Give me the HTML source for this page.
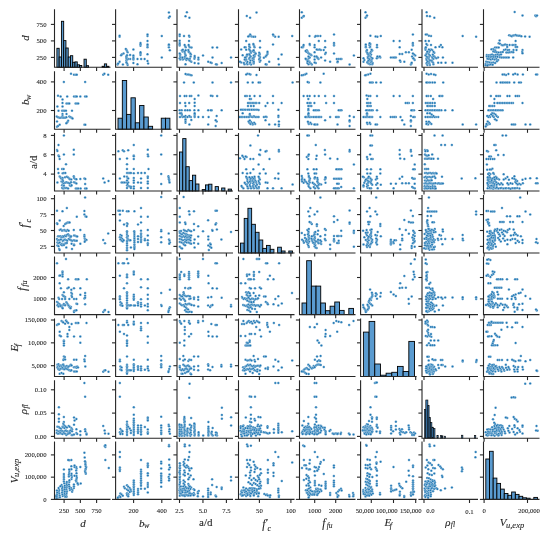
<!DOCTYPE html>
<html><head><meta charset="utf-8"><style>
html,body{margin:0;padding:0;background:#fff;}
body{width:550px;height:538px;overflow:hidden;}
svg{display:block;}
.sc circle{r:1.25px;}
</style></head><body>
<svg width="550" height="538" viewBox="0 0 550 538">
<rect width="550" height="538" fill="#ffffff"/>
<rect x="56.90" y="48.30" width="2.26" height="19.00" fill="#5a9bd0" stroke="#000" stroke-width="0.9"/>
<rect x="59.16" y="57.00" width="2.26" height="10.30" fill="#5a9bd0" stroke="#000" stroke-width="0.9"/>
<rect x="61.42" y="21.30" width="2.26" height="46.00" fill="#5a9bd0" stroke="#000" stroke-width="0.9"/>
<rect x="63.68" y="40.60" width="2.26" height="26.70" fill="#5a9bd0" stroke="#000" stroke-width="0.9"/>
<rect x="65.94" y="48.00" width="2.26" height="19.30" fill="#5a9bd0" stroke="#000" stroke-width="0.9"/>
<rect x="68.20" y="57.00" width="2.26" height="10.30" fill="#5a9bd0" stroke="#000" stroke-width="0.9"/>
<rect x="70.47" y="55.70" width="2.26" height="11.60" fill="#5a9bd0" stroke="#000" stroke-width="0.9"/>
<rect x="72.73" y="62.30" width="2.26" height="5.00" fill="#5a9bd0" stroke="#000" stroke-width="0.9"/>
<rect x="74.99" y="61.90" width="2.26" height="5.40" fill="#5a9bd0" stroke="#000" stroke-width="0.9"/>
<rect x="77.25" y="64.80" width="2.26" height="2.50" fill="#5a9bd0" stroke="#000" stroke-width="0.9"/>
<rect x="79.51" y="65.50" width="2.26" height="1.80" fill="#5a9bd0" stroke="#000" stroke-width="0.9"/>
<rect x="84.03" y="59.20" width="2.26" height="8.10" fill="#5a9bd0" stroke="#000" stroke-width="0.9"/>
<rect x="86.29" y="65.70" width="2.26" height="1.60" fill="#5a9bd0" stroke="#000" stroke-width="0.9"/>
<rect x="102.12" y="66.30" width="2.26" height="1.00" fill="#5a9bd0" stroke="#000" stroke-width="0.9"/>
<rect x="104.38" y="63.90" width="2.26" height="3.40" fill="#5a9bd0" stroke="#000" stroke-width="0.9"/>
<rect x="106.64" y="66.30" width="2.26" height="1.00" fill="#5a9bd0" stroke="#000" stroke-width="0.9"/>
<rect x="118.00" y="118.20" width="4.33" height="11.00" fill="#5a9bd0" stroke="#000" stroke-width="0.9"/>
<rect x="122.33" y="80.50" width="4.33" height="48.70" fill="#5a9bd0" stroke="#000" stroke-width="0.9"/>
<rect x="126.65" y="114.40" width="4.33" height="14.80" fill="#5a9bd0" stroke="#000" stroke-width="0.9"/>
<rect x="130.97" y="97.80" width="4.33" height="31.40" fill="#5a9bd0" stroke="#000" stroke-width="0.9"/>
<rect x="135.30" y="122.80" width="4.33" height="6.40" fill="#5a9bd0" stroke="#000" stroke-width="0.9"/>
<rect x="139.62" y="105.50" width="4.33" height="23.70" fill="#5a9bd0" stroke="#000" stroke-width="0.9"/>
<rect x="143.95" y="117.00" width="4.33" height="12.20" fill="#5a9bd0" stroke="#000" stroke-width="0.9"/>
<rect x="148.28" y="126.30" width="4.33" height="2.90" fill="#5a9bd0" stroke="#000" stroke-width="0.9"/>
<rect x="161.25" y="118.20" width="4.33" height="11.00" fill="#5a9bd0" stroke="#000" stroke-width="0.9"/>
<rect x="165.57" y="118.20" width="4.33" height="11.00" fill="#5a9bd0" stroke="#000" stroke-width="0.9"/>
<rect x="179.50" y="152.00" width="3.24" height="39.00" fill="#5a9bd0" stroke="#000" stroke-width="0.9"/>
<rect x="182.74" y="138.60" width="3.24" height="52.40" fill="#5a9bd0" stroke="#000" stroke-width="0.9"/>
<rect x="185.99" y="166.70" width="3.24" height="24.30" fill="#5a9bd0" stroke="#000" stroke-width="0.9"/>
<rect x="189.23" y="180.60" width="3.24" height="10.40" fill="#5a9bd0" stroke="#000" stroke-width="0.9"/>
<rect x="192.47" y="175.20" width="3.24" height="15.80" fill="#5a9bd0" stroke="#000" stroke-width="0.9"/>
<rect x="195.72" y="184.00" width="3.24" height="7.00" fill="#5a9bd0" stroke="#000" stroke-width="0.9"/>
<rect x="202.21" y="189.60" width="3.24" height="1.40" fill="#5a9bd0" stroke="#000" stroke-width="0.9"/>
<rect x="205.45" y="184.90" width="3.24" height="6.10" fill="#5a9bd0" stroke="#000" stroke-width="0.9"/>
<rect x="208.69" y="184.20" width="3.24" height="6.80" fill="#5a9bd0" stroke="#000" stroke-width="0.9"/>
<rect x="215.18" y="186.60" width="3.24" height="4.40" fill="#5a9bd0" stroke="#000" stroke-width="0.9"/>
<rect x="221.67" y="188.00" width="3.24" height="3.00" fill="#5a9bd0" stroke="#000" stroke-width="0.9"/>
<rect x="228.16" y="189.10" width="3.24" height="1.90" fill="#5a9bd0" stroke="#000" stroke-width="0.9"/>
<rect x="240.50" y="243.10" width="3.71" height="9.90" fill="#5a9bd0" stroke="#000" stroke-width="0.9"/>
<rect x="244.21" y="218.40" width="3.71" height="34.60" fill="#5a9bd0" stroke="#000" stroke-width="0.9"/>
<rect x="247.93" y="208.30" width="3.71" height="44.70" fill="#5a9bd0" stroke="#000" stroke-width="0.9"/>
<rect x="251.64" y="224.30" width="3.71" height="28.70" fill="#5a9bd0" stroke="#000" stroke-width="0.9"/>
<rect x="255.36" y="232.30" width="3.71" height="20.70" fill="#5a9bd0" stroke="#000" stroke-width="0.9"/>
<rect x="259.07" y="240.00" width="3.71" height="13.00" fill="#5a9bd0" stroke="#000" stroke-width="0.9"/>
<rect x="262.79" y="248.40" width="3.71" height="4.60" fill="#5a9bd0" stroke="#000" stroke-width="0.9"/>
<rect x="266.50" y="245.40" width="3.71" height="7.60" fill="#5a9bd0" stroke="#000" stroke-width="0.9"/>
<rect x="270.21" y="249.30" width="3.71" height="3.70" fill="#5a9bd0" stroke="#000" stroke-width="0.9"/>
<rect x="277.64" y="247.20" width="3.71" height="5.80" fill="#5a9bd0" stroke="#000" stroke-width="0.9"/>
<rect x="281.36" y="251.00" width="3.71" height="2.00" fill="#5a9bd0" stroke="#000" stroke-width="0.9"/>
<rect x="288.79" y="251.00" width="3.71" height="2.00" fill="#5a9bd0" stroke="#000" stroke-width="0.9"/>
<rect x="302.00" y="303.00" width="4.68" height="11.60" fill="#5a9bd0" stroke="#000" stroke-width="0.9"/>
<rect x="306.68" y="260.70" width="4.68" height="53.90" fill="#5a9bd0" stroke="#000" stroke-width="0.9"/>
<rect x="311.36" y="286.10" width="4.68" height="28.50" fill="#5a9bd0" stroke="#000" stroke-width="0.9"/>
<rect x="316.05" y="286.10" width="4.68" height="28.50" fill="#5a9bd0" stroke="#000" stroke-width="0.9"/>
<rect x="320.73" y="303.00" width="4.68" height="11.60" fill="#5a9bd0" stroke="#000" stroke-width="0.9"/>
<rect x="325.41" y="310.70" width="4.68" height="3.90" fill="#5a9bd0" stroke="#000" stroke-width="0.9"/>
<rect x="330.09" y="306.20" width="4.68" height="8.40" fill="#5a9bd0" stroke="#000" stroke-width="0.9"/>
<rect x="334.77" y="302.00" width="4.68" height="12.60" fill="#5a9bd0" stroke="#000" stroke-width="0.9"/>
<rect x="339.45" y="310.40" width="4.68" height="4.20" fill="#5a9bd0" stroke="#000" stroke-width="0.9"/>
<rect x="348.82" y="308.40" width="4.68" height="6.20" fill="#5a9bd0" stroke="#000" stroke-width="0.9"/>
<rect x="363.40" y="332.10" width="5.68" height="44.40" fill="#5a9bd0" stroke="#000" stroke-width="0.9"/>
<rect x="369.08" y="321.40" width="5.68" height="55.10" fill="#5a9bd0" stroke="#000" stroke-width="0.9"/>
<rect x="374.76" y="364.00" width="5.68" height="12.50" fill="#5a9bd0" stroke="#000" stroke-width="0.9"/>
<rect x="380.43" y="375.20" width="5.68" height="1.30" fill="#5a9bd0" stroke="#000" stroke-width="0.9"/>
<rect x="386.11" y="373.20" width="5.68" height="3.30" fill="#5a9bd0" stroke="#000" stroke-width="0.9"/>
<rect x="391.79" y="372.30" width="5.68" height="4.20" fill="#5a9bd0" stroke="#000" stroke-width="0.9"/>
<rect x="397.47" y="366.40" width="5.68" height="10.10" fill="#5a9bd0" stroke="#000" stroke-width="0.9"/>
<rect x="403.14" y="371.50" width="5.68" height="5.00" fill="#5a9bd0" stroke="#000" stroke-width="0.9"/>
<rect x="408.82" y="341.40" width="5.68" height="35.10" fill="#5a9bd0" stroke="#000" stroke-width="0.9"/>
<rect x="485.80" y="459.00" width="3.69" height="40.40" fill="#5a9bd0" stroke="#000" stroke-width="0.9"/>
<rect x="489.49" y="451.30" width="3.69" height="48.10" fill="#5a9bd0" stroke="#000" stroke-width="0.9"/>
<rect x="493.19" y="478.10" width="3.69" height="21.30" fill="#5a9bd0" stroke="#000" stroke-width="0.9"/>
<rect x="496.88" y="483.40" width="3.69" height="16.00" fill="#5a9bd0" stroke="#000" stroke-width="0.9"/>
<rect x="500.57" y="489.10" width="3.69" height="10.30" fill="#5a9bd0" stroke="#000" stroke-width="0.9"/>
<rect x="504.26" y="493.50" width="3.69" height="5.90" fill="#5a9bd0" stroke="#000" stroke-width="0.9"/>
<rect x="507.96" y="495.30" width="3.69" height="4.10" fill="#5a9bd0" stroke="#000" stroke-width="0.9"/>
<rect x="511.65" y="492.00" width="3.69" height="7.40" fill="#5a9bd0" stroke="#000" stroke-width="0.9"/>
<rect x="515.34" y="494.40" width="3.69" height="5.00" fill="#5a9bd0" stroke="#000" stroke-width="0.9"/>
<rect x="519.04" y="496.30" width="3.69" height="3.10" fill="#5a9bd0" stroke="#000" stroke-width="0.9"/>
<rect x="522.73" y="497.80" width="3.69" height="1.60" fill="#5a9bd0" stroke="#000" stroke-width="0.9"/>
<rect x="526.42" y="498.20" width="3.69" height="1.20" fill="#5a9bd0" stroke="#000" stroke-width="0.9"/>
<rect x="533.81" y="497.40" width="3.69" height="2.00" fill="#5a9bd0" stroke="#000" stroke-width="0.9"/>
<rect x="424.50" y="409.60" width="1.30" height="28.60" fill="#3b78ad" stroke="#000" stroke-width="0.6"/>
<rect x="425.80" y="400.00" width="2.10" height="38.20" fill="#3b78ad" stroke="#000" stroke-width="0.6"/>
<rect x="427.90" y="405.50" width="1.20" height="32.70" fill="#3b78ad" stroke="#000" stroke-width="0.6"/>
<rect x="429.10" y="417.60" width="1.30" height="20.60" fill="#3b78ad" stroke="#000" stroke-width="0.6"/>
<rect x="430.40" y="422.60" width="1.50" height="15.60" fill="#3b78ad" stroke="#000" stroke-width="0.6"/>
<rect x="431.90" y="427.20" width="1.40" height="11.00" fill="#3b78ad" stroke="#000" stroke-width="0.6"/>
<rect x="433.30" y="428.50" width="1.70" height="9.70" fill="#3b78ad" stroke="#000" stroke-width="0.6"/>
<rect x="436.90" y="435.30" width="1.30" height="2.90" fill="#3b78ad" stroke="#000" stroke-width="0.6"/>
<rect x="440.40" y="435.50" width="1.30" height="2.70" fill="#3b78ad" stroke="#000" stroke-width="0.6"/>
<rect x="441.70" y="435.80" width="1.30" height="2.40" fill="#3b78ad" stroke="#000" stroke-width="0.6"/>
<rect x="444.30" y="436.20" width="1.30" height="2.00" fill="#3b78ad" stroke="#000" stroke-width="0.6"/>
<rect x="461.60" y="435.20" width="1.30" height="3.00" fill="#3b78ad" stroke="#000" stroke-width="0.6"/>
<rect x="474.50" y="435.50" width="1.30" height="2.70" fill="#3b78ad" stroke="#000" stroke-width="0.6"/>
<g class="sc" fill="#1f77b4" stroke="#ffffff" stroke-width="0.3">
<circle cx="169.8" cy="50.3"/>
<circle cx="168.9" cy="47.3"/>
<circle cx="168.9" cy="45.5"/>
<circle cx="168.9" cy="44.5"/>
<circle cx="168.9" cy="17.7"/>
<circle cx="169.8" cy="16.5"/>
<circle cx="168.9" cy="12.6"/>
<circle cx="161.8" cy="57.6"/>
<circle cx="161.8" cy="36.1"/>
<circle cx="148.1" cy="63.6"/>
<circle cx="147.5" cy="61.0"/>
<circle cx="147.5" cy="54.2"/>
<circle cx="147.5" cy="47.3"/>
<circle cx="147.5" cy="45.8"/>
<circle cx="147.5" cy="44.5"/>
<circle cx="147.5" cy="40.9"/>
<circle cx="147.5" cy="36.1"/>
<circle cx="147.5" cy="34.6"/>
<circle cx="144.6" cy="59.0"/>
<circle cx="141.1" cy="59.0"/>
<circle cx="140.5" cy="54.9"/>
<circle cx="140.5" cy="53.4"/>
<circle cx="140.5" cy="52.2"/>
<circle cx="140.5" cy="45.8"/>
<circle cx="140.5" cy="44.3"/>
<circle cx="140.5" cy="43.1"/>
<circle cx="137.5" cy="64.2"/>
<circle cx="137.5" cy="59.0"/>
<circle cx="133.4" cy="63.0"/>
<circle cx="133.4" cy="59.4"/>
<circle cx="133.4" cy="58.2"/>
<circle cx="133.4" cy="57.0"/>
<circle cx="133.4" cy="55.4"/>
<circle cx="133.4" cy="49.4"/>
<circle cx="130.1" cy="59.0"/>
<circle cx="130.1" cy="54.9"/>
<circle cx="128.2" cy="59.0"/>
<circle cx="127.6" cy="64.9"/>
<circle cx="127.0" cy="63.6"/>
<circle cx="126.4" cy="62.2"/>
<circle cx="126.4" cy="60.6"/>
<circle cx="127.0" cy="59.4"/>
<circle cx="126.4" cy="58.6"/>
<circle cx="126.4" cy="57.6"/>
<circle cx="126.4" cy="56.4"/>
<circle cx="127.0" cy="55.2"/>
<circle cx="127.6" cy="52.2"/>
<circle cx="127.0" cy="50.9"/>
<circle cx="126.4" cy="49.7"/>
<circle cx="125.8" cy="48.9"/>
<circle cx="122.9" cy="64.6"/>
<circle cx="123.5" cy="53.4"/>
<circle cx="121.9" cy="54.2"/>
<circle cx="121.1" cy="55.2"/>
<circle cx="119.6" cy="61.8"/>
<circle cx="119.6" cy="36.8"/>
<circle cx="119.6" cy="35.8"/>
<circle cx="117.6" cy="64.6"/>
<circle cx="118.2" cy="63.6"/>
<circle cx="231.0" cy="57.6"/>
<circle cx="221.7" cy="63.0"/>
<circle cx="216.9" cy="64.6"/>
<circle cx="216.0" cy="64.2"/>
<circle cx="217.1" cy="47.6"/>
<circle cx="211.7" cy="63.0"/>
<circle cx="210.5" cy="62.4"/>
<circle cx="208.2" cy="61.8"/>
<circle cx="212.5" cy="57.6"/>
<circle cx="212.5" cy="47.6"/>
<circle cx="203.0" cy="55.4"/>
<circle cx="198.4" cy="63.6"/>
<circle cx="198.4" cy="59.4"/>
<circle cx="198.4" cy="57.8"/>
<circle cx="194.7" cy="63.0"/>
<circle cx="194.4" cy="58.8"/>
<circle cx="194.7" cy="57.6"/>
<circle cx="194.7" cy="56.1"/>
<circle cx="191.3" cy="61.8"/>
<circle cx="190.3" cy="61.0"/>
<circle cx="189.4" cy="60.3"/>
<circle cx="189.8" cy="58.8"/>
<circle cx="190.6" cy="56.4"/>
<circle cx="190.9" cy="54.6"/>
<circle cx="190.3" cy="53.4"/>
<circle cx="189.2" cy="52.2"/>
<circle cx="188.6" cy="51.6"/>
<circle cx="188.3" cy="50.1"/>
<circle cx="191.5" cy="47.6"/>
<circle cx="189.8" cy="47.3"/>
<circle cx="189.0" cy="46.1"/>
<circle cx="188.6" cy="44.9"/>
<circle cx="189.0" cy="40.9"/>
<circle cx="189.4" cy="36.8"/>
<circle cx="189.0" cy="35.8"/>
<circle cx="185.5" cy="64.2"/>
<circle cx="186.3" cy="60.0"/>
<circle cx="185.1" cy="58.8"/>
<circle cx="184.6" cy="57.6"/>
<circle cx="185.1" cy="56.4"/>
<circle cx="185.7" cy="55.2"/>
<circle cx="185.1" cy="54.0"/>
<circle cx="184.8" cy="52.8"/>
<circle cx="184.6" cy="51.6"/>
<circle cx="185.7" cy="50.3"/>
<circle cx="185.7" cy="47.3"/>
<circle cx="185.1" cy="46.1"/>
<circle cx="184.6" cy="44.9"/>
<circle cx="184.0" cy="36.1"/>
<circle cx="182.8" cy="59.4"/>
<circle cx="182.0" cy="58.2"/>
<circle cx="182.3" cy="57.6"/>
<circle cx="182.5" cy="51.6"/>
<circle cx="182.0" cy="50.3"/>
<circle cx="182.8" cy="49.7"/>
<circle cx="180.2" cy="59.4"/>
<circle cx="179.7" cy="58.2"/>
<circle cx="180.2" cy="57.0"/>
<circle cx="180.0" cy="55.8"/>
<circle cx="180.2" cy="54.6"/>
<circle cx="179.7" cy="53.4"/>
<circle cx="179.7" cy="45.5"/>
<circle cx="179.7" cy="44.3"/>
<circle cx="179.7" cy="43.1"/>
<circle cx="179.7" cy="40.7"/>
<circle cx="179.7" cy="36.1"/>
<circle cx="179.7" cy="34.6"/>
<circle cx="189.4" cy="17.7"/>
<circle cx="185.5" cy="16.3"/>
<circle cx="186.9" cy="12.3"/>
<circle cx="188.0" cy="59.0"/>
<circle cx="186.9" cy="58.6"/>
<circle cx="292.2" cy="36.1"/>
<circle cx="281.6" cy="54.6"/>
<circle cx="278.9" cy="64.6"/>
<circle cx="278.4" cy="59.0"/>
<circle cx="278.7" cy="36.8"/>
<circle cx="275.1" cy="36.8"/>
<circle cx="273.4" cy="35.6"/>
<circle cx="273.0" cy="34.6"/>
<circle cx="273.0" cy="44.5"/>
<circle cx="269.2" cy="61.8"/>
<circle cx="266.6" cy="64.6"/>
<circle cx="265.7" cy="64.2"/>
<circle cx="263.9" cy="57.8"/>
<circle cx="265.7" cy="56.4"/>
<circle cx="266.6" cy="55.2"/>
<circle cx="267.5" cy="54.0"/>
<circle cx="267.5" cy="52.8"/>
<circle cx="267.5" cy="51.8"/>
<circle cx="259.8" cy="61.8"/>
<circle cx="260.4" cy="60.6"/>
<circle cx="259.2" cy="59.4"/>
<circle cx="259.6" cy="58.2"/>
<circle cx="260.0" cy="57.0"/>
<circle cx="259.2" cy="56.1"/>
<circle cx="258.9" cy="55.2"/>
<circle cx="259.8" cy="54.0"/>
<circle cx="259.2" cy="52.8"/>
<circle cx="260.0" cy="47.6"/>
<circle cx="260.0" cy="40.9"/>
<circle cx="253.7" cy="63.6"/>
<circle cx="253.7" cy="62.4"/>
<circle cx="253.7" cy="61.2"/>
<circle cx="252.7" cy="60.0"/>
<circle cx="253.7" cy="59.0"/>
<circle cx="252.7" cy="58.2"/>
<circle cx="253.7" cy="57.6"/>
<circle cx="254.5" cy="56.4"/>
<circle cx="253.7" cy="55.4"/>
<circle cx="255.1" cy="54.6"/>
<circle cx="255.7" cy="53.4"/>
<circle cx="254.5" cy="52.2"/>
<circle cx="253.7" cy="51.6"/>
<circle cx="252.7" cy="50.9"/>
<circle cx="253.7" cy="50.3"/>
<circle cx="254.5" cy="47.3"/>
<circle cx="254.1" cy="46.1"/>
<circle cx="253.7" cy="44.9"/>
<circle cx="253.3" cy="44.1"/>
<circle cx="255.1" cy="36.8"/>
<circle cx="253.3" cy="36.8"/>
<circle cx="251.5" cy="36.4"/>
<circle cx="250.6" cy="35.8"/>
<circle cx="250.1" cy="34.6"/>
<circle cx="249.2" cy="36.1"/>
<circle cx="248.2" cy="36.4"/>
<circle cx="256.5" cy="12.6"/>
<circle cx="251.0" cy="64.6"/>
<circle cx="249.8" cy="63.6"/>
<circle cx="250.1" cy="62.4"/>
<circle cx="250.4" cy="60.6"/>
<circle cx="249.2" cy="58.8"/>
<circle cx="249.8" cy="57.6"/>
<circle cx="250.6" cy="56.4"/>
<circle cx="249.8" cy="55.2"/>
<circle cx="249.2" cy="54.2"/>
<circle cx="251.0" cy="52.8"/>
<circle cx="250.4" cy="51.6"/>
<circle cx="249.8" cy="50.3"/>
<circle cx="249.2" cy="49.1"/>
<circle cx="249.8" cy="47.3"/>
<circle cx="249.2" cy="46.1"/>
<circle cx="249.2" cy="44.5"/>
<circle cx="247.4" cy="64.2"/>
<circle cx="246.8" cy="63.0"/>
<circle cx="247.4" cy="61.8"/>
<circle cx="245.6" cy="60.6"/>
<circle cx="246.2" cy="59.4"/>
<circle cx="245.6" cy="58.2"/>
<circle cx="246.2" cy="57.0"/>
<circle cx="246.8" cy="55.8"/>
<circle cx="247.1" cy="54.6"/>
<circle cx="246.2" cy="49.7"/>
<circle cx="245.6" cy="47.3"/>
<circle cx="250.1" cy="17.7"/>
<circle cx="246.8" cy="15.9"/>
<circle cx="244.5" cy="64.2"/>
<circle cx="243.9" cy="63.0"/>
<circle cx="244.7" cy="59.4"/>
<circle cx="245.1" cy="57.6"/>
<circle cx="242.7" cy="55.2"/>
<circle cx="244.7" cy="47.3"/>
<circle cx="246.2" cy="40.9"/>
<circle cx="241.2" cy="62.4"/>
<circle cx="240.0" cy="61.8"/>
<circle cx="241.2" cy="49.4"/>
<circle cx="353.9" cy="55.4"/>
<circle cx="349.6" cy="64.6"/>
<circle cx="341.5" cy="59.0"/>
<circle cx="340.3" cy="59.0"/>
<circle cx="338.7" cy="59.0"/>
<circle cx="336.8" cy="59.0"/>
<circle cx="337.5" cy="62.2"/>
<circle cx="337.7" cy="61.5"/>
<circle cx="334.0" cy="53.4"/>
<circle cx="334.0" cy="45.5"/>
<circle cx="334.0" cy="44.1"/>
<circle cx="334.0" cy="42.9"/>
<circle cx="334.0" cy="34.4"/>
<circle cx="330.1" cy="61.8"/>
<circle cx="325.1" cy="60.6"/>
<circle cx="325.1" cy="54.0"/>
<circle cx="325.8" cy="52.8"/>
<circle cx="323.7" cy="50.1"/>
<circle cx="325.1" cy="47.3"/>
<circle cx="325.1" cy="40.9"/>
<circle cx="321.1" cy="57.6"/>
<circle cx="320.8" cy="50.1"/>
<circle cx="319.6" cy="49.4"/>
<circle cx="318.5" cy="59.0"/>
<circle cx="317.9" cy="58.2"/>
<circle cx="317.3" cy="57.6"/>
<circle cx="316.5" cy="56.4"/>
<circle cx="317.9" cy="49.7"/>
<circle cx="316.7" cy="49.4"/>
<circle cx="318.8" cy="40.9"/>
<circle cx="320.4" cy="36.1"/>
<circle cx="317.9" cy="36.1"/>
<circle cx="315.8" cy="63.0"/>
<circle cx="314.6" cy="62.4"/>
<circle cx="314.6" cy="59.4"/>
<circle cx="314.6" cy="56.4"/>
<circle cx="314.6" cy="52.2"/>
<circle cx="314.6" cy="47.3"/>
<circle cx="314.6" cy="44.9"/>
<circle cx="315.0" cy="36.8"/>
<circle cx="315.8" cy="36.1"/>
<circle cx="311.8" cy="64.6"/>
<circle cx="310.9" cy="63.6"/>
<circle cx="309.9" cy="63.0"/>
<circle cx="309.5" cy="61.8"/>
<circle cx="308.5" cy="61.0"/>
<circle cx="307.9" cy="60.0"/>
<circle cx="308.8" cy="58.2"/>
<circle cx="309.7" cy="57.6"/>
<circle cx="308.5" cy="56.4"/>
<circle cx="311.4" cy="55.2"/>
<circle cx="310.6" cy="54.6"/>
<circle cx="309.7" cy="54.0"/>
<circle cx="308.8" cy="53.4"/>
<circle cx="307.9" cy="52.8"/>
<circle cx="307.4" cy="51.6"/>
<circle cx="306.8" cy="50.3"/>
<circle cx="309.9" cy="44.9"/>
<circle cx="309.7" cy="44.1"/>
<circle cx="309.5" cy="36.1"/>
<circle cx="308.5" cy="64.2"/>
<circle cx="307.4" cy="63.0"/>
<circle cx="307.6" cy="61.2"/>
<circle cx="306.4" cy="59.4"/>
<circle cx="305.6" cy="58.8"/>
<circle cx="306.4" cy="51.8"/>
<circle cx="305.6" cy="50.9"/>
<circle cx="302.9" cy="47.3"/>
<circle cx="301.8" cy="47.3"/>
<circle cx="303.3" cy="46.1"/>
<circle cx="303.6" cy="44.9"/>
<circle cx="301.8" cy="17.7"/>
<circle cx="303.3" cy="16.5"/>
<circle cx="303.9" cy="15.9"/>
<circle cx="301.8" cy="12.3"/>
<circle cx="410.9" cy="64.6"/>
<circle cx="411.5" cy="63.6"/>
<circle cx="411.7" cy="62.7"/>
<circle cx="414.7" cy="60.0"/>
<circle cx="414.0" cy="59.0"/>
<circle cx="413.2" cy="58.2"/>
<circle cx="412.1" cy="56.4"/>
<circle cx="415.2" cy="55.4"/>
<circle cx="414.0" cy="54.6"/>
<circle cx="412.9" cy="53.4"/>
<circle cx="411.7" cy="49.7"/>
<circle cx="412.9" cy="45.5"/>
<circle cx="412.9" cy="44.1"/>
<circle cx="412.9" cy="42.9"/>
<circle cx="412.9" cy="34.6"/>
<circle cx="408.9" cy="52.2"/>
<circle cx="405.9" cy="52.2"/>
<circle cx="404.3" cy="61.8"/>
<circle cx="400.5" cy="61.8"/>
<circle cx="399.9" cy="60.6"/>
<circle cx="402.2" cy="54.0"/>
<circle cx="399.7" cy="54.0"/>
<circle cx="399.7" cy="47.3"/>
<circle cx="399.7" cy="40.9"/>
<circle cx="395.9" cy="57.6"/>
<circle cx="394.7" cy="57.6"/>
<circle cx="393.0" cy="57.6"/>
<circle cx="390.9" cy="57.6"/>
<circle cx="393.6" cy="40.9"/>
<circle cx="380.3" cy="57.6"/>
<circle cx="379.7" cy="56.6"/>
<circle cx="377.7" cy="57.6"/>
<circle cx="376.8" cy="58.2"/>
<circle cx="377.4" cy="56.4"/>
<circle cx="377.0" cy="47.3"/>
<circle cx="377.0" cy="44.9"/>
<circle cx="380.8" cy="36.1"/>
<circle cx="377.4" cy="36.8"/>
<circle cx="375.6" cy="36.4"/>
<circle cx="370.4" cy="35.8"/>
<circle cx="372.2" cy="64.2"/>
<circle cx="372.7" cy="63.0"/>
<circle cx="371.2" cy="62.4"/>
<circle cx="370.4" cy="61.8"/>
<circle cx="371.6" cy="61.0"/>
<circle cx="371.0" cy="60.0"/>
<circle cx="371.9" cy="59.0"/>
<circle cx="372.4" cy="58.2"/>
<circle cx="371.0" cy="57.6"/>
<circle cx="369.9" cy="56.6"/>
<circle cx="370.4" cy="55.8"/>
<circle cx="371.0" cy="54.6"/>
<circle cx="369.9" cy="53.7"/>
<circle cx="370.4" cy="52.8"/>
<circle cx="371.2" cy="51.6"/>
<circle cx="372.2" cy="50.6"/>
<circle cx="371.6" cy="49.7"/>
<circle cx="369.9" cy="64.2"/>
<circle cx="368.7" cy="63.6"/>
<circle cx="367.8" cy="63.0"/>
<circle cx="367.3" cy="62.2"/>
<circle cx="368.1" cy="61.2"/>
<circle cx="368.7" cy="60.3"/>
<circle cx="369.3" cy="59.0"/>
<circle cx="368.1" cy="58.2"/>
<circle cx="367.8" cy="57.0"/>
<circle cx="368.7" cy="55.8"/>
<circle cx="368.1" cy="54.6"/>
<circle cx="367.5" cy="53.4"/>
<circle cx="367.0" cy="52.2"/>
<circle cx="366.4" cy="50.9"/>
<circle cx="367.0" cy="50.1"/>
<circle cx="369.9" cy="47.3"/>
<circle cx="370.1" cy="46.1"/>
<circle cx="369.3" cy="44.9"/>
<circle cx="370.4" cy="44.1"/>
<circle cx="369.6" cy="43.3"/>
<circle cx="365.8" cy="47.3"/>
<circle cx="365.8" cy="46.1"/>
<circle cx="365.8" cy="44.5"/>
<circle cx="363.5" cy="61.8"/>
<circle cx="364.3" cy="60.0"/>
<circle cx="363.5" cy="58.2"/>
<circle cx="365.5" cy="17.7"/>
<circle cx="366.6" cy="16.5"/>
<circle cx="367.0" cy="15.5"/>
<circle cx="365.5" cy="12.3"/>
<circle cx="476.1" cy="36.8"/>
<circle cx="462.7" cy="36.1"/>
<circle cx="452.5" cy="62.7"/>
<circle cx="445.6" cy="62.7"/>
<circle cx="441.3" cy="62.7"/>
<circle cx="438.2" cy="62.7"/>
<circle cx="442.9" cy="57.6"/>
<circle cx="442.4" cy="47.3"/>
<circle cx="439.4" cy="46.7"/>
<circle cx="440.9" cy="44.9"/>
<circle cx="438.0" cy="57.6"/>
<circle cx="436.3" cy="58.2"/>
<circle cx="435.1" cy="57.6"/>
<circle cx="434.3" cy="56.6"/>
<circle cx="435.5" cy="47.3"/>
<circle cx="433.4" cy="64.2"/>
<circle cx="433.1" cy="62.7"/>
<circle cx="432.2" cy="61.8"/>
<circle cx="431.6" cy="60.6"/>
<circle cx="433.4" cy="59.0"/>
<circle cx="432.8" cy="58.2"/>
<circle cx="432.2" cy="57.0"/>
<circle cx="433.4" cy="55.8"/>
<circle cx="432.8" cy="54.6"/>
<circle cx="434.3" cy="52.8"/>
<circle cx="433.4" cy="51.8"/>
<circle cx="432.2" cy="50.1"/>
<circle cx="431.0" cy="49.4"/>
<circle cx="431.0" cy="44.9"/>
<circle cx="431.0" cy="36.1"/>
<circle cx="429.9" cy="64.9"/>
<circle cx="429.3" cy="63.6"/>
<circle cx="428.7" cy="62.7"/>
<circle cx="429.3" cy="61.5"/>
<circle cx="429.9" cy="60.3"/>
<circle cx="428.9" cy="59.0"/>
<circle cx="428.5" cy="57.8"/>
<circle cx="429.3" cy="56.6"/>
<circle cx="429.9" cy="55.4"/>
<circle cx="428.9" cy="54.2"/>
<circle cx="428.1" cy="53.0"/>
<circle cx="429.3" cy="51.8"/>
<circle cx="429.9" cy="50.6"/>
<circle cx="428.9" cy="49.4"/>
<circle cx="428.9" cy="40.9"/>
<circle cx="428.9" cy="35.8"/>
<circle cx="427.3" cy="64.9"/>
<circle cx="426.6" cy="63.6"/>
<circle cx="427.0" cy="62.4"/>
<circle cx="427.6" cy="61.2"/>
<circle cx="426.6" cy="60.0"/>
<circle cx="426.4" cy="58.8"/>
<circle cx="427.3" cy="57.6"/>
<circle cx="426.6" cy="56.4"/>
<circle cx="425.5" cy="55.2"/>
<circle cx="426.4" cy="54.0"/>
<circle cx="427.0" cy="52.8"/>
<circle cx="427.3" cy="51.6"/>
<circle cx="425.5" cy="49.7"/>
<circle cx="425.5" cy="48.5"/>
<circle cx="425.8" cy="47.3"/>
<circle cx="427.3" cy="44.9"/>
<circle cx="426.4" cy="44.1"/>
<circle cx="425.5" cy="40.9"/>
<circle cx="427.0" cy="34.6"/>
<circle cx="425.8" cy="34.6"/>
<circle cx="434.3" cy="17.7"/>
<circle cx="429.9" cy="16.3"/>
<circle cx="427.0" cy="15.9"/>
<circle cx="426.6" cy="12.3"/>
<circle cx="514.7" cy="12.0"/>
<circle cx="522.5" cy="15.6"/>
<circle cx="535.3" cy="15.6"/>
<circle cx="536.2" cy="16.3"/>
<circle cx="537.0" cy="15.6"/>
<circle cx="509.1" cy="35.3"/>
<circle cx="510.6" cy="35.8"/>
<circle cx="511.8" cy="36.2"/>
<circle cx="513.2" cy="35.6"/>
<circle cx="514.4" cy="35.3"/>
<circle cx="515.6" cy="35.0"/>
<circle cx="516.8" cy="35.6"/>
<circle cx="518.3" cy="35.8"/>
<circle cx="519.9" cy="35.8"/>
<circle cx="521.3" cy="36.2"/>
<circle cx="525.1" cy="36.5"/>
<circle cx="529.6" cy="36.8"/>
<circle cx="499.6" cy="40.6"/>
<circle cx="515.6" cy="40.9"/>
<circle cx="498.7" cy="43.3"/>
<circle cx="499.9" cy="43.7"/>
<circle cx="501.6" cy="45.1"/>
<circle cx="502.8" cy="45.3"/>
<circle cx="504.0" cy="44.9"/>
<circle cx="505.2" cy="44.5"/>
<circle cx="507.0" cy="44.9"/>
<circle cx="509.6" cy="44.9"/>
<circle cx="512.4" cy="45.1"/>
<circle cx="514.1" cy="44.9"/>
<circle cx="515.6" cy="45.1"/>
<circle cx="495.1" cy="47.5"/>
<circle cx="496.9" cy="47.5"/>
<circle cx="498.7" cy="47.5"/>
<circle cx="507.2" cy="46.9"/>
<circle cx="515.6" cy="46.9"/>
<circle cx="517.1" cy="46.9"/>
<circle cx="491.5" cy="49.3"/>
<circle cx="493.3" cy="48.9"/>
<circle cx="493.9" cy="49.9"/>
<circle cx="495.3" cy="50.5"/>
<circle cx="504.0" cy="49.9"/>
<circle cx="505.8" cy="49.6"/>
<circle cx="507.6" cy="50.1"/>
<circle cx="509.1" cy="49.9"/>
<circle cx="513.5" cy="50.1"/>
<circle cx="516.5" cy="50.1"/>
<circle cx="522.5" cy="50.1"/>
<circle cx="493.3" cy="51.6"/>
<circle cx="495.1" cy="52.0"/>
<circle cx="496.9" cy="52.2"/>
<circle cx="498.7" cy="52.5"/>
<circle cx="501.0" cy="52.2"/>
<circle cx="502.8" cy="52.0"/>
<circle cx="506.4" cy="52.5"/>
<circle cx="508.2" cy="52.5"/>
<circle cx="510.0" cy="52.2"/>
<circle cx="511.8" cy="52.0"/>
<circle cx="513.2" cy="52.2"/>
<circle cx="522.2" cy="52.0"/>
<circle cx="522.5" cy="53.2"/>
<circle cx="486.8" cy="54.9"/>
<circle cx="488.5" cy="55.2"/>
<circle cx="490.3" cy="54.9"/>
<circle cx="492.1" cy="54.6"/>
<circle cx="493.9" cy="55.2"/>
<circle cx="495.7" cy="54.9"/>
<circle cx="497.5" cy="54.6"/>
<circle cx="499.3" cy="54.9"/>
<circle cx="501.0" cy="54.6"/>
<circle cx="486.8" cy="56.4"/>
<circle cx="488.5" cy="56.8"/>
<circle cx="490.3" cy="57.0"/>
<circle cx="492.1" cy="56.8"/>
<circle cx="493.9" cy="57.0"/>
<circle cx="495.7" cy="56.8"/>
<circle cx="497.5" cy="56.8"/>
<circle cx="499.9" cy="57.2"/>
<circle cx="501.6" cy="57.6"/>
<circle cx="503.4" cy="57.6"/>
<circle cx="505.2" cy="57.6"/>
<circle cx="507.0" cy="57.6"/>
<circle cx="508.8" cy="57.6"/>
<circle cx="513.2" cy="57.6"/>
<circle cx="487.4" cy="58.8"/>
<circle cx="489.1" cy="59.1"/>
<circle cx="490.9" cy="59.4"/>
<circle cx="492.7" cy="59.1"/>
<circle cx="494.5" cy="59.4"/>
<circle cx="496.3" cy="59.1"/>
<circle cx="498.1" cy="60.0"/>
<circle cx="486.2" cy="61.8"/>
<circle cx="488.0" cy="62.0"/>
<circle cx="489.7" cy="62.4"/>
<circle cx="491.5" cy="62.7"/>
<circle cx="493.3" cy="62.4"/>
<circle cx="495.1" cy="63.0"/>
<circle cx="496.9" cy="61.2"/>
<circle cx="485.6" cy="64.1"/>
<circle cx="487.4" cy="64.4"/>
<circle cx="489.1" cy="64.7"/>
<circle cx="490.9" cy="64.4"/>
<circle cx="492.7" cy="64.7"/>
<circle cx="485.6" cy="65.3"/>
<circle cx="487.4" cy="65.6"/>
<circle cx="71.0" cy="73.8"/>
<circle cx="74.0" cy="74.7"/>
<circle cx="75.8" cy="74.7"/>
<circle cx="76.8" cy="74.7"/>
<circle cx="103.2" cy="74.7"/>
<circle cx="104.4" cy="73.8"/>
<circle cx="108.2" cy="74.7"/>
<circle cx="63.9" cy="81.9"/>
<circle cx="85.1" cy="81.9"/>
<circle cx="58.0" cy="95.8"/>
<circle cx="60.6" cy="96.4"/>
<circle cx="67.2" cy="96.4"/>
<circle cx="74.0" cy="96.4"/>
<circle cx="75.6" cy="96.4"/>
<circle cx="76.8" cy="96.4"/>
<circle cx="80.3" cy="96.4"/>
<circle cx="85.1" cy="96.4"/>
<circle cx="86.5" cy="96.4"/>
<circle cx="62.5" cy="99.4"/>
<circle cx="62.5" cy="102.9"/>
<circle cx="66.5" cy="103.5"/>
<circle cx="68.1" cy="103.5"/>
<circle cx="69.3" cy="103.5"/>
<circle cx="75.6" cy="103.5"/>
<circle cx="77.0" cy="103.5"/>
<circle cx="78.2" cy="103.5"/>
<circle cx="57.4" cy="106.5"/>
<circle cx="62.5" cy="106.5"/>
<circle cx="58.5" cy="110.7"/>
<circle cx="62.1" cy="110.7"/>
<circle cx="63.3" cy="110.7"/>
<circle cx="64.5" cy="110.7"/>
<circle cx="66.0" cy="110.7"/>
<circle cx="72.0" cy="110.7"/>
<circle cx="62.5" cy="114.0"/>
<circle cx="66.5" cy="114.0"/>
<circle cx="62.5" cy="116.0"/>
<circle cx="56.8" cy="116.6"/>
<circle cx="58.0" cy="117.2"/>
<circle cx="59.4" cy="117.8"/>
<circle cx="60.9" cy="117.8"/>
<circle cx="62.1" cy="117.2"/>
<circle cx="63.0" cy="117.8"/>
<circle cx="63.9" cy="117.8"/>
<circle cx="65.1" cy="117.8"/>
<circle cx="66.3" cy="117.2"/>
<circle cx="69.3" cy="116.6"/>
<circle cx="70.5" cy="117.2"/>
<circle cx="71.6" cy="117.8"/>
<circle cx="72.5" cy="118.4"/>
<circle cx="57.0" cy="121.4"/>
<circle cx="68.1" cy="120.8"/>
<circle cx="67.2" cy="122.3"/>
<circle cx="66.3" cy="123.2"/>
<circle cx="59.7" cy="124.7"/>
<circle cx="84.4" cy="124.7"/>
<circle cx="85.3" cy="124.7"/>
<circle cx="57.0" cy="126.7"/>
<circle cx="58.0" cy="126.1"/>
<circle cx="231.0" cy="82.5"/>
<circle cx="221.7" cy="110.3"/>
<circle cx="215.7" cy="126.0"/>
<circle cx="216.7" cy="121.5"/>
<circle cx="215.7" cy="120.3"/>
<circle cx="216.7" cy="115.9"/>
<circle cx="217.1" cy="96.1"/>
<circle cx="211.7" cy="110.3"/>
<circle cx="210.9" cy="110.3"/>
<circle cx="212.5" cy="96.1"/>
<circle cx="210.9" cy="95.8"/>
<circle cx="212.5" cy="82.5"/>
<circle cx="208.2" cy="124.4"/>
<circle cx="208.6" cy="117.1"/>
<circle cx="208.2" cy="110.3"/>
<circle cx="203.0" cy="117.1"/>
<circle cx="198.4" cy="117.1"/>
<circle cx="198.4" cy="110.3"/>
<circle cx="198.4" cy="95.4"/>
<circle cx="194.7" cy="117.1"/>
<circle cx="194.7" cy="115.9"/>
<circle cx="194.7" cy="114.5"/>
<circle cx="194.7" cy="113.3"/>
<circle cx="194.4" cy="110.3"/>
<circle cx="194.7" cy="106.0"/>
<circle cx="194.7" cy="102.7"/>
<circle cx="194.7" cy="99.0"/>
<circle cx="193.8" cy="82.5"/>
<circle cx="189.4" cy="124.4"/>
<circle cx="191.3" cy="119.9"/>
<circle cx="190.9" cy="117.1"/>
<circle cx="189.8" cy="116.7"/>
<circle cx="189.2" cy="115.9"/>
<circle cx="189.8" cy="110.3"/>
<circle cx="189.2" cy="103.0"/>
<circle cx="191.3" cy="96.1"/>
<circle cx="189.8" cy="96.1"/>
<circle cx="191.5" cy="75.2"/>
<circle cx="190.1" cy="74.9"/>
<circle cx="188.6" cy="74.6"/>
<circle cx="186.9" cy="74.4"/>
<circle cx="185.5" cy="74.0"/>
<circle cx="185.5" cy="122.7"/>
<circle cx="185.5" cy="121.1"/>
<circle cx="185.5" cy="119.3"/>
<circle cx="185.5" cy="117.1"/>
<circle cx="185.5" cy="115.9"/>
<circle cx="185.1" cy="110.3"/>
<circle cx="185.5" cy="106.0"/>
<circle cx="185.1" cy="103.0"/>
<circle cx="186.3" cy="96.1"/>
<circle cx="184.6" cy="96.1"/>
<circle cx="184.0" cy="82.5"/>
<circle cx="182.5" cy="117.1"/>
<circle cx="182.0" cy="115.9"/>
<circle cx="181.7" cy="114.5"/>
<circle cx="181.3" cy="113.3"/>
<circle cx="181.7" cy="110.3"/>
<circle cx="180.0" cy="117.1"/>
<circle cx="180.0" cy="113.3"/>
<circle cx="179.7" cy="110.3"/>
<circle cx="180.0" cy="103.0"/>
<circle cx="180.0" cy="96.1"/>
<circle cx="187.5" cy="117.1"/>
<circle cx="187.5" cy="110.3"/>
<circle cx="184.0" cy="116.7"/>
<circle cx="292.6" cy="82.5"/>
<circle cx="281.6" cy="103.0"/>
<circle cx="278.9" cy="126.0"/>
<circle cx="278.9" cy="124.4"/>
<circle cx="278.9" cy="121.5"/>
<circle cx="278.4" cy="117.1"/>
<circle cx="278.4" cy="115.7"/>
<circle cx="278.4" cy="109.7"/>
<circle cx="275.1" cy="124.4"/>
<circle cx="273.0" cy="103.0"/>
<circle cx="273.0" cy="96.1"/>
<circle cx="269.2" cy="124.4"/>
<circle cx="265.5" cy="120.3"/>
<circle cx="266.6" cy="117.1"/>
<circle cx="265.7" cy="116.7"/>
<circle cx="263.9" cy="117.1"/>
<circle cx="265.5" cy="106.0"/>
<circle cx="267.5" cy="103.0"/>
<circle cx="258.6" cy="117.1"/>
<circle cx="256.9" cy="117.1"/>
<circle cx="258.6" cy="109.9"/>
<circle cx="259.2" cy="103.0"/>
<circle cx="260.0" cy="96.1"/>
<circle cx="260.0" cy="82.5"/>
<circle cx="258.6" cy="82.5"/>
<circle cx="255.1" cy="123.9"/>
<circle cx="254.1" cy="122.7"/>
<circle cx="252.7" cy="124.4"/>
<circle cx="252.1" cy="123.2"/>
<circle cx="251.0" cy="122.0"/>
<circle cx="250.4" cy="123.9"/>
<circle cx="249.2" cy="122.7"/>
<circle cx="248.6" cy="121.5"/>
<circle cx="249.8" cy="120.5"/>
<circle cx="255.1" cy="117.1"/>
<circle cx="253.9" cy="116.3"/>
<circle cx="252.7" cy="117.1"/>
<circle cx="251.3" cy="116.7"/>
<circle cx="250.4" cy="115.9"/>
<circle cx="249.8" cy="115.1"/>
<circle cx="249.8" cy="113.9"/>
<circle cx="249.2" cy="117.1"/>
<circle cx="248.0" cy="117.1"/>
<circle cx="246.2" cy="117.1"/>
<circle cx="244.5" cy="117.1"/>
<circle cx="242.7" cy="117.1"/>
<circle cx="241.2" cy="117.1"/>
<circle cx="239.8" cy="117.1"/>
<circle cx="256.9" cy="109.7"/>
<circle cx="254.8" cy="109.7"/>
<circle cx="253.0" cy="109.7"/>
<circle cx="251.3" cy="109.7"/>
<circle cx="249.4" cy="109.7"/>
<circle cx="247.8" cy="109.7"/>
<circle cx="245.6" cy="109.7"/>
<circle cx="243.9" cy="109.7"/>
<circle cx="242.3" cy="109.7"/>
<circle cx="240.9" cy="109.7"/>
<circle cx="242.7" cy="113.3"/>
<circle cx="253.7" cy="106.0"/>
<circle cx="251.0" cy="106.0"/>
<circle cx="248.0" cy="106.0"/>
<circle cx="256.5" cy="103.0"/>
<circle cx="255.1" cy="103.0"/>
<circle cx="253.7" cy="103.0"/>
<circle cx="252.1" cy="103.0"/>
<circle cx="250.6" cy="103.0"/>
<circle cx="249.2" cy="103.0"/>
<circle cx="248.0" cy="103.0"/>
<circle cx="251.0" cy="99.0"/>
<circle cx="249.8" cy="99.0"/>
<circle cx="254.5" cy="96.1"/>
<circle cx="249.8" cy="96.1"/>
<circle cx="246.8" cy="96.1"/>
<circle cx="245.1" cy="96.1"/>
<circle cx="252.7" cy="82.5"/>
<circle cx="247.8" cy="82.5"/>
<circle cx="256.5" cy="74.9"/>
<circle cx="250.4" cy="74.6"/>
<circle cx="249.2" cy="74.0"/>
<circle cx="247.4" cy="73.7"/>
<circle cx="246.2" cy="74.4"/>
<circle cx="353.9" cy="117.1"/>
<circle cx="349.6" cy="126.0"/>
<circle cx="349.6" cy="121.5"/>
<circle cx="349.6" cy="120.3"/>
<circle cx="349.6" cy="115.9"/>
<circle cx="341.5" cy="110.3"/>
<circle cx="340.1" cy="110.3"/>
<circle cx="338.7" cy="110.3"/>
<circle cx="337.5" cy="124.4"/>
<circle cx="338.7" cy="117.1"/>
<circle cx="337.1" cy="117.1"/>
<circle cx="336.0" cy="117.1"/>
<circle cx="334.0" cy="103.0"/>
<circle cx="334.0" cy="96.1"/>
<circle cx="330.1" cy="117.1"/>
<circle cx="325.1" cy="120.3"/>
<circle cx="326.1" cy="103.0"/>
<circle cx="325.1" cy="96.1"/>
<circle cx="320.4" cy="82.5"/>
<circle cx="323.7" cy="73.7"/>
<circle cx="321.1" cy="117.1"/>
<circle cx="319.6" cy="117.1"/>
<circle cx="318.1" cy="117.1"/>
<circle cx="316.5" cy="117.1"/>
<circle cx="315.0" cy="117.1"/>
<circle cx="313.2" cy="117.1"/>
<circle cx="317.3" cy="124.4"/>
<circle cx="315.5" cy="124.4"/>
<circle cx="314.4" cy="124.4"/>
<circle cx="318.8" cy="110.3"/>
<circle cx="316.9" cy="110.3"/>
<circle cx="315.3" cy="110.3"/>
<circle cx="313.8" cy="110.3"/>
<circle cx="314.4" cy="103.0"/>
<circle cx="318.8" cy="96.1"/>
<circle cx="314.6" cy="96.1"/>
<circle cx="311.4" cy="123.9"/>
<circle cx="310.3" cy="122.7"/>
<circle cx="308.8" cy="123.9"/>
<circle cx="308.3" cy="122.7"/>
<circle cx="307.9" cy="121.7"/>
<circle cx="310.9" cy="117.1"/>
<circle cx="309.5" cy="117.1"/>
<circle cx="307.9" cy="117.1"/>
<circle cx="306.4" cy="117.1"/>
<circle cx="305.3" cy="117.1"/>
<circle cx="308.5" cy="115.9"/>
<circle cx="308.3" cy="114.5"/>
<circle cx="308.5" cy="113.3"/>
<circle cx="308.3" cy="110.3"/>
<circle cx="308.3" cy="109.1"/>
<circle cx="311.4" cy="106.0"/>
<circle cx="309.9" cy="106.0"/>
<circle cx="308.3" cy="106.0"/>
<circle cx="310.6" cy="103.0"/>
<circle cx="309.1" cy="103.0"/>
<circle cx="307.4" cy="103.0"/>
<circle cx="308.3" cy="99.0"/>
<circle cx="309.7" cy="96.1"/>
<circle cx="307.4" cy="96.1"/>
<circle cx="303.6" cy="96.1"/>
<circle cx="308.8" cy="82.5"/>
<circle cx="307.6" cy="82.1"/>
<circle cx="306.4" cy="73.7"/>
<circle cx="305.0" cy="74.4"/>
<circle cx="303.3" cy="74.9"/>
<circle cx="301.8" cy="75.2"/>
<circle cx="410.9" cy="126.0"/>
<circle cx="410.9" cy="121.5"/>
<circle cx="410.9" cy="120.3"/>
<circle cx="414.7" cy="117.1"/>
<circle cx="413.2" cy="117.1"/>
<circle cx="410.9" cy="115.9"/>
<circle cx="414.0" cy="110.3"/>
<circle cx="412.4" cy="110.3"/>
<circle cx="411.3" cy="110.3"/>
<circle cx="412.9" cy="103.0"/>
<circle cx="408.9" cy="103.0"/>
<circle cx="407.4" cy="103.0"/>
<circle cx="405.7" cy="103.0"/>
<circle cx="412.9" cy="96.1"/>
<circle cx="404.3" cy="124.4"/>
<circle cx="402.2" cy="120.3"/>
<circle cx="400.5" cy="117.1"/>
<circle cx="395.9" cy="117.1"/>
<circle cx="394.4" cy="117.1"/>
<circle cx="392.8" cy="117.1"/>
<circle cx="390.7" cy="117.1"/>
<circle cx="399.7" cy="96.1"/>
<circle cx="393.6" cy="96.1"/>
<circle cx="380.3" cy="117.1"/>
<circle cx="377.0" cy="124.4"/>
<circle cx="375.6" cy="124.4"/>
<circle cx="377.0" cy="110.3"/>
<circle cx="377.0" cy="96.1"/>
<circle cx="380.8" cy="82.5"/>
<circle cx="376.2" cy="82.5"/>
<circle cx="370.4" cy="123.9"/>
<circle cx="369.6" cy="122.7"/>
<circle cx="367.5" cy="123.9"/>
<circle cx="367.0" cy="122.7"/>
<circle cx="372.2" cy="117.1"/>
<circle cx="370.8" cy="117.1"/>
<circle cx="369.3" cy="117.1"/>
<circle cx="367.8" cy="117.1"/>
<circle cx="366.4" cy="117.1"/>
<circle cx="365.0" cy="117.1"/>
<circle cx="363.5" cy="117.1"/>
<circle cx="367.0" cy="115.9"/>
<circle cx="367.0" cy="114.5"/>
<circle cx="367.0" cy="113.3"/>
<circle cx="372.7" cy="110.3"/>
<circle cx="371.2" cy="110.3"/>
<circle cx="369.6" cy="110.3"/>
<circle cx="367.8" cy="110.3"/>
<circle cx="366.2" cy="110.3"/>
<circle cx="370.8" cy="106.0"/>
<circle cx="368.9" cy="106.0"/>
<circle cx="367.3" cy="106.0"/>
<circle cx="370.4" cy="103.0"/>
<circle cx="368.7" cy="103.0"/>
<circle cx="367.0" cy="103.0"/>
<circle cx="367.3" cy="99.0"/>
<circle cx="370.4" cy="96.1"/>
<circle cx="368.7" cy="96.1"/>
<circle cx="366.6" cy="95.4"/>
<circle cx="372.7" cy="82.5"/>
<circle cx="371.2" cy="82.5"/>
<circle cx="369.9" cy="82.5"/>
<circle cx="370.4" cy="73.7"/>
<circle cx="368.1" cy="74.4"/>
<circle cx="366.2" cy="74.9"/>
<circle cx="365.2" cy="75.2"/>
<circle cx="476.1" cy="124.4"/>
<circle cx="462.7" cy="124.4"/>
<circle cx="452.5" cy="110.3"/>
<circle cx="445.2" cy="110.3"/>
<circle cx="441.3" cy="110.3"/>
<circle cx="439.4" cy="110.3"/>
<circle cx="437.8" cy="110.3"/>
<circle cx="435.9" cy="110.3"/>
<circle cx="434.3" cy="110.3"/>
<circle cx="432.4" cy="110.3"/>
<circle cx="430.8" cy="110.3"/>
<circle cx="428.9" cy="110.3"/>
<circle cx="427.3" cy="110.3"/>
<circle cx="425.5" cy="110.3"/>
<circle cx="438.2" cy="117.1"/>
<circle cx="435.9" cy="117.1"/>
<circle cx="434.3" cy="117.1"/>
<circle cx="432.4" cy="117.1"/>
<circle cx="430.8" cy="117.1"/>
<circle cx="428.9" cy="117.1"/>
<circle cx="427.3" cy="117.1"/>
<circle cx="425.5" cy="117.1"/>
<circle cx="433.4" cy="115.9"/>
<circle cx="431.6" cy="114.5"/>
<circle cx="429.9" cy="113.3"/>
<circle cx="427.3" cy="113.3"/>
<circle cx="431.3" cy="123.9"/>
<circle cx="429.9" cy="122.7"/>
<circle cx="428.1" cy="124.4"/>
<circle cx="427.3" cy="123.2"/>
<circle cx="426.4" cy="121.7"/>
<circle cx="426.4" cy="123.9"/>
<circle cx="428.9" cy="121.7"/>
<circle cx="434.8" cy="106.0"/>
<circle cx="432.4" cy="106.0"/>
<circle cx="430.8" cy="106.0"/>
<circle cx="428.9" cy="106.0"/>
<circle cx="427.3" cy="106.0"/>
<circle cx="434.8" cy="103.0"/>
<circle cx="432.4" cy="103.0"/>
<circle cx="430.5" cy="103.0"/>
<circle cx="428.9" cy="103.0"/>
<circle cx="427.3" cy="103.0"/>
<circle cx="425.8" cy="103.0"/>
<circle cx="433.1" cy="99.0"/>
<circle cx="442.4" cy="96.1"/>
<circle cx="440.9" cy="96.1"/>
<circle cx="439.4" cy="96.1"/>
<circle cx="430.8" cy="96.1"/>
<circle cx="428.1" cy="96.1"/>
<circle cx="426.6" cy="96.1"/>
<circle cx="443.2" cy="82.5"/>
<circle cx="434.8" cy="82.5"/>
<circle cx="432.4" cy="82.5"/>
<circle cx="429.9" cy="82.5"/>
<circle cx="427.8" cy="82.5"/>
<circle cx="426.4" cy="82.5"/>
<circle cx="435.5" cy="74.9"/>
<circle cx="433.9" cy="74.6"/>
<circle cx="431.0" cy="74.0"/>
<circle cx="428.7" cy="74.4"/>
<circle cx="426.6" cy="73.7"/>
<circle cx="537.2" cy="74.6"/>
<circle cx="536.0" cy="74.6"/>
<circle cx="530.2" cy="124.4"/>
<circle cx="525.5" cy="124.4"/>
<circle cx="515.1" cy="124.4"/>
<circle cx="513.6" cy="124.4"/>
<circle cx="511.8" cy="124.4"/>
<circle cx="522.5" cy="103.0"/>
<circle cx="519.0" cy="96.1"/>
<circle cx="517.4" cy="96.1"/>
<circle cx="515.6" cy="96.1"/>
<circle cx="509.5" cy="96.1"/>
<circle cx="507.4" cy="96.1"/>
<circle cx="500.0" cy="96.1"/>
<circle cx="498.1" cy="96.1"/>
<circle cx="496.2" cy="96.1"/>
<circle cx="490.9" cy="96.1"/>
<circle cx="513.0" cy="103.0"/>
<circle cx="511.3" cy="103.0"/>
<circle cx="509.5" cy="103.0"/>
<circle cx="507.8" cy="103.0"/>
<circle cx="506.0" cy="103.0"/>
<circle cx="504.3" cy="103.0"/>
<circle cx="502.6" cy="103.0"/>
<circle cx="500.8" cy="103.0"/>
<circle cx="499.1" cy="103.0"/>
<circle cx="497.3" cy="103.0"/>
<circle cx="494.4" cy="103.0"/>
<circle cx="494.4" cy="99.0"/>
<circle cx="520.9" cy="82.5"/>
<circle cx="519.0" cy="82.5"/>
<circle cx="514.2" cy="82.5"/>
<circle cx="509.3" cy="82.5"/>
<circle cx="507.4" cy="82.5"/>
<circle cx="505.8" cy="82.5"/>
<circle cx="503.9" cy="82.5"/>
<circle cx="502.3" cy="82.5"/>
<circle cx="500.5" cy="82.5"/>
<circle cx="496.5" cy="82.5"/>
<circle cx="522.9" cy="74.4"/>
<circle cx="517.6" cy="74.4"/>
<circle cx="515.1" cy="73.7"/>
<circle cx="513.2" cy="74.6"/>
<circle cx="508.4" cy="74.0"/>
<circle cx="506.0" cy="74.9"/>
<circle cx="504.3" cy="74.4"/>
<circle cx="502.6" cy="74.6"/>
<circle cx="502.6" cy="110.3"/>
<circle cx="500.8" cy="110.3"/>
<circle cx="498.8" cy="110.3"/>
<circle cx="497.0" cy="110.3"/>
<circle cx="495.4" cy="110.3"/>
<circle cx="493.5" cy="110.3"/>
<circle cx="491.9" cy="110.3"/>
<circle cx="490.0" cy="110.3"/>
<circle cx="488.4" cy="110.3"/>
<circle cx="494.2" cy="106.0"/>
<circle cx="492.3" cy="106.0"/>
<circle cx="490.7" cy="106.0"/>
<circle cx="489.2" cy="106.0"/>
<circle cx="496.5" cy="120.3"/>
<circle cx="495.0" cy="119.3"/>
<circle cx="497.9" cy="117.1"/>
<circle cx="496.5" cy="115.9"/>
<circle cx="495.4" cy="114.5"/>
<circle cx="493.8" cy="113.5"/>
<circle cx="492.1" cy="113.3"/>
<circle cx="493.8" cy="117.1"/>
<circle cx="492.7" cy="115.9"/>
<circle cx="491.2" cy="114.5"/>
<circle cx="490.0" cy="117.1"/>
<circle cx="489.2" cy="115.9"/>
<circle cx="488.4" cy="117.1"/>
<circle cx="487.2" cy="115.9"/>
<circle cx="489.8" cy="123.9"/>
<circle cx="488.9" cy="122.7"/>
<circle cx="487.7" cy="121.5"/>
<circle cx="487.5" cy="124.8"/>
<circle cx="486.3" cy="125.6"/>
<circle cx="485.7" cy="126.6"/>
<circle cx="486.5" cy="123.9"/>
<circle cx="63.9" cy="135.5"/>
<circle cx="58.5" cy="145.0"/>
<circle cx="57.0" cy="150.0"/>
<circle cx="57.4" cy="151.0"/>
<circle cx="73.8" cy="149.8"/>
<circle cx="58.5" cy="155.4"/>
<circle cx="59.1" cy="156.6"/>
<circle cx="59.7" cy="159.0"/>
<circle cx="63.9" cy="154.6"/>
<circle cx="73.8" cy="154.6"/>
<circle cx="66.0" cy="164.3"/>
<circle cx="58.0" cy="169.1"/>
<circle cx="62.1" cy="169.1"/>
<circle cx="63.7" cy="169.1"/>
<circle cx="58.5" cy="172.9"/>
<circle cx="62.7" cy="173.3"/>
<circle cx="63.9" cy="172.9"/>
<circle cx="65.3" cy="172.9"/>
<circle cx="59.7" cy="176.5"/>
<circle cx="60.6" cy="177.4"/>
<circle cx="61.3" cy="178.4"/>
<circle cx="62.7" cy="178.0"/>
<circle cx="65.1" cy="177.2"/>
<circle cx="66.9" cy="176.8"/>
<circle cx="68.1" cy="177.4"/>
<circle cx="69.3" cy="178.6"/>
<circle cx="69.9" cy="179.2"/>
<circle cx="71.3" cy="179.6"/>
<circle cx="73.8" cy="176.2"/>
<circle cx="74.0" cy="178.0"/>
<circle cx="75.2" cy="178.9"/>
<circle cx="76.4" cy="179.2"/>
<circle cx="80.3" cy="178.9"/>
<circle cx="84.4" cy="178.4"/>
<circle cx="85.3" cy="178.9"/>
<circle cx="57.4" cy="182.4"/>
<circle cx="61.5" cy="181.6"/>
<circle cx="62.7" cy="182.8"/>
<circle cx="63.9" cy="183.4"/>
<circle cx="65.1" cy="182.8"/>
<circle cx="66.3" cy="182.2"/>
<circle cx="67.5" cy="182.8"/>
<circle cx="68.7" cy="183.1"/>
<circle cx="69.9" cy="183.4"/>
<circle cx="71.0" cy="182.2"/>
<circle cx="74.0" cy="182.2"/>
<circle cx="75.2" cy="182.8"/>
<circle cx="76.4" cy="183.4"/>
<circle cx="85.1" cy="184.0"/>
<circle cx="62.1" cy="185.2"/>
<circle cx="63.3" cy="186.0"/>
<circle cx="63.9" cy="185.8"/>
<circle cx="69.9" cy="185.5"/>
<circle cx="71.0" cy="186.0"/>
<circle cx="71.6" cy="185.2"/>
<circle cx="62.1" cy="187.9"/>
<circle cx="63.3" cy="188.4"/>
<circle cx="64.5" cy="187.9"/>
<circle cx="65.7" cy="188.1"/>
<circle cx="66.9" cy="187.9"/>
<circle cx="68.1" cy="188.4"/>
<circle cx="75.8" cy="188.4"/>
<circle cx="77.0" cy="188.4"/>
<circle cx="78.2" cy="188.4"/>
<circle cx="80.6" cy="188.4"/>
<circle cx="85.1" cy="188.4"/>
<circle cx="86.5" cy="188.4"/>
<circle cx="103.2" cy="178.4"/>
<circle cx="104.6" cy="182.4"/>
<circle cx="108.5" cy="181.0"/>
<circle cx="62.5" cy="179.8"/>
<circle cx="63.0" cy="181.0"/>
<circle cx="161.2" cy="135.5"/>
<circle cx="133.8" cy="145.0"/>
<circle cx="118.4" cy="151.2"/>
<circle cx="122.8" cy="150.3"/>
<circle cx="124.0" cy="151.2"/>
<circle cx="128.2" cy="150.3"/>
<circle cx="147.8" cy="149.8"/>
<circle cx="133.8" cy="155.4"/>
<circle cx="133.8" cy="156.2"/>
<circle cx="147.8" cy="154.6"/>
<circle cx="148.1" cy="156.2"/>
<circle cx="161.2" cy="154.6"/>
<circle cx="119.9" cy="159.0"/>
<circle cx="127.0" cy="158.6"/>
<circle cx="133.8" cy="159.0"/>
<circle cx="127.0" cy="164.3"/>
<circle cx="127.0" cy="169.1"/>
<circle cx="133.8" cy="169.1"/>
<circle cx="148.5" cy="169.1"/>
<circle cx="127.0" cy="172.9"/>
<circle cx="128.2" cy="172.9"/>
<circle cx="129.7" cy="172.9"/>
<circle cx="130.9" cy="172.9"/>
<circle cx="133.8" cy="173.3"/>
<circle cx="138.0" cy="172.9"/>
<circle cx="141.3" cy="172.9"/>
<circle cx="144.9" cy="172.9"/>
<circle cx="161.2" cy="173.9"/>
<circle cx="119.9" cy="178.4"/>
<circle cx="124.3" cy="176.5"/>
<circle cx="127.0" cy="176.8"/>
<circle cx="127.5" cy="178.0"/>
<circle cx="128.2" cy="178.6"/>
<circle cx="133.8" cy="178.0"/>
<circle cx="141.0" cy="178.6"/>
<circle cx="147.8" cy="176.5"/>
<circle cx="147.8" cy="178.0"/>
<circle cx="168.4" cy="176.2"/>
<circle cx="168.7" cy="177.7"/>
<circle cx="169.0" cy="179.2"/>
<circle cx="169.2" cy="181.0"/>
<circle cx="169.5" cy="182.4"/>
<circle cx="121.6" cy="182.4"/>
<circle cx="123.1" cy="182.4"/>
<circle cx="124.9" cy="182.4"/>
<circle cx="127.0" cy="182.4"/>
<circle cx="128.2" cy="182.4"/>
<circle cx="133.8" cy="182.8"/>
<circle cx="138.0" cy="182.4"/>
<circle cx="141.0" cy="182.8"/>
<circle cx="147.8" cy="181.6"/>
<circle cx="147.8" cy="183.4"/>
<circle cx="161.2" cy="184.0"/>
<circle cx="127.0" cy="185.5"/>
<circle cx="128.2" cy="186.0"/>
<circle cx="129.7" cy="186.4"/>
<circle cx="130.9" cy="186.7"/>
<circle cx="133.8" cy="186.4"/>
<circle cx="127.0" cy="188.1"/>
<circle cx="130.9" cy="188.1"/>
<circle cx="133.8" cy="188.4"/>
<circle cx="141.0" cy="188.1"/>
<circle cx="147.8" cy="188.1"/>
<circle cx="127.0" cy="180.4"/>
<circle cx="133.8" cy="180.4"/>
<circle cx="127.5" cy="184.0"/>
<circle cx="292.6" cy="184.4"/>
<circle cx="281.6" cy="188.3"/>
<circle cx="278.4" cy="178.8"/>
<circle cx="278.4" cy="173.6"/>
<circle cx="278.9" cy="151.5"/>
<circle cx="278.9" cy="150.0"/>
<circle cx="275.1" cy="178.3"/>
<circle cx="273.0" cy="188.3"/>
<circle cx="269.5" cy="159.1"/>
<circle cx="267.5" cy="188.3"/>
<circle cx="267.5" cy="182.8"/>
<circle cx="265.7" cy="182.4"/>
<circle cx="265.7" cy="173.6"/>
<circle cx="266.6" cy="150.9"/>
<circle cx="265.5" cy="151.5"/>
<circle cx="263.6" cy="169.3"/>
<circle cx="258.6" cy="188.3"/>
<circle cx="258.9" cy="187.1"/>
<circle cx="259.8" cy="184.0"/>
<circle cx="259.2" cy="182.8"/>
<circle cx="258.6" cy="181.0"/>
<circle cx="259.8" cy="179.5"/>
<circle cx="259.2" cy="177.9"/>
<circle cx="258.6" cy="176.7"/>
<circle cx="259.8" cy="173.6"/>
<circle cx="258.6" cy="164.4"/>
<circle cx="260.0" cy="154.9"/>
<circle cx="259.2" cy="154.6"/>
<circle cx="260.4" cy="150.0"/>
<circle cx="258.0" cy="135.5"/>
<circle cx="256.9" cy="188.3"/>
<circle cx="256.3" cy="187.1"/>
<circle cx="255.7" cy="185.9"/>
<circle cx="256.9" cy="184.7"/>
<circle cx="256.3" cy="182.8"/>
<circle cx="255.7" cy="181.6"/>
<circle cx="255.1" cy="180.4"/>
<circle cx="254.5" cy="179.1"/>
<circle cx="254.5" cy="177.9"/>
<circle cx="254.5" cy="176.7"/>
<circle cx="253.9" cy="188.3"/>
<circle cx="253.3" cy="187.1"/>
<circle cx="253.0" cy="185.9"/>
<circle cx="253.7" cy="184.4"/>
<circle cx="253.0" cy="183.2"/>
<circle cx="253.7" cy="182.0"/>
<circle cx="252.1" cy="181.0"/>
<circle cx="252.7" cy="179.7"/>
<circle cx="253.0" cy="178.5"/>
<circle cx="252.1" cy="177.3"/>
<circle cx="253.3" cy="169.3"/>
<circle cx="253.3" cy="158.9"/>
<circle cx="251.0" cy="188.3"/>
<circle cx="250.4" cy="186.5"/>
<circle cx="249.8" cy="184.9"/>
<circle cx="250.4" cy="182.8"/>
<circle cx="249.8" cy="181.6"/>
<circle cx="250.4" cy="179.7"/>
<circle cx="250.6" cy="178.5"/>
<circle cx="249.4" cy="177.3"/>
<circle cx="250.4" cy="173.0"/>
<circle cx="250.4" cy="158.9"/>
<circle cx="250.4" cy="145.4"/>
<circle cx="248.0" cy="188.3"/>
<circle cx="247.4" cy="186.5"/>
<circle cx="246.8" cy="184.7"/>
<circle cx="248.0" cy="182.8"/>
<circle cx="247.4" cy="181.0"/>
<circle cx="247.4" cy="179.1"/>
<circle cx="246.8" cy="177.9"/>
<circle cx="246.2" cy="176.7"/>
<circle cx="247.1" cy="173.6"/>
<circle cx="246.2" cy="169.3"/>
<circle cx="246.6" cy="157.0"/>
<circle cx="245.6" cy="156.4"/>
<circle cx="243.3" cy="188.3"/>
<circle cx="242.1" cy="187.1"/>
<circle cx="241.5" cy="185.9"/>
<circle cx="245.6" cy="184.0"/>
<circle cx="244.7" cy="182.8"/>
<circle cx="242.7" cy="173.0"/>
<circle cx="244.5" cy="158.9"/>
<circle cx="243.3" cy="157.0"/>
<circle cx="242.3" cy="155.8"/>
<circle cx="240.0" cy="158.3"/>
<circle cx="353.9" cy="188.3"/>
<circle cx="353.9" cy="164.4"/>
<circle cx="349.6" cy="151.5"/>
<circle cx="349.6" cy="150.0"/>
<circle cx="338.7" cy="188.3"/>
<circle cx="337.1" cy="188.3"/>
<circle cx="335.6" cy="188.3"/>
<circle cx="334.0" cy="188.3"/>
<circle cx="341.2" cy="186.9"/>
<circle cx="338.7" cy="183.7"/>
<circle cx="337.1" cy="183.7"/>
<circle cx="341.2" cy="178.8"/>
<circle cx="339.5" cy="178.8"/>
<circle cx="338.0" cy="178.8"/>
<circle cx="336.0" cy="178.8"/>
<circle cx="334.0" cy="178.8"/>
<circle cx="341.5" cy="169.3"/>
<circle cx="339.8" cy="169.3"/>
<circle cx="338.0" cy="169.3"/>
<circle cx="336.3" cy="169.3"/>
<circle cx="337.5" cy="158.9"/>
<circle cx="330.1" cy="158.6"/>
<circle cx="325.5" cy="182.8"/>
<circle cx="324.9" cy="179.5"/>
<circle cx="325.5" cy="178.5"/>
<circle cx="325.5" cy="177.3"/>
<circle cx="325.1" cy="154.6"/>
<circle cx="324.9" cy="150.0"/>
<circle cx="321.1" cy="184.4"/>
<circle cx="319.6" cy="184.0"/>
<circle cx="318.5" cy="184.9"/>
<circle cx="318.5" cy="188.3"/>
<circle cx="317.6" cy="187.1"/>
<circle cx="316.9" cy="185.9"/>
<circle cx="317.9" cy="182.8"/>
<circle cx="317.3" cy="181.6"/>
<circle cx="317.6" cy="179.7"/>
<circle cx="317.3" cy="177.9"/>
<circle cx="315.0" cy="188.3"/>
<circle cx="313.8" cy="187.1"/>
<circle cx="315.0" cy="184.7"/>
<circle cx="313.8" cy="183.7"/>
<circle cx="312.6" cy="182.8"/>
<circle cx="314.6" cy="178.5"/>
<circle cx="315.0" cy="177.3"/>
<circle cx="316.1" cy="173.6"/>
<circle cx="314.6" cy="173.6"/>
<circle cx="316.5" cy="169.3"/>
<circle cx="313.8" cy="169.3"/>
<circle cx="316.1" cy="159.1"/>
<circle cx="316.7" cy="155.8"/>
<circle cx="315.8" cy="145.1"/>
<circle cx="310.3" cy="188.3"/>
<circle cx="309.1" cy="187.1"/>
<circle cx="308.5" cy="185.9"/>
<circle cx="308.8" cy="184.0"/>
<circle cx="309.7" cy="182.4"/>
<circle cx="309.1" cy="181.0"/>
<circle cx="309.7" cy="179.7"/>
<circle cx="309.9" cy="178.5"/>
<circle cx="309.1" cy="177.3"/>
<circle cx="308.8" cy="176.1"/>
<circle cx="308.3" cy="173.6"/>
<circle cx="307.4" cy="169.3"/>
<circle cx="308.3" cy="159.1"/>
<circle cx="306.8" cy="157.0"/>
<circle cx="308.3" cy="155.8"/>
<circle cx="308.8" cy="154.6"/>
<circle cx="307.4" cy="183.4"/>
<circle cx="306.2" cy="182.0"/>
<circle cx="305.0" cy="181.0"/>
<circle cx="304.4" cy="179.7"/>
<circle cx="303.6" cy="182.8"/>
<circle cx="302.1" cy="181.6"/>
<circle cx="301.8" cy="179.7"/>
<circle cx="302.1" cy="177.9"/>
<circle cx="301.8" cy="176.1"/>
<circle cx="308.8" cy="135.5"/>
<circle cx="307.4" cy="135.5"/>
<circle cx="414.7" cy="188.3"/>
<circle cx="413.2" cy="187.7"/>
<circle cx="412.1" cy="186.9"/>
<circle cx="414.7" cy="183.7"/>
<circle cx="414.7" cy="178.8"/>
<circle cx="413.2" cy="178.8"/>
<circle cx="412.1" cy="177.9"/>
<circle cx="414.7" cy="169.3"/>
<circle cx="413.2" cy="169.3"/>
<circle cx="414.7" cy="164.4"/>
<circle cx="411.7" cy="155.8"/>
<circle cx="410.9" cy="151.5"/>
<circle cx="410.9" cy="150.0"/>
<circle cx="408.9" cy="183.2"/>
<circle cx="405.9" cy="183.2"/>
<circle cx="402.2" cy="183.2"/>
<circle cx="402.2" cy="176.7"/>
<circle cx="399.7" cy="178.8"/>
<circle cx="404.3" cy="158.9"/>
<circle cx="400.2" cy="158.6"/>
<circle cx="399.7" cy="154.6"/>
<circle cx="399.7" cy="150.0"/>
<circle cx="395.9" cy="183.7"/>
<circle cx="393.6" cy="188.3"/>
<circle cx="390.9" cy="183.7"/>
<circle cx="380.8" cy="184.7"/>
<circle cx="380.3" cy="173.6"/>
<circle cx="380.3" cy="169.3"/>
<circle cx="377.7" cy="188.3"/>
<circle cx="376.2" cy="184.7"/>
<circle cx="377.4" cy="183.2"/>
<circle cx="375.9" cy="179.5"/>
<circle cx="377.0" cy="178.5"/>
<circle cx="376.8" cy="176.7"/>
<circle cx="371.0" cy="188.3"/>
<circle cx="369.6" cy="188.3"/>
<circle cx="372.2" cy="184.7"/>
<circle cx="371.2" cy="183.4"/>
<circle cx="370.4" cy="182.2"/>
<circle cx="371.0" cy="181.0"/>
<circle cx="371.6" cy="179.7"/>
<circle cx="370.4" cy="178.5"/>
<circle cx="369.3" cy="177.3"/>
<circle cx="370.4" cy="173.6"/>
<circle cx="371.0" cy="169.3"/>
<circle cx="367.5" cy="187.7"/>
<circle cx="367.0" cy="186.5"/>
<circle cx="367.8" cy="185.3"/>
<circle cx="367.0" cy="184.0"/>
<circle cx="368.1" cy="182.8"/>
<circle cx="368.7" cy="181.6"/>
<circle cx="367.5" cy="180.4"/>
<circle cx="366.6" cy="179.1"/>
<circle cx="368.1" cy="177.9"/>
<circle cx="368.7" cy="176.7"/>
<circle cx="367.3" cy="173.6"/>
<circle cx="367.0" cy="169.3"/>
<circle cx="363.5" cy="186.5"/>
<circle cx="363.5" cy="185.3"/>
<circle cx="364.3" cy="182.8"/>
<circle cx="363.8" cy="177.3"/>
<circle cx="362.9" cy="176.7"/>
<circle cx="365.2" cy="181.0"/>
<circle cx="365.8" cy="179.7"/>
<circle cx="372.7" cy="159.1"/>
<circle cx="371.2" cy="158.9"/>
<circle cx="367.5" cy="159.1"/>
<circle cx="367.0" cy="157.0"/>
<circle cx="370.1" cy="154.6"/>
<circle cx="371.9" cy="145.4"/>
<circle cx="370.4" cy="145.4"/>
<circle cx="372.2" cy="135.5"/>
<circle cx="370.4" cy="135.5"/>
<circle cx="434.5" cy="135.4"/>
<circle cx="442.6" cy="135.4"/>
<circle cx="441.2" cy="144.9"/>
<circle cx="445.0" cy="144.9"/>
<circle cx="451.9" cy="144.9"/>
<circle cx="461.7" cy="178.6"/>
<circle cx="475.4" cy="178.2"/>
<circle cx="425.0" cy="149.9"/>
<circle cx="425.9" cy="150.4"/>
<circle cx="427.2" cy="150.2"/>
<circle cx="425.5" cy="151.2"/>
<circle cx="427.7" cy="151.1"/>
<circle cx="425.0" cy="154.4"/>
<circle cx="425.9" cy="155.3"/>
<circle cx="427.2" cy="155.7"/>
<circle cx="428.6" cy="155.3"/>
<circle cx="432.2" cy="154.4"/>
<circle cx="425.0" cy="158.8"/>
<circle cx="426.4" cy="158.8"/>
<circle cx="427.7" cy="158.8"/>
<circle cx="429.0" cy="158.6"/>
<circle cx="430.4" cy="158.8"/>
<circle cx="431.7" cy="158.8"/>
<circle cx="433.5" cy="158.8"/>
<circle cx="438.0" cy="158.8"/>
<circle cx="424.8" cy="164.2"/>
<circle cx="425.0" cy="168.9"/>
<circle cx="426.4" cy="168.9"/>
<circle cx="428.1" cy="168.9"/>
<circle cx="425.0" cy="173.1"/>
<circle cx="426.4" cy="172.9"/>
<circle cx="427.7" cy="173.4"/>
<circle cx="429.0" cy="173.1"/>
<circle cx="430.4" cy="172.9"/>
<circle cx="431.7" cy="173.4"/>
<circle cx="433.1" cy="173.1"/>
<circle cx="434.4" cy="173.4"/>
<circle cx="435.7" cy="173.1"/>
<circle cx="436.6" cy="173.4"/>
<circle cx="424.6" cy="177.3"/>
<circle cx="425.9" cy="176.7"/>
<circle cx="426.8" cy="177.9"/>
<circle cx="428.1" cy="177.1"/>
<circle cx="429.9" cy="177.0"/>
<circle cx="431.3" cy="177.6"/>
<circle cx="432.6" cy="176.7"/>
<circle cx="434.4" cy="176.4"/>
<circle cx="435.3" cy="178.0"/>
<circle cx="442.0" cy="176.7"/>
<circle cx="425.0" cy="180.5"/>
<circle cx="426.4" cy="180.9"/>
<circle cx="427.7" cy="180.3"/>
<circle cx="429.0" cy="180.7"/>
<circle cx="430.4" cy="180.5"/>
<circle cx="431.7" cy="180.3"/>
<circle cx="424.6" cy="183.6"/>
<circle cx="425.9" cy="183.2"/>
<circle cx="427.2" cy="183.8"/>
<circle cx="428.6" cy="183.4"/>
<circle cx="429.9" cy="183.2"/>
<circle cx="431.3" cy="183.6"/>
<circle cx="432.6" cy="183.8"/>
<circle cx="433.9" cy="183.4"/>
<circle cx="435.3" cy="183.2"/>
<circle cx="437.5" cy="183.6"/>
<circle cx="438.9" cy="183.2"/>
<circle cx="440.2" cy="183.8"/>
<circle cx="441.5" cy="183.6"/>
<circle cx="442.9" cy="183.6"/>
<circle cx="424.6" cy="186.2"/>
<circle cx="425.9" cy="186.8"/>
<circle cx="427.2" cy="186.2"/>
<circle cx="429.0" cy="186.5"/>
<circle cx="430.8" cy="186.8"/>
<circle cx="432.6" cy="186.2"/>
<circle cx="434.4" cy="186.5"/>
<circle cx="435.1" cy="186.8"/>
<circle cx="424.6" cy="188.6"/>
<circle cx="425.9" cy="188.3"/>
<circle cx="427.2" cy="188.6"/>
<circle cx="429.0" cy="188.3"/>
<circle cx="430.8" cy="188.6"/>
<circle cx="432.6" cy="188.3"/>
<circle cx="434.4" cy="188.6"/>
<circle cx="435.7" cy="188.6"/>
<circle cx="537.6" cy="183.2"/>
<circle cx="536.0" cy="183.2"/>
<circle cx="536.8" cy="178.3"/>
<circle cx="530.2" cy="178.3"/>
<circle cx="525.5" cy="178.8"/>
<circle cx="522.9" cy="183.2"/>
<circle cx="520.6" cy="184.4"/>
<circle cx="519.0" cy="183.7"/>
<circle cx="522.5" cy="179.7"/>
<circle cx="517.6" cy="184.4"/>
<circle cx="516.3" cy="183.2"/>
<circle cx="515.3" cy="182.0"/>
<circle cx="517.1" cy="181.0"/>
<circle cx="515.6" cy="179.7"/>
<circle cx="514.2" cy="178.8"/>
<circle cx="512.4" cy="178.3"/>
<circle cx="514.4" cy="176.3"/>
<circle cx="512.4" cy="183.7"/>
<circle cx="510.5" cy="183.2"/>
<circle cx="508.4" cy="184.4"/>
<circle cx="507.4" cy="183.2"/>
<circle cx="508.9" cy="179.7"/>
<circle cx="507.4" cy="177.0"/>
<circle cx="505.5" cy="178.5"/>
<circle cx="503.7" cy="179.5"/>
<circle cx="503.7" cy="174.2"/>
<circle cx="502.6" cy="184.4"/>
<circle cx="501.2" cy="183.2"/>
<circle cx="499.7" cy="184.4"/>
<circle cx="498.1" cy="183.4"/>
<circle cx="499.1" cy="179.5"/>
<circle cx="497.7" cy="178.8"/>
<circle cx="496.5" cy="177.5"/>
<circle cx="495.6" cy="176.7"/>
<circle cx="486.9" cy="164.4"/>
<circle cx="494.4" cy="159.1"/>
<circle cx="492.7" cy="159.1"/>
<circle cx="490.4" cy="159.1"/>
<circle cx="488.4" cy="159.1"/>
<circle cx="486.5" cy="159.1"/>
<circle cx="490.9" cy="156.4"/>
<circle cx="489.2" cy="156.4"/>
<circle cx="503.7" cy="154.9"/>
<circle cx="498.1" cy="154.9"/>
<circle cx="488.0" cy="151.5"/>
<circle cx="486.9" cy="150.9"/>
<circle cx="496.2" cy="150.3"/>
<circle cx="495.6" cy="145.1"/>
<circle cx="494.2" cy="145.1"/>
<circle cx="506.0" cy="135.5"/>
<circle cx="502.6" cy="135.5"/>
<circle cx="519.4" cy="188.4"/>
<circle cx="517.1" cy="188.1"/>
<circle cx="515.5" cy="188.3"/>
<circle cx="514.1" cy="188.2"/>
<circle cx="512.2" cy="188.2"/>
<circle cx="510.5" cy="188.7"/>
<circle cx="508.8" cy="188.2"/>
<circle cx="506.5" cy="188.2"/>
<circle cx="505.2" cy="188.3"/>
<circle cx="503.2" cy="188.4"/>
<circle cx="501.5" cy="188.1"/>
<circle cx="500.2" cy="188.2"/>
<circle cx="498.3" cy="188.6"/>
<circle cx="496.5" cy="188.2"/>
<circle cx="495.0" cy="188.3"/>
<circle cx="493.1" cy="188.7"/>
<circle cx="491.0" cy="188.2"/>
<circle cx="489.6" cy="188.2"/>
<circle cx="487.7" cy="188.3"/>
<circle cx="496.7" cy="187.2"/>
<circle cx="496.6" cy="184.7"/>
<circle cx="495.6" cy="182.8"/>
<circle cx="496.2" cy="182.2"/>
<circle cx="495.6" cy="179.3"/>
<circle cx="496.5" cy="178.0"/>
<circle cx="493.9" cy="187.5"/>
<circle cx="494.3" cy="185.7"/>
<circle cx="494.4" cy="183.9"/>
<circle cx="494.9" cy="181.0"/>
<circle cx="494.4" cy="179.3"/>
<circle cx="494.2" cy="177.4"/>
<circle cx="493.9" cy="174.0"/>
<circle cx="493.3" cy="187.1"/>
<circle cx="492.7" cy="185.9"/>
<circle cx="492.9" cy="183.5"/>
<circle cx="492.9" cy="182.1"/>
<circle cx="492.3" cy="180.0"/>
<circle cx="492.4" cy="178.6"/>
<circle cx="493.2" cy="173.1"/>
<circle cx="492.4" cy="168.7"/>
<circle cx="491.2" cy="186.6"/>
<circle cx="491.1" cy="185.4"/>
<circle cx="490.8" cy="182.8"/>
<circle cx="491.0" cy="181.8"/>
<circle cx="491.5" cy="180.1"/>
<circle cx="490.5" cy="178.4"/>
<circle cx="490.4" cy="173.9"/>
<circle cx="491.2" cy="169.6"/>
<circle cx="489.6" cy="187.1"/>
<circle cx="488.6" cy="185.4"/>
<circle cx="488.8" cy="182.9"/>
<circle cx="488.7" cy="181.4"/>
<circle cx="489.1" cy="179.2"/>
<circle cx="489.8" cy="177.6"/>
<circle cx="489.3" cy="175.7"/>
<circle cx="489.0" cy="173.3"/>
<circle cx="489.8" cy="169.6"/>
<circle cx="488.2" cy="185.9"/>
<circle cx="487.9" cy="184.7"/>
<circle cx="487.4" cy="183.1"/>
<circle cx="488.0" cy="180.3"/>
<circle cx="487.9" cy="178.9"/>
<circle cx="487.8" cy="177.2"/>
<circle cx="488.1" cy="174.1"/>
<circle cx="487.2" cy="169.7"/>
<circle cx="85.1" cy="197.4"/>
<circle cx="66.9" cy="208.1"/>
<circle cx="57.0" cy="210.8"/>
<circle cx="62.5" cy="211.3"/>
<circle cx="84.4" cy="211.0"/>
<circle cx="84.4" cy="214.6"/>
<circle cx="85.6" cy="216.4"/>
<circle cx="86.5" cy="216.8"/>
<circle cx="76.8" cy="216.8"/>
<circle cx="59.7" cy="220.6"/>
<circle cx="57.0" cy="223.2"/>
<circle cx="57.4" cy="224.1"/>
<circle cx="63.7" cy="225.9"/>
<circle cx="65.1" cy="224.1"/>
<circle cx="66.3" cy="223.2"/>
<circle cx="67.5" cy="222.4"/>
<circle cx="68.7" cy="222.4"/>
<circle cx="69.6" cy="222.4"/>
<circle cx="59.7" cy="230.1"/>
<circle cx="60.9" cy="229.5"/>
<circle cx="62.1" cy="230.7"/>
<circle cx="63.3" cy="230.3"/>
<circle cx="64.5" cy="229.9"/>
<circle cx="65.3" cy="230.7"/>
<circle cx="66.3" cy="231.0"/>
<circle cx="67.5" cy="230.1"/>
<circle cx="68.7" cy="230.7"/>
<circle cx="73.8" cy="229.9"/>
<circle cx="80.3" cy="229.9"/>
<circle cx="58.0" cy="236.3"/>
<circle cx="59.1" cy="236.3"/>
<circle cx="60.3" cy="236.3"/>
<circle cx="61.5" cy="237.2"/>
<circle cx="62.5" cy="236.3"/>
<circle cx="63.3" cy="237.2"/>
<circle cx="63.9" cy="236.3"/>
<circle cx="65.1" cy="235.5"/>
<circle cx="66.0" cy="236.3"/>
<circle cx="66.9" cy="234.9"/>
<circle cx="68.1" cy="234.3"/>
<circle cx="69.3" cy="235.5"/>
<circle cx="69.9" cy="236.3"/>
<circle cx="70.5" cy="237.2"/>
<circle cx="71.0" cy="236.3"/>
<circle cx="74.0" cy="235.5"/>
<circle cx="75.2" cy="235.8"/>
<circle cx="76.4" cy="236.3"/>
<circle cx="77.2" cy="236.6"/>
<circle cx="84.4" cy="234.9"/>
<circle cx="84.4" cy="236.6"/>
<circle cx="84.7" cy="238.4"/>
<circle cx="85.3" cy="239.4"/>
<circle cx="86.5" cy="239.9"/>
<circle cx="85.1" cy="240.8"/>
<circle cx="84.7" cy="241.8"/>
<circle cx="108.2" cy="233.4"/>
<circle cx="57.0" cy="239.0"/>
<circle cx="58.0" cy="240.2"/>
<circle cx="59.1" cy="239.9"/>
<circle cx="60.9" cy="239.6"/>
<circle cx="62.7" cy="240.8"/>
<circle cx="63.9" cy="240.2"/>
<circle cx="65.1" cy="239.4"/>
<circle cx="66.3" cy="240.2"/>
<circle cx="67.2" cy="240.8"/>
<circle cx="68.7" cy="239.0"/>
<circle cx="69.9" cy="239.6"/>
<circle cx="71.0" cy="240.2"/>
<circle cx="72.2" cy="240.8"/>
<circle cx="74.0" cy="240.2"/>
<circle cx="75.2" cy="240.8"/>
<circle cx="76.8" cy="240.8"/>
<circle cx="57.4" cy="242.6"/>
<circle cx="58.5" cy="243.2"/>
<circle cx="59.7" cy="242.6"/>
<circle cx="60.9" cy="244.4"/>
<circle cx="62.1" cy="243.8"/>
<circle cx="63.3" cy="244.4"/>
<circle cx="64.5" cy="243.8"/>
<circle cx="65.7" cy="243.2"/>
<circle cx="66.9" cy="243.0"/>
<circle cx="71.6" cy="243.8"/>
<circle cx="74.0" cy="244.4"/>
<circle cx="103.2" cy="239.9"/>
<circle cx="105.0" cy="243.2"/>
<circle cx="57.4" cy="245.6"/>
<circle cx="58.5" cy="246.2"/>
<circle cx="62.1" cy="245.3"/>
<circle cx="63.9" cy="245.0"/>
<circle cx="66.3" cy="247.4"/>
<circle cx="74.0" cy="245.3"/>
<circle cx="80.3" cy="243.8"/>
<circle cx="59.1" cy="248.9"/>
<circle cx="59.7" cy="250.1"/>
<circle cx="72.0" cy="248.9"/>
<circle cx="161.2" cy="197.0"/>
<circle cx="141.0" cy="208.1"/>
<circle cx="118.4" cy="210.8"/>
<circle cx="119.9" cy="210.8"/>
<circle cx="122.8" cy="210.8"/>
<circle cx="127.0" cy="211.3"/>
<circle cx="128.5" cy="211.3"/>
<circle cx="134.4" cy="211.3"/>
<circle cx="119.9" cy="214.6"/>
<circle cx="141.0" cy="216.8"/>
<circle cx="147.8" cy="216.8"/>
<circle cx="119.9" cy="220.6"/>
<circle cx="124.0" cy="224.4"/>
<circle cx="127.0" cy="223.2"/>
<circle cx="127.5" cy="224.1"/>
<circle cx="127.0" cy="225.9"/>
<circle cx="138.0" cy="224.4"/>
<circle cx="141.0" cy="222.4"/>
<circle cx="127.0" cy="231.3"/>
<circle cx="127.0" cy="233.1"/>
<circle cx="134.2" cy="231.3"/>
<circle cx="141.0" cy="230.7"/>
<circle cx="147.8" cy="229.9"/>
<circle cx="161.2" cy="229.9"/>
<circle cx="161.2" cy="231.3"/>
<circle cx="120.4" cy="234.9"/>
<circle cx="121.6" cy="235.8"/>
<circle cx="119.9" cy="237.2"/>
<circle cx="121.1" cy="237.8"/>
<circle cx="122.3" cy="239.0"/>
<circle cx="120.4" cy="239.6"/>
<circle cx="121.6" cy="240.8"/>
<circle cx="122.8" cy="241.4"/>
<circle cx="123.7" cy="240.2"/>
<circle cx="127.0" cy="234.9"/>
<circle cx="127.9" cy="236.0"/>
<circle cx="127.0" cy="237.2"/>
<circle cx="127.5" cy="238.7"/>
<circle cx="128.2" cy="239.6"/>
<circle cx="129.1" cy="240.2"/>
<circle cx="130.3" cy="240.2"/>
<circle cx="127.0" cy="240.8"/>
<circle cx="127.0" cy="242.0"/>
<circle cx="127.0" cy="243.8"/>
<circle cx="127.0" cy="245.6"/>
<circle cx="127.0" cy="247.4"/>
<circle cx="127.0" cy="248.9"/>
<circle cx="127.0" cy="250.3"/>
<circle cx="134.4" cy="233.1"/>
<circle cx="134.4" cy="235.1"/>
<circle cx="134.4" cy="237.0"/>
<circle cx="134.4" cy="238.7"/>
<circle cx="134.4" cy="240.6"/>
<circle cx="134.4" cy="242.2"/>
<circle cx="134.4" cy="244.4"/>
<circle cx="134.4" cy="246.2"/>
<circle cx="134.4" cy="247.7"/>
<circle cx="134.4" cy="249.1"/>
<circle cx="130.9" cy="247.4"/>
<circle cx="138.0" cy="236.3"/>
<circle cx="138.0" cy="239.0"/>
<circle cx="138.0" cy="242.0"/>
<circle cx="141.0" cy="233.4"/>
<circle cx="141.0" cy="234.9"/>
<circle cx="141.0" cy="236.3"/>
<circle cx="141.0" cy="237.8"/>
<circle cx="141.0" cy="239.4"/>
<circle cx="141.0" cy="240.8"/>
<circle cx="141.0" cy="242.0"/>
<circle cx="144.9" cy="239.0"/>
<circle cx="144.9" cy="240.2"/>
<circle cx="147.8" cy="235.5"/>
<circle cx="147.8" cy="240.2"/>
<circle cx="147.8" cy="243.2"/>
<circle cx="147.8" cy="245.0"/>
<circle cx="161.2" cy="237.2"/>
<circle cx="161.2" cy="242.2"/>
<circle cx="168.7" cy="233.4"/>
<circle cx="169.0" cy="239.6"/>
<circle cx="169.5" cy="240.8"/>
<circle cx="169.9" cy="242.6"/>
<circle cx="169.2" cy="243.8"/>
<circle cx="183.6" cy="197.0"/>
<circle cx="179.8" cy="208.1"/>
<circle cx="189.0" cy="211.3"/>
<circle cx="194.0" cy="211.3"/>
<circle cx="215.5" cy="210.8"/>
<circle cx="216.9" cy="210.8"/>
<circle cx="189.5" cy="214.6"/>
<circle cx="179.8" cy="216.8"/>
<circle cx="208.1" cy="220.3"/>
<circle cx="179.8" cy="222.4"/>
<circle cx="185.1" cy="222.4"/>
<circle cx="185.5" cy="224.1"/>
<circle cx="194.0" cy="224.1"/>
<circle cx="216.1" cy="223.2"/>
<circle cx="215.5" cy="224.4"/>
<circle cx="198.2" cy="226.3"/>
<circle cx="179.8" cy="231.3"/>
<circle cx="181.0" cy="231.0"/>
<circle cx="183.9" cy="230.1"/>
<circle cx="185.1" cy="230.7"/>
<circle cx="186.9" cy="231.3"/>
<circle cx="188.3" cy="230.1"/>
<circle cx="189.9" cy="230.7"/>
<circle cx="191.1" cy="231.3"/>
<circle cx="194.0" cy="230.1"/>
<circle cx="203.0" cy="231.3"/>
<circle cx="212.1" cy="229.9"/>
<circle cx="212.5" cy="230.7"/>
<circle cx="216.9" cy="229.5"/>
<circle cx="231.0" cy="231.9"/>
<circle cx="179.8" cy="233.1"/>
<circle cx="181.0" cy="233.7"/>
<circle cx="182.1" cy="234.3"/>
<circle cx="183.3" cy="233.1"/>
<circle cx="185.1" cy="233.7"/>
<circle cx="186.3" cy="234.3"/>
<circle cx="187.5" cy="234.9"/>
<circle cx="188.7" cy="235.5"/>
<circle cx="189.9" cy="235.5"/>
<circle cx="191.1" cy="235.5"/>
<circle cx="179.8" cy="236.0"/>
<circle cx="181.0" cy="236.6"/>
<circle cx="182.1" cy="237.0"/>
<circle cx="183.6" cy="236.3"/>
<circle cx="184.8" cy="237.0"/>
<circle cx="186.0" cy="236.3"/>
<circle cx="186.9" cy="237.8"/>
<circle cx="188.1" cy="237.2"/>
<circle cx="189.3" cy="237.0"/>
<circle cx="190.5" cy="237.8"/>
<circle cx="198.2" cy="236.6"/>
<circle cx="208.3" cy="236.6"/>
<circle cx="179.8" cy="239.0"/>
<circle cx="181.5" cy="239.6"/>
<circle cx="183.1" cy="240.2"/>
<circle cx="185.1" cy="239.6"/>
<circle cx="186.3" cy="240.2"/>
<circle cx="188.1" cy="239.6"/>
<circle cx="189.3" cy="239.4"/>
<circle cx="190.5" cy="240.6"/>
<circle cx="194.6" cy="239.6"/>
<circle cx="208.3" cy="239.6"/>
<circle cx="221.4" cy="239.6"/>
<circle cx="179.8" cy="242.0"/>
<circle cx="181.5" cy="242.6"/>
<circle cx="183.3" cy="243.2"/>
<circle cx="185.1" cy="242.0"/>
<circle cx="186.9" cy="242.6"/>
<circle cx="188.7" cy="242.6"/>
<circle cx="189.9" cy="243.2"/>
<circle cx="191.1" cy="243.8"/>
<circle cx="194.0" cy="243.0"/>
<circle cx="198.2" cy="243.8"/>
<circle cx="210.1" cy="243.4"/>
<circle cx="210.7" cy="244.4"/>
<circle cx="179.8" cy="246.8"/>
<circle cx="181.0" cy="248.0"/>
<circle cx="182.1" cy="248.5"/>
<circle cx="183.9" cy="244.4"/>
<circle cx="185.1" cy="245.3"/>
<circle cx="194.6" cy="247.4"/>
<circle cx="208.3" cy="245.6"/>
<circle cx="210.1" cy="246.8"/>
<circle cx="211.3" cy="247.7"/>
<circle cx="208.9" cy="250.1"/>
<circle cx="353.9" cy="246.7"/>
<circle cx="353.9" cy="233.1"/>
<circle cx="353.9" cy="231.9"/>
<circle cx="353.9" cy="230.7"/>
<circle cx="349.6" cy="223.8"/>
<circle cx="349.6" cy="222.6"/>
<circle cx="349.6" cy="210.6"/>
<circle cx="341.2" cy="236.1"/>
<circle cx="341.2" cy="230.7"/>
<circle cx="338.7" cy="243.1"/>
<circle cx="337.1" cy="243.1"/>
<circle cx="338.7" cy="240.7"/>
<circle cx="338.7" cy="236.1"/>
<circle cx="337.1" cy="236.1"/>
<circle cx="337.5" cy="219.9"/>
<circle cx="334.0" cy="241.5"/>
<circle cx="334.0" cy="240.3"/>
<circle cx="334.0" cy="239.1"/>
<circle cx="334.0" cy="236.1"/>
<circle cx="334.0" cy="221.9"/>
<circle cx="334.0" cy="216.3"/>
<circle cx="330.1" cy="249.1"/>
<circle cx="330.1" cy="244.7"/>
<circle cx="325.5" cy="240.3"/>
<circle cx="324.9" cy="239.1"/>
<circle cx="325.1" cy="234.9"/>
<circle cx="325.8" cy="230.1"/>
<circle cx="324.9" cy="228.9"/>
<circle cx="321.1" cy="243.9"/>
<circle cx="320.4" cy="242.7"/>
<circle cx="321.1" cy="241.5"/>
<circle cx="320.2" cy="240.3"/>
<circle cx="320.4" cy="236.3"/>
<circle cx="320.4" cy="197.6"/>
<circle cx="318.5" cy="243.3"/>
<circle cx="317.9" cy="242.1"/>
<circle cx="317.3" cy="240.9"/>
<circle cx="318.1" cy="239.7"/>
<circle cx="317.6" cy="234.3"/>
<circle cx="318.1" cy="230.7"/>
<circle cx="316.9" cy="225.9"/>
<circle cx="316.9" cy="224.3"/>
<circle cx="317.3" cy="211.5"/>
<circle cx="316.7" cy="248.1"/>
<circle cx="315.5" cy="247.5"/>
<circle cx="314.6" cy="246.3"/>
<circle cx="315.3" cy="245.1"/>
<circle cx="314.4" cy="243.9"/>
<circle cx="315.0" cy="242.7"/>
<circle cx="315.8" cy="241.5"/>
<circle cx="314.6" cy="240.3"/>
<circle cx="314.1" cy="239.1"/>
<circle cx="315.0" cy="237.9"/>
<circle cx="314.6" cy="236.7"/>
<circle cx="313.8" cy="235.5"/>
<circle cx="314.6" cy="234.3"/>
<circle cx="314.6" cy="232.7"/>
<circle cx="315.3" cy="231.9"/>
<circle cx="314.6" cy="214.5"/>
<circle cx="313.0" cy="242.7"/>
<circle cx="312.3" cy="240.9"/>
<circle cx="311.8" cy="239.7"/>
<circle cx="311.4" cy="238.5"/>
<circle cx="311.8" cy="236.3"/>
<circle cx="311.8" cy="224.1"/>
<circle cx="310.6" cy="222.6"/>
<circle cx="309.5" cy="221.9"/>
<circle cx="309.5" cy="216.3"/>
<circle cx="308.3" cy="211.5"/>
<circle cx="310.3" cy="207.9"/>
<circle cx="308.8" cy="246.9"/>
<circle cx="308.3" cy="245.5"/>
<circle cx="307.6" cy="243.9"/>
<circle cx="308.5" cy="242.7"/>
<circle cx="309.1" cy="241.5"/>
<circle cx="307.9" cy="240.3"/>
<circle cx="308.8" cy="239.1"/>
<circle cx="309.1" cy="237.9"/>
<circle cx="308.5" cy="236.7"/>
<circle cx="308.8" cy="235.5"/>
<circle cx="307.9" cy="234.3"/>
<circle cx="308.5" cy="232.7"/>
<circle cx="308.3" cy="231.3"/>
<circle cx="307.4" cy="230.1"/>
<circle cx="308.8" cy="228.9"/>
<circle cx="306.8" cy="242.1"/>
<circle cx="306.0" cy="240.9"/>
<circle cx="306.4" cy="239.1"/>
<circle cx="305.0" cy="237.9"/>
<circle cx="304.8" cy="234.9"/>
<circle cx="303.9" cy="242.7"/>
<circle cx="303.3" cy="240.9"/>
<circle cx="302.1" cy="239.7"/>
<circle cx="301.8" cy="233.1"/>
<circle cx="411.7" cy="248.1"/>
<circle cx="414.7" cy="246.7"/>
<circle cx="411.7" cy="246.0"/>
<circle cx="412.9" cy="243.3"/>
<circle cx="414.0" cy="242.3"/>
<circle cx="414.7" cy="241.1"/>
<circle cx="413.2" cy="239.9"/>
<circle cx="414.0" cy="238.7"/>
<circle cx="412.4" cy="237.5"/>
<circle cx="414.7" cy="236.1"/>
<circle cx="413.2" cy="234.9"/>
<circle cx="414.7" cy="233.1"/>
<circle cx="414.0" cy="231.9"/>
<circle cx="413.2" cy="230.7"/>
<circle cx="412.9" cy="222.6"/>
<circle cx="410.9" cy="222.6"/>
<circle cx="408.9" cy="221.9"/>
<circle cx="412.9" cy="215.9"/>
<circle cx="410.9" cy="210.6"/>
<circle cx="408.9" cy="233.7"/>
<circle cx="405.9" cy="230.1"/>
<circle cx="404.3" cy="219.9"/>
<circle cx="400.2" cy="249.3"/>
<circle cx="400.2" cy="244.7"/>
<circle cx="402.2" cy="240.3"/>
<circle cx="402.2" cy="238.7"/>
<circle cx="402.2" cy="234.9"/>
<circle cx="399.7" cy="228.9"/>
<circle cx="395.9" cy="240.3"/>
<circle cx="394.4" cy="240.3"/>
<circle cx="393.6" cy="243.3"/>
<circle cx="393.2" cy="242.1"/>
<circle cx="390.9" cy="244.5"/>
<circle cx="390.9" cy="243.3"/>
<circle cx="390.9" cy="242.1"/>
<circle cx="390.9" cy="240.9"/>
<circle cx="390.9" cy="239.7"/>
<circle cx="380.8" cy="236.3"/>
<circle cx="380.3" cy="225.9"/>
<circle cx="380.3" cy="224.1"/>
<circle cx="377.0" cy="244.5"/>
<circle cx="376.2" cy="242.7"/>
<circle cx="376.6" cy="240.9"/>
<circle cx="377.0" cy="239.7"/>
<circle cx="376.2" cy="238.5"/>
<circle cx="376.8" cy="235.5"/>
<circle cx="375.4" cy="234.9"/>
<circle cx="377.7" cy="231.9"/>
<circle cx="377.0" cy="214.5"/>
<circle cx="375.4" cy="211.5"/>
<circle cx="376.2" cy="197.4"/>
<circle cx="369.9" cy="246.9"/>
<circle cx="368.7" cy="245.7"/>
<circle cx="370.4" cy="244.5"/>
<circle cx="371.2" cy="243.3"/>
<circle cx="372.2" cy="242.1"/>
<circle cx="371.6" cy="240.9"/>
<circle cx="372.2" cy="239.7"/>
<circle cx="371.0" cy="238.5"/>
<circle cx="370.4" cy="237.3"/>
<circle cx="371.2" cy="236.1"/>
<circle cx="370.1" cy="234.9"/>
<circle cx="371.0" cy="233.7"/>
<circle cx="371.2" cy="231.9"/>
<circle cx="370.4" cy="230.1"/>
<circle cx="371.6" cy="229.5"/>
<circle cx="367.0" cy="246.9"/>
<circle cx="366.6" cy="245.5"/>
<circle cx="367.3" cy="243.9"/>
<circle cx="368.1" cy="242.7"/>
<circle cx="367.5" cy="241.5"/>
<circle cx="368.7" cy="240.3"/>
<circle cx="367.8" cy="239.1"/>
<circle cx="368.1" cy="237.9"/>
<circle cx="368.7" cy="236.7"/>
<circle cx="367.0" cy="235.5"/>
<circle cx="366.4" cy="233.9"/>
<circle cx="367.5" cy="232.5"/>
<circle cx="366.6" cy="230.1"/>
<circle cx="363.5" cy="244.5"/>
<circle cx="365.8" cy="239.9"/>
<circle cx="364.3" cy="237.3"/>
<circle cx="365.8" cy="232.7"/>
<circle cx="363.1" cy="230.7"/>
<circle cx="368.7" cy="224.3"/>
<circle cx="369.6" cy="221.9"/>
<circle cx="368.1" cy="221.9"/>
<circle cx="370.4" cy="216.3"/>
<circle cx="367.0" cy="211.5"/>
<circle cx="369.6" cy="207.9"/>
<circle cx="476.1" cy="214.5"/>
<circle cx="476.1" cy="211.5"/>
<circle cx="463.0" cy="240.3"/>
<circle cx="462.7" cy="238.7"/>
<circle cx="462.7" cy="234.9"/>
<circle cx="452.5" cy="239.1"/>
<circle cx="445.2" cy="239.1"/>
<circle cx="442.4" cy="244.3"/>
<circle cx="441.3" cy="239.1"/>
<circle cx="442.9" cy="231.5"/>
<circle cx="442.7" cy="229.5"/>
<circle cx="440.9" cy="235.5"/>
<circle cx="439.4" cy="234.9"/>
<circle cx="438.2" cy="239.9"/>
<circle cx="437.8" cy="238.7"/>
<circle cx="434.8" cy="246.7"/>
<circle cx="434.8" cy="239.9"/>
<circle cx="435.5" cy="231.9"/>
<circle cx="434.8" cy="228.9"/>
<circle cx="433.9" cy="222.3"/>
<circle cx="432.4" cy="222.3"/>
<circle cx="436.3" cy="211.5"/>
<circle cx="434.5" cy="211.5"/>
<circle cx="432.8" cy="211.5"/>
<circle cx="431.0" cy="211.5"/>
<circle cx="429.3" cy="211.5"/>
<circle cx="427.6" cy="211.5"/>
<circle cx="431.0" cy="215.9"/>
<circle cx="427.6" cy="215.9"/>
<circle cx="428.1" cy="207.9"/>
<circle cx="428.9" cy="197.4"/>
<circle cx="428.1" cy="226.2"/>
<circle cx="427.8" cy="224.7"/>
<circle cx="427.3" cy="223.1"/>
<circle cx="427.0" cy="221.7"/>
<circle cx="427.3" cy="220.2"/>
<circle cx="433.9" cy="249.3"/>
<circle cx="433.8" cy="247.3"/>
<circle cx="433.9" cy="242.3"/>
<circle cx="433.8" cy="241.0"/>
<circle cx="433.5" cy="239.0"/>
<circle cx="432.9" cy="236.7"/>
<circle cx="433.8" cy="232.3"/>
<circle cx="433.6" cy="230.4"/>
<circle cx="432.1" cy="249.5"/>
<circle cx="431.0" cy="247.1"/>
<circle cx="431.6" cy="245.8"/>
<circle cx="432.1" cy="244.5"/>
<circle cx="431.9" cy="242.3"/>
<circle cx="432.1" cy="239.9"/>
<circle cx="431.0" cy="239.1"/>
<circle cx="432.1" cy="236.7"/>
<circle cx="432.2" cy="234.8"/>
<circle cx="431.0" cy="233.1"/>
<circle cx="431.4" cy="230.8"/>
<circle cx="431.8" cy="229.8"/>
<circle cx="429.5" cy="249.8"/>
<circle cx="429.5" cy="247.5"/>
<circle cx="430.2" cy="245.9"/>
<circle cx="429.3" cy="243.5"/>
<circle cx="429.5" cy="241.6"/>
<circle cx="429.6" cy="239.9"/>
<circle cx="429.9" cy="238.9"/>
<circle cx="430.5" cy="236.9"/>
<circle cx="430.2" cy="235.5"/>
<circle cx="429.6" cy="233.4"/>
<circle cx="429.9" cy="230.7"/>
<circle cx="429.3" cy="228.9"/>
<circle cx="428.3" cy="248.7"/>
<circle cx="428.5" cy="247.9"/>
<circle cx="428.5" cy="246.1"/>
<circle cx="427.6" cy="243.7"/>
<circle cx="428.2" cy="241.7"/>
<circle cx="427.8" cy="240.1"/>
<circle cx="427.9" cy="239.0"/>
<circle cx="427.8" cy="236.2"/>
<circle cx="428.2" cy="234.6"/>
<circle cx="427.8" cy="233.5"/>
<circle cx="427.7" cy="231.5"/>
<circle cx="428.3" cy="228.9"/>
<circle cx="425.8" cy="248.8"/>
<circle cx="426.8" cy="246.6"/>
<circle cx="426.8" cy="245.6"/>
<circle cx="426.0" cy="242.8"/>
<circle cx="426.0" cy="242.0"/>
<circle cx="426.2" cy="239.1"/>
<circle cx="426.3" cy="237.5"/>
<circle cx="427.0" cy="235.4"/>
<circle cx="426.2" cy="231.9"/>
<circle cx="425.8" cy="230.1"/>
<circle cx="424.2" cy="248.2"/>
<circle cx="425.0" cy="245.3"/>
<circle cx="424.9" cy="243.0"/>
<circle cx="424.5" cy="238.8"/>
<circle cx="424.7" cy="234.0"/>
<circle cx="537.6" cy="243.1"/>
<circle cx="536.0" cy="242.3"/>
<circle cx="536.5" cy="239.1"/>
<circle cx="530.2" cy="214.5"/>
<circle cx="525.5" cy="211.5"/>
<circle cx="520.2" cy="197.4"/>
<circle cx="522.5" cy="243.1"/>
<circle cx="522.5" cy="239.9"/>
<circle cx="520.9" cy="236.3"/>
<circle cx="522.5" cy="221.9"/>
<circle cx="519.0" cy="242.1"/>
<circle cx="517.6" cy="240.7"/>
<circle cx="515.6" cy="243.1"/>
<circle cx="515.1" cy="239.1"/>
<circle cx="517.6" cy="235.5"/>
<circle cx="515.9" cy="234.3"/>
<circle cx="513.6" cy="234.9"/>
<circle cx="514.7" cy="232.7"/>
<circle cx="513.6" cy="229.5"/>
<circle cx="512.4" cy="239.1"/>
<circle cx="510.5" cy="239.9"/>
<circle cx="510.9" cy="235.5"/>
<circle cx="509.5" cy="228.9"/>
<circle cx="507.8" cy="230.1"/>
<circle cx="507.4" cy="244.3"/>
<circle cx="507.4" cy="239.7"/>
<circle cx="507.0" cy="232.2"/>
<circle cx="505.5" cy="231.3"/>
<circle cx="513.0" cy="221.9"/>
<circle cx="510.1" cy="221.9"/>
<circle cx="519.4" cy="216.3"/>
<circle cx="517.4" cy="216.3"/>
<circle cx="510.1" cy="216.3"/>
<circle cx="507.0" cy="216.3"/>
<circle cx="503.7" cy="221.9"/>
<circle cx="502.0" cy="221.9"/>
<circle cx="500.0" cy="221.9"/>
<circle cx="502.0" cy="207.9"/>
<circle cx="504.9" cy="240.7"/>
<circle cx="503.1" cy="238.5"/>
<circle cx="504.6" cy="236.1"/>
<circle cx="503.1" cy="234.3"/>
<circle cx="502.0" cy="232.5"/>
<circle cx="503.7" cy="230.7"/>
<circle cx="501.4" cy="229.5"/>
<circle cx="499.7" cy="230.1"/>
<circle cx="500.8" cy="241.5"/>
<circle cx="499.3" cy="239.7"/>
<circle cx="498.1" cy="237.9"/>
<circle cx="500.0" cy="236.1"/>
<circle cx="499.1" cy="234.3"/>
<circle cx="497.9" cy="232.5"/>
<circle cx="496.8" cy="230.7"/>
<circle cx="497.3" cy="228.9"/>
<circle cx="495.0" cy="229.5"/>
<circle cx="495.8" cy="246.7"/>
<circle cx="494.4" cy="211.5"/>
<circle cx="492.7" cy="211.5"/>
<circle cx="490.9" cy="211.5"/>
<circle cx="488.0" cy="210.9"/>
<circle cx="486.5" cy="210.9"/>
<circle cx="486.5" cy="219.9"/>
<circle cx="494.8" cy="243.9"/>
<circle cx="493.8" cy="241.6"/>
<circle cx="494.9" cy="240.4"/>
<circle cx="495.0" cy="238.9"/>
<circle cx="495.0" cy="236.9"/>
<circle cx="494.7" cy="235.2"/>
<circle cx="493.9" cy="233.0"/>
<circle cx="494.5" cy="231.0"/>
<circle cx="492.7" cy="248.2"/>
<circle cx="492.9" cy="246.5"/>
<circle cx="493.0" cy="245.1"/>
<circle cx="493.2" cy="242.1"/>
<circle cx="492.5" cy="240.9"/>
<circle cx="493.0" cy="238.6"/>
<circle cx="493.0" cy="237.6"/>
<circle cx="492.8" cy="235.6"/>
<circle cx="492.2" cy="233.1"/>
<circle cx="491.6" cy="248.8"/>
<circle cx="490.7" cy="248.1"/>
<circle cx="491.0" cy="245.2"/>
<circle cx="491.6" cy="243.8"/>
<circle cx="490.4" cy="242.2"/>
<circle cx="490.5" cy="239.9"/>
<circle cx="491.3" cy="237.9"/>
<circle cx="491.4" cy="237.2"/>
<circle cx="490.7" cy="234.9"/>
<circle cx="490.7" cy="232.5"/>
<circle cx="490.6" cy="231.1"/>
<circle cx="489.1" cy="249.4"/>
<circle cx="488.8" cy="248.1"/>
<circle cx="488.7" cy="246.1"/>
<circle cx="489.5" cy="243.7"/>
<circle cx="489.5" cy="242.6"/>
<circle cx="489.0" cy="240.1"/>
<circle cx="489.8" cy="239.0"/>
<circle cx="489.1" cy="236.1"/>
<circle cx="489.6" cy="233.2"/>
<circle cx="489.8" cy="231.2"/>
<circle cx="489.3" cy="225.5"/>
<circle cx="489.0" cy="222.9"/>
<circle cx="487.7" cy="248.2"/>
<circle cx="488.0" cy="247.3"/>
<circle cx="487.4" cy="243.9"/>
<circle cx="488.3" cy="242.4"/>
<circle cx="487.5" cy="239.7"/>
<circle cx="488.0" cy="236.2"/>
<circle cx="487.2" cy="231.7"/>
<circle cx="488.3" cy="223.8"/>
<circle cx="487.8" cy="221.9"/>
<circle cx="488.1" cy="219.6"/>
<circle cx="66.0" cy="259.0"/>
<circle cx="57.0" cy="263.3"/>
<circle cx="62.5" cy="271.6"/>
<circle cx="62.5" cy="272.8"/>
<circle cx="62.5" cy="274.5"/>
<circle cx="62.5" cy="276.4"/>
<circle cx="59.4" cy="275.7"/>
<circle cx="60.1" cy="275.4"/>
<circle cx="68.1" cy="279.2"/>
<circle cx="75.8" cy="279.2"/>
<circle cx="77.2" cy="279.2"/>
<circle cx="78.4" cy="279.2"/>
<circle cx="86.8" cy="279.2"/>
<circle cx="59.7" cy="283.2"/>
<circle cx="60.9" cy="288.3"/>
<circle cx="67.5" cy="288.3"/>
<circle cx="68.7" cy="287.6"/>
<circle cx="71.3" cy="289.7"/>
<circle cx="74.0" cy="288.3"/>
<circle cx="80.3" cy="288.3"/>
<circle cx="63.9" cy="292.3"/>
<circle cx="71.3" cy="292.7"/>
<circle cx="72.0" cy="293.9"/>
<circle cx="62.5" cy="295.1"/>
<circle cx="63.3" cy="295.7"/>
<circle cx="63.9" cy="296.3"/>
<circle cx="65.1" cy="297.1"/>
<circle cx="71.6" cy="295.7"/>
<circle cx="72.0" cy="296.9"/>
<circle cx="80.3" cy="294.7"/>
<circle cx="85.1" cy="293.0"/>
<circle cx="85.1" cy="295.7"/>
<circle cx="58.5" cy="297.8"/>
<circle cx="59.1" cy="299.0"/>
<circle cx="62.1" cy="299.0"/>
<circle cx="65.1" cy="299.0"/>
<circle cx="69.3" cy="299.0"/>
<circle cx="74.0" cy="299.0"/>
<circle cx="76.4" cy="299.0"/>
<circle cx="84.4" cy="298.6"/>
<circle cx="85.1" cy="297.8"/>
<circle cx="57.0" cy="301.9"/>
<circle cx="58.0" cy="302.8"/>
<circle cx="58.5" cy="303.8"/>
<circle cx="59.7" cy="304.2"/>
<circle cx="60.6" cy="305.2"/>
<circle cx="61.5" cy="305.8"/>
<circle cx="63.3" cy="305.0"/>
<circle cx="63.9" cy="304.0"/>
<circle cx="65.1" cy="305.2"/>
<circle cx="66.3" cy="302.2"/>
<circle cx="66.9" cy="303.0"/>
<circle cx="67.5" cy="304.0"/>
<circle cx="68.1" cy="305.0"/>
<circle cx="68.7" cy="305.8"/>
<circle cx="69.9" cy="306.4"/>
<circle cx="71.0" cy="307.0"/>
<circle cx="76.4" cy="303.8"/>
<circle cx="77.2" cy="304.0"/>
<circle cx="85.1" cy="304.2"/>
<circle cx="57.4" cy="305.2"/>
<circle cx="58.5" cy="306.4"/>
<circle cx="60.3" cy="306.1"/>
<circle cx="62.1" cy="307.3"/>
<circle cx="62.7" cy="308.2"/>
<circle cx="69.6" cy="307.3"/>
<circle cx="70.5" cy="308.2"/>
<circle cx="74.0" cy="310.9"/>
<circle cx="74.0" cy="312.1"/>
<circle cx="75.2" cy="310.5"/>
<circle cx="76.4" cy="310.2"/>
<circle cx="103.2" cy="312.1"/>
<circle cx="104.4" cy="310.5"/>
<circle cx="105.0" cy="310.0"/>
<circle cx="108.5" cy="312.1"/>
<circle cx="127.0" cy="259.0"/>
<circle cx="118.4" cy="263.3"/>
<circle cx="122.8" cy="263.3"/>
<circle cx="124.0" cy="263.3"/>
<circle cx="128.2" cy="263.3"/>
<circle cx="133.8" cy="271.6"/>
<circle cx="133.8" cy="273.0"/>
<circle cx="133.8" cy="274.5"/>
<circle cx="119.9" cy="275.7"/>
<circle cx="127.0" cy="274.5"/>
<circle cx="127.0" cy="276.0"/>
<circle cx="127.0" cy="277.2"/>
<circle cx="141.0" cy="279.2"/>
<circle cx="147.8" cy="279.2"/>
<circle cx="127.0" cy="283.2"/>
<circle cx="124.0" cy="288.3"/>
<circle cx="141.0" cy="287.3"/>
<circle cx="147.8" cy="288.3"/>
<circle cx="161.2" cy="293.0"/>
<circle cx="169.9" cy="289.7"/>
<circle cx="127.0" cy="292.3"/>
<circle cx="127.0" cy="293.9"/>
<circle cx="127.0" cy="295.4"/>
<circle cx="127.0" cy="297.1"/>
<circle cx="127.0" cy="298.6"/>
<circle cx="127.0" cy="300.4"/>
<circle cx="119.9" cy="296.3"/>
<circle cx="119.9" cy="298.0"/>
<circle cx="119.9" cy="299.2"/>
<circle cx="133.8" cy="294.7"/>
<circle cx="133.8" cy="296.6"/>
<circle cx="133.8" cy="298.3"/>
<circle cx="133.8" cy="299.8"/>
<circle cx="141.0" cy="299.2"/>
<circle cx="147.8" cy="294.7"/>
<circle cx="147.8" cy="299.0"/>
<circle cx="120.4" cy="302.2"/>
<circle cx="121.6" cy="303.4"/>
<circle cx="120.4" cy="305.0"/>
<circle cx="121.6" cy="305.4"/>
<circle cx="122.5" cy="305.8"/>
<circle cx="127.0" cy="302.8"/>
<circle cx="127.0" cy="304.2"/>
<circle cx="127.0" cy="305.8"/>
<circle cx="127.0" cy="307.3"/>
<circle cx="127.0" cy="308.5"/>
<circle cx="128.2" cy="305.2"/>
<circle cx="129.7" cy="305.4"/>
<circle cx="130.9" cy="305.2"/>
<circle cx="133.8" cy="305.4"/>
<circle cx="135.0" cy="305.4"/>
<circle cx="138.0" cy="302.2"/>
<circle cx="138.0" cy="303.8"/>
<circle cx="138.0" cy="305.4"/>
<circle cx="141.0" cy="303.0"/>
<circle cx="141.0" cy="304.6"/>
<circle cx="141.0" cy="306.4"/>
<circle cx="144.9" cy="305.4"/>
<circle cx="147.8" cy="304.0"/>
<circle cx="147.8" cy="306.4"/>
<circle cx="147.8" cy="310.2"/>
<circle cx="161.2" cy="305.0"/>
<circle cx="161.6" cy="306.1"/>
<circle cx="169.9" cy="307.3"/>
<circle cx="169.2" cy="308.8"/>
<circle cx="168.7" cy="310.5"/>
<circle cx="168.4" cy="312.1"/>
<circle cx="179.8" cy="259.0"/>
<circle cx="203.0" cy="259.0"/>
<circle cx="215.5" cy="263.3"/>
<circle cx="216.9" cy="263.3"/>
<circle cx="179.8" cy="274.5"/>
<circle cx="179.8" cy="276.0"/>
<circle cx="179.8" cy="277.6"/>
<circle cx="179.8" cy="279.2"/>
<circle cx="181.2" cy="271.9"/>
<circle cx="184.3" cy="274.5"/>
<circle cx="184.3" cy="276.0"/>
<circle cx="189.0" cy="271.9"/>
<circle cx="189.0" cy="273.6"/>
<circle cx="189.0" cy="275.2"/>
<circle cx="189.0" cy="277.2"/>
<circle cx="189.0" cy="279.2"/>
<circle cx="198.2" cy="271.6"/>
<circle cx="198.2" cy="273.3"/>
<circle cx="198.2" cy="275.2"/>
<circle cx="198.2" cy="276.9"/>
<circle cx="208.3" cy="275.7"/>
<circle cx="208.6" cy="283.2"/>
<circle cx="185.1" cy="287.9"/>
<circle cx="188.3" cy="288.5"/>
<circle cx="189.3" cy="287.9"/>
<circle cx="190.5" cy="287.9"/>
<circle cx="212.5" cy="288.3"/>
<circle cx="216.9" cy="288.5"/>
<circle cx="183.6" cy="292.3"/>
<circle cx="183.9" cy="293.9"/>
<circle cx="183.1" cy="295.1"/>
<circle cx="179.8" cy="295.1"/>
<circle cx="181.0" cy="295.9"/>
<circle cx="182.1" cy="296.6"/>
<circle cx="185.1" cy="295.7"/>
<circle cx="186.3" cy="296.3"/>
<circle cx="188.1" cy="295.9"/>
<circle cx="189.9" cy="296.3"/>
<circle cx="179.8" cy="298.6"/>
<circle cx="181.0" cy="299.8"/>
<circle cx="183.3" cy="298.6"/>
<circle cx="184.3" cy="299.8"/>
<circle cx="185.1" cy="301.0"/>
<circle cx="189.3" cy="299.0"/>
<circle cx="190.5" cy="298.6"/>
<circle cx="194.0" cy="297.5"/>
<circle cx="194.0" cy="299.0"/>
<circle cx="198.2" cy="297.1"/>
<circle cx="198.2" cy="299.8"/>
<circle cx="208.1" cy="297.5"/>
<circle cx="211.3" cy="296.9"/>
<circle cx="221.7" cy="297.8"/>
<circle cx="179.8" cy="303.4"/>
<circle cx="181.0" cy="304.6"/>
<circle cx="182.1" cy="305.2"/>
<circle cx="183.9" cy="305.0"/>
<circle cx="185.5" cy="304.0"/>
<circle cx="186.9" cy="304.6"/>
<circle cx="188.1" cy="304.0"/>
<circle cx="189.3" cy="303.8"/>
<circle cx="190.5" cy="304.6"/>
<circle cx="191.7" cy="305.0"/>
<circle cx="194.0" cy="305.4"/>
<circle cx="198.2" cy="306.4"/>
<circle cx="208.1" cy="305.4"/>
<circle cx="210.1" cy="307.0"/>
<circle cx="211.3" cy="305.4"/>
<circle cx="212.5" cy="305.0"/>
<circle cx="184.5" cy="306.4"/>
<circle cx="186.0" cy="307.6"/>
<circle cx="186.9" cy="308.8"/>
<circle cx="188.1" cy="309.4"/>
<circle cx="185.1" cy="310.2"/>
<circle cx="186.3" cy="311.7"/>
<circle cx="188.1" cy="312.1"/>
<circle cx="189.9" cy="311.7"/>
<circle cx="191.7" cy="312.1"/>
<circle cx="231.0" cy="305.0"/>
<circle cx="231.0" cy="306.4"/>
<circle cx="243.4" cy="259.0"/>
<circle cx="256.8" cy="259.0"/>
<circle cx="258.0" cy="259.0"/>
<circle cx="259.2" cy="259.0"/>
<circle cx="266.0" cy="263.3"/>
<circle cx="267.2" cy="263.3"/>
<circle cx="279.1" cy="263.3"/>
<circle cx="253.9" cy="271.9"/>
<circle cx="259.2" cy="271.9"/>
<circle cx="247.0" cy="274.5"/>
<circle cx="247.0" cy="276.0"/>
<circle cx="249.3" cy="274.5"/>
<circle cx="253.9" cy="274.5"/>
<circle cx="253.9" cy="276.0"/>
<circle cx="269.9" cy="275.7"/>
<circle cx="248.5" cy="279.2"/>
<circle cx="249.7" cy="279.2"/>
<circle cx="250.9" cy="279.2"/>
<circle cx="253.9" cy="279.2"/>
<circle cx="267.9" cy="279.2"/>
<circle cx="273.5" cy="279.2"/>
<circle cx="241.0" cy="283.2"/>
<circle cx="245.3" cy="283.2"/>
<circle cx="249.7" cy="287.9"/>
<circle cx="250.9" cy="288.5"/>
<circle cx="255.0" cy="288.3"/>
<circle cx="259.8" cy="287.6"/>
<circle cx="261.0" cy="288.5"/>
<circle cx="246.1" cy="292.3"/>
<circle cx="247.3" cy="293.0"/>
<circle cx="248.5" cy="292.3"/>
<circle cx="249.7" cy="293.3"/>
<circle cx="253.6" cy="293.0"/>
<circle cx="292.0" cy="293.0"/>
<circle cx="246.7" cy="295.1"/>
<circle cx="247.9" cy="295.7"/>
<circle cx="249.1" cy="296.3"/>
<circle cx="250.3" cy="295.4"/>
<circle cx="255.6" cy="295.9"/>
<circle cx="259.2" cy="295.4"/>
<circle cx="264.0" cy="296.6"/>
<circle cx="265.5" cy="296.6"/>
<circle cx="278.3" cy="296.3"/>
<circle cx="242.0" cy="296.9"/>
<circle cx="242.5" cy="298.0"/>
<circle cx="243.7" cy="299.0"/>
<circle cx="244.9" cy="298.3"/>
<circle cx="246.1" cy="299.2"/>
<circle cx="247.3" cy="298.6"/>
<circle cx="248.5" cy="297.8"/>
<circle cx="249.7" cy="299.0"/>
<circle cx="250.9" cy="299.5"/>
<circle cx="252.1" cy="298.6"/>
<circle cx="253.3" cy="299.0"/>
<circle cx="254.5" cy="299.8"/>
<circle cx="255.6" cy="299.0"/>
<circle cx="257.2" cy="299.0"/>
<circle cx="258.0" cy="298.3"/>
<circle cx="275.3" cy="299.0"/>
<circle cx="247.3" cy="300.7"/>
<circle cx="249.1" cy="301.4"/>
<circle cx="250.3" cy="301.9"/>
<circle cx="251.5" cy="302.2"/>
<circle cx="253.6" cy="301.9"/>
<circle cx="265.8" cy="301.9"/>
<circle cx="267.2" cy="303.0"/>
<circle cx="267.9" cy="304.2"/>
<circle cx="273.5" cy="304.2"/>
<circle cx="278.3" cy="305.4"/>
<circle cx="281.8" cy="303.4"/>
<circle cx="243.1" cy="305.0"/>
<circle cx="244.6" cy="305.4"/>
<circle cx="246.1" cy="306.1"/>
<circle cx="247.3" cy="305.2"/>
<circle cx="248.5" cy="304.6"/>
<circle cx="249.7" cy="305.8"/>
<circle cx="250.9" cy="305.0"/>
<circle cx="252.1" cy="304.6"/>
<circle cx="253.3" cy="305.2"/>
<circle cx="254.5" cy="305.0"/>
<circle cx="255.6" cy="305.8"/>
<circle cx="257.2" cy="305.2"/>
<circle cx="258.6" cy="305.4"/>
<circle cx="259.8" cy="306.4"/>
<circle cx="261.0" cy="305.0"/>
<circle cx="247.9" cy="307.0"/>
<circle cx="249.1" cy="307.8"/>
<circle cx="250.9" cy="307.3"/>
<circle cx="252.1" cy="308.8"/>
<circle cx="255.0" cy="309.0"/>
<circle cx="247.3" cy="310.0"/>
<circle cx="249.1" cy="310.5"/>
<circle cx="250.3" cy="311.7"/>
<circle cx="256.8" cy="312.1"/>
<circle cx="408.9" cy="303.8"/>
<circle cx="408.6" cy="299.0"/>
<circle cx="411.7" cy="296.6"/>
<circle cx="412.9" cy="279.6"/>
<circle cx="414.7" cy="276.9"/>
<circle cx="414.0" cy="274.5"/>
<circle cx="413.6" cy="271.8"/>
<circle cx="410.9" cy="263.8"/>
<circle cx="414.7" cy="259.3"/>
<circle cx="405.9" cy="287.8"/>
<circle cx="402.2" cy="287.8"/>
<circle cx="399.7" cy="288.1"/>
<circle cx="400.2" cy="283.2"/>
<circle cx="404.3" cy="275.9"/>
<circle cx="395.9" cy="296.1"/>
<circle cx="393.6" cy="294.5"/>
<circle cx="390.9" cy="292.1"/>
<circle cx="380.3" cy="296.6"/>
<circle cx="380.8" cy="292.9"/>
<circle cx="377.0" cy="298.7"/>
<circle cx="375.6" cy="296.1"/>
<circle cx="376.6" cy="294.5"/>
<circle cx="375.9" cy="293.3"/>
<circle cx="371.0" cy="300.0"/>
<circle cx="370.4" cy="298.7"/>
<circle cx="371.6" cy="297.5"/>
<circle cx="372.2" cy="296.3"/>
<circle cx="372.4" cy="295.1"/>
<circle cx="372.2" cy="293.9"/>
<circle cx="371.9" cy="292.7"/>
<circle cx="370.1" cy="289.6"/>
<circle cx="372.2" cy="305.4"/>
<circle cx="371.0" cy="304.2"/>
<circle cx="369.6" cy="303.0"/>
<circle cx="368.7" cy="301.8"/>
<circle cx="369.3" cy="300.6"/>
<circle cx="369.9" cy="299.0"/>
<circle cx="366.2" cy="311.5"/>
<circle cx="367.0" cy="310.3"/>
<circle cx="367.8" cy="309.4"/>
<circle cx="368.7" cy="308.2"/>
<circle cx="368.9" cy="307.0"/>
<circle cx="368.1" cy="306.0"/>
<circle cx="367.5" cy="304.8"/>
<circle cx="365.2" cy="309.7"/>
<circle cx="364.3" cy="308.4"/>
<circle cx="363.5" cy="307.2"/>
<circle cx="363.1" cy="305.0"/>
<circle cx="365.8" cy="310.9"/>
<circle cx="365.8" cy="312.1"/>
<circle cx="476.1" cy="299.0"/>
<circle cx="476.1" cy="297.3"/>
<circle cx="462.7" cy="299.0"/>
<circle cx="462.7" cy="297.3"/>
<circle cx="452.5" cy="297.5"/>
<circle cx="445.2" cy="297.5"/>
<circle cx="442.9" cy="305.4"/>
<circle cx="442.4" cy="298.7"/>
<circle cx="441.3" cy="297.5"/>
<circle cx="438.9" cy="309.9"/>
<circle cx="438.2" cy="297.3"/>
<circle cx="434.8" cy="311.5"/>
<circle cx="436.3" cy="305.4"/>
<circle cx="435.7" cy="298.7"/>
<circle cx="433.4" cy="308.3"/>
<circle cx="434.0" cy="306.2"/>
<circle cx="433.4" cy="304.7"/>
<circle cx="433.4" cy="298.8"/>
<circle cx="433.9" cy="296.9"/>
<circle cx="434.6" cy="295.1"/>
<circle cx="434.4" cy="292.8"/>
<circle cx="433.6" cy="292.1"/>
<circle cx="432.5" cy="309.5"/>
<circle cx="432.4" cy="306.9"/>
<circle cx="432.4" cy="305.6"/>
<circle cx="432.1" cy="303.5"/>
<circle cx="432.4" cy="299.3"/>
<circle cx="432.7" cy="297.3"/>
<circle cx="432.4" cy="294.7"/>
<circle cx="432.1" cy="293.2"/>
<circle cx="432.5" cy="290.3"/>
<circle cx="432.4" cy="288.6"/>
<circle cx="430.6" cy="310.2"/>
<circle cx="430.8" cy="308.5"/>
<circle cx="430.2" cy="306.7"/>
<circle cx="430.3" cy="304.5"/>
<circle cx="431.1" cy="302.4"/>
<circle cx="430.2" cy="298.7"/>
<circle cx="431.3" cy="296.5"/>
<circle cx="430.9" cy="295.6"/>
<circle cx="431.1" cy="293.2"/>
<circle cx="430.6" cy="289.0"/>
<circle cx="430.3" cy="282.8"/>
<circle cx="428.7" cy="311.3"/>
<circle cx="429.4" cy="308.8"/>
<circle cx="428.3" cy="306.7"/>
<circle cx="428.4" cy="305.8"/>
<circle cx="429.0" cy="303.7"/>
<circle cx="428.5" cy="301.1"/>
<circle cx="429.0" cy="299.2"/>
<circle cx="429.2" cy="296.9"/>
<circle cx="429.2" cy="295.5"/>
<circle cx="429.6" cy="292.4"/>
<circle cx="429.0" cy="287.7"/>
<circle cx="429.2" cy="283.9"/>
<circle cx="427.3" cy="311.9"/>
<circle cx="426.7" cy="310.8"/>
<circle cx="426.7" cy="308.1"/>
<circle cx="427.6" cy="307.2"/>
<circle cx="427.0" cy="305.4"/>
<circle cx="427.8" cy="303.3"/>
<circle cx="426.8" cy="301.3"/>
<circle cx="427.6" cy="298.3"/>
<circle cx="426.8" cy="297.4"/>
<circle cx="427.1" cy="295.0"/>
<circle cx="427.9" cy="293.2"/>
<circle cx="427.4" cy="287.8"/>
<circle cx="426.8" cy="280.5"/>
<circle cx="426.9" cy="277.9"/>
<circle cx="426.9" cy="276.9"/>
<circle cx="426.9" cy="275.1"/>
<circle cx="427.5" cy="272.1"/>
<circle cx="426.8" cy="264.1"/>
<circle cx="426.3" cy="311.2"/>
<circle cx="426.1" cy="307.8"/>
<circle cx="426.2" cy="304.1"/>
<circle cx="426.2" cy="299.3"/>
<circle cx="426.1" cy="296.6"/>
<circle cx="426.1" cy="287.7"/>
<circle cx="426.2" cy="279.3"/>
<circle cx="426.4" cy="275.9"/>
<circle cx="426.4" cy="272.4"/>
<circle cx="425.7" cy="263.2"/>
<circle cx="425.8" cy="259.4"/>
<circle cx="536.8" cy="310.6"/>
<circle cx="536.0" cy="309.4"/>
<circle cx="530.2" cy="298.7"/>
<circle cx="525.5" cy="296.1"/>
<circle cx="522.5" cy="289.6"/>
<circle cx="520.6" cy="292.7"/>
<circle cx="518.8" cy="293.3"/>
<circle cx="522.5" cy="309.9"/>
<circle cx="522.5" cy="303.8"/>
<circle cx="517.4" cy="309.4"/>
<circle cx="517.4" cy="307.8"/>
<circle cx="519.0" cy="304.2"/>
<circle cx="514.7" cy="311.8"/>
<circle cx="514.2" cy="307.2"/>
<circle cx="513.2" cy="305.0"/>
<circle cx="513.6" cy="303.8"/>
<circle cx="515.6" cy="299.0"/>
<circle cx="515.1" cy="297.5"/>
<circle cx="515.6" cy="294.5"/>
<circle cx="513.6" cy="295.3"/>
<circle cx="511.6" cy="299.0"/>
<circle cx="512.1" cy="296.3"/>
<circle cx="508.9" cy="289.6"/>
<circle cx="507.4" cy="298.7"/>
<circle cx="517.1" cy="279.3"/>
<circle cx="515.1" cy="279.3"/>
<circle cx="507.0" cy="279.3"/>
<circle cx="502.3" cy="279.3"/>
<circle cx="500.5" cy="279.3"/>
<circle cx="498.5" cy="279.3"/>
<circle cx="497.0" cy="279.3"/>
<circle cx="507.8" cy="307.2"/>
<circle cx="506.6" cy="305.8"/>
<circle cx="505.1" cy="304.8"/>
<circle cx="503.1" cy="309.9"/>
<circle cx="504.3" cy="307.5"/>
<circle cx="502.6" cy="304.8"/>
<circle cx="500.8" cy="303.8"/>
<circle cx="499.3" cy="305.4"/>
<circle cx="497.7" cy="307.2"/>
<circle cx="497.3" cy="304.8"/>
<circle cx="495.8" cy="303.3"/>
<circle cx="502.0" cy="298.7"/>
<circle cx="500.0" cy="298.7"/>
<circle cx="497.9" cy="298.7"/>
<circle cx="498.1" cy="294.5"/>
<circle cx="497.3" cy="292.1"/>
<circle cx="501.4" cy="287.8"/>
<circle cx="499.7" cy="287.8"/>
<circle cx="497.9" cy="287.8"/>
<circle cx="496.2" cy="287.8"/>
<circle cx="494.7" cy="287.8"/>
<circle cx="490.4" cy="283.2"/>
<circle cx="488.4" cy="283.2"/>
<circle cx="490.4" cy="276.9"/>
<circle cx="491.9" cy="275.1"/>
<circle cx="493.3" cy="273.9"/>
<circle cx="494.4" cy="272.1"/>
<circle cx="492.7" cy="271.4"/>
<circle cx="488.4" cy="275.7"/>
<circle cx="487.7" cy="274.7"/>
<circle cx="486.5" cy="275.7"/>
<circle cx="488.4" cy="263.8"/>
<circle cx="486.9" cy="263.6"/>
<circle cx="490.4" cy="259.9"/>
<circle cx="488.6" cy="259.3"/>
<circle cx="487.2" cy="259.7"/>
<circle cx="493.9" cy="306.2"/>
<circle cx="494.6" cy="304.8"/>
<circle cx="494.4" cy="297.5"/>
<circle cx="494.5" cy="295.9"/>
<circle cx="493.9" cy="294.9"/>
<circle cx="493.6" cy="292.9"/>
<circle cx="493.1" cy="307.8"/>
<circle cx="492.8" cy="306.4"/>
<circle cx="492.1" cy="304.0"/>
<circle cx="492.8" cy="302.9"/>
<circle cx="492.1" cy="299.1"/>
<circle cx="493.3" cy="297.4"/>
<circle cx="492.8" cy="295.7"/>
<circle cx="492.2" cy="292.1"/>
<circle cx="490.5" cy="306.9"/>
<circle cx="491.4" cy="304.8"/>
<circle cx="490.6" cy="304.0"/>
<circle cx="491.8" cy="301.4"/>
<circle cx="491.3" cy="299.1"/>
<circle cx="491.4" cy="297.7"/>
<circle cx="491.8" cy="296.1"/>
<circle cx="491.4" cy="294.2"/>
<circle cx="490.0" cy="306.0"/>
<circle cx="489.9" cy="304.2"/>
<circle cx="489.1" cy="303.2"/>
<circle cx="489.6" cy="300.7"/>
<circle cx="489.6" cy="299.3"/>
<circle cx="489.0" cy="297.1"/>
<circle cx="489.7" cy="295.5"/>
<circle cx="488.6" cy="305.5"/>
<circle cx="487.6" cy="304.3"/>
<circle cx="488.6" cy="301.4"/>
<circle cx="488.6" cy="299.4"/>
<circle cx="488.4" cy="296.4"/>
<circle cx="486.0" cy="305.1"/>
<circle cx="57.0" cy="324.9"/>
<circle cx="58.0" cy="324.3"/>
<circle cx="58.9" cy="324.1"/>
<circle cx="61.5" cy="321.0"/>
<circle cx="62.5" cy="321.7"/>
<circle cx="63.3" cy="322.5"/>
<circle cx="65.1" cy="323.7"/>
<circle cx="66.0" cy="320.5"/>
<circle cx="66.9" cy="321.7"/>
<circle cx="68.1" cy="322.9"/>
<circle cx="71.6" cy="324.1"/>
<circle cx="75.8" cy="322.9"/>
<circle cx="77.2" cy="322.9"/>
<circle cx="78.4" cy="322.9"/>
<circle cx="86.5" cy="322.9"/>
<circle cx="69.3" cy="327.0"/>
<circle cx="69.3" cy="330.0"/>
<circle cx="59.7" cy="331.7"/>
<circle cx="59.7" cy="335.6"/>
<circle cx="60.9" cy="336.2"/>
<circle cx="67.5" cy="333.9"/>
<circle cx="67.5" cy="336.5"/>
<circle cx="74.0" cy="336.5"/>
<circle cx="80.3" cy="336.5"/>
<circle cx="63.9" cy="340.4"/>
<circle cx="63.9" cy="341.6"/>
<circle cx="63.9" cy="343.4"/>
<circle cx="63.9" cy="345.5"/>
<circle cx="80.3" cy="342.8"/>
<circle cx="63.9" cy="356.5"/>
<circle cx="64.9" cy="357.1"/>
<circle cx="63.9" cy="359.1"/>
<circle cx="63.3" cy="360.0"/>
<circle cx="65.1" cy="359.5"/>
<circle cx="74.0" cy="359.8"/>
<circle cx="76.4" cy="359.8"/>
<circle cx="85.1" cy="355.9"/>
<circle cx="84.4" cy="359.5"/>
<circle cx="84.7" cy="361.2"/>
<circle cx="85.3" cy="366.6"/>
<circle cx="57.4" cy="364.8"/>
<circle cx="58.5" cy="364.2"/>
<circle cx="59.1" cy="365.8"/>
<circle cx="59.7" cy="366.6"/>
<circle cx="60.6" cy="365.4"/>
<circle cx="61.5" cy="366.0"/>
<circle cx="62.5" cy="365.0"/>
<circle cx="63.3" cy="364.6"/>
<circle cx="63.9" cy="366.0"/>
<circle cx="64.9" cy="367.2"/>
<circle cx="65.7" cy="366.6"/>
<circle cx="66.9" cy="366.0"/>
<circle cx="67.7" cy="367.2"/>
<circle cx="68.7" cy="366.6"/>
<circle cx="69.9" cy="365.8"/>
<circle cx="70.8" cy="364.8"/>
<circle cx="71.6" cy="365.4"/>
<circle cx="57.4" cy="367.2"/>
<circle cx="58.0" cy="368.4"/>
<circle cx="58.5" cy="369.3"/>
<circle cx="59.4" cy="369.8"/>
<circle cx="60.3" cy="369.0"/>
<circle cx="61.3" cy="368.4"/>
<circle cx="62.5" cy="367.8"/>
<circle cx="63.3" cy="369.0"/>
<circle cx="64.5" cy="369.3"/>
<circle cx="65.7" cy="368.4"/>
<circle cx="66.9" cy="369.0"/>
<circle cx="68.1" cy="369.6"/>
<circle cx="69.3" cy="370.2"/>
<circle cx="70.5" cy="370.8"/>
<circle cx="71.3" cy="370.2"/>
<circle cx="74.0" cy="367.2"/>
<circle cx="75.2" cy="367.0"/>
<circle cx="76.4" cy="367.8"/>
<circle cx="77.2" cy="366.6"/>
<circle cx="78.0" cy="367.4"/>
<circle cx="74.0" cy="371.4"/>
<circle cx="75.2" cy="371.4"/>
<circle cx="76.8" cy="371.4"/>
<circle cx="59.7" cy="373.7"/>
<circle cx="61.5" cy="372.9"/>
<circle cx="63.3" cy="373.7"/>
<circle cx="103.2" cy="371.7"/>
<circle cx="104.4" cy="370.5"/>
<circle cx="105.3" cy="370.2"/>
<circle cx="108.5" cy="371.7"/>
<circle cx="118.4" cy="324.9"/>
<circle cx="122.8" cy="324.9"/>
<circle cx="124.0" cy="324.9"/>
<circle cx="127.0" cy="321.0"/>
<circle cx="127.0" cy="322.5"/>
<circle cx="128.2" cy="324.9"/>
<circle cx="133.8" cy="321.7"/>
<circle cx="133.8" cy="323.4"/>
<circle cx="133.8" cy="324.6"/>
<circle cx="141.0" cy="322.9"/>
<circle cx="141.0" cy="327.0"/>
<circle cx="141.0" cy="328.5"/>
<circle cx="141.0" cy="330.3"/>
<circle cx="147.8" cy="322.9"/>
<circle cx="119.9" cy="331.7"/>
<circle cx="124.0" cy="333.9"/>
<circle cx="127.0" cy="335.6"/>
<circle cx="127.0" cy="340.4"/>
<circle cx="127.0" cy="342.0"/>
<circle cx="127.0" cy="343.6"/>
<circle cx="127.0" cy="345.8"/>
<circle cx="147.8" cy="336.5"/>
<circle cx="147.8" cy="342.8"/>
<circle cx="127.0" cy="356.5"/>
<circle cx="119.9" cy="359.8"/>
<circle cx="119.9" cy="361.2"/>
<circle cx="133.8" cy="359.8"/>
<circle cx="147.8" cy="359.8"/>
<circle cx="161.2" cy="355.9"/>
<circle cx="161.2" cy="360.6"/>
<circle cx="120.4" cy="366.6"/>
<circle cx="121.6" cy="367.4"/>
<circle cx="120.4" cy="369.6"/>
<circle cx="121.6" cy="370.2"/>
<circle cx="127.0" cy="364.8"/>
<circle cx="127.0" cy="366.2"/>
<circle cx="127.0" cy="367.8"/>
<circle cx="127.0" cy="369.3"/>
<circle cx="127.0" cy="370.8"/>
<circle cx="127.0" cy="372.2"/>
<circle cx="127.0" cy="373.7"/>
<circle cx="128.2" cy="370.2"/>
<circle cx="129.7" cy="370.2"/>
<circle cx="130.9" cy="370.2"/>
<circle cx="133.8" cy="364.2"/>
<circle cx="133.8" cy="365.8"/>
<circle cx="133.8" cy="367.4"/>
<circle cx="133.8" cy="369.3"/>
<circle cx="133.8" cy="371.0"/>
<circle cx="138.0" cy="366.2"/>
<circle cx="138.0" cy="368.1"/>
<circle cx="138.0" cy="369.8"/>
<circle cx="141.0" cy="366.6"/>
<circle cx="141.0" cy="368.4"/>
<circle cx="141.0" cy="370.2"/>
<circle cx="144.9" cy="369.8"/>
<circle cx="147.8" cy="366.6"/>
<circle cx="147.8" cy="368.4"/>
<circle cx="148.5" cy="370.5"/>
<circle cx="161.2" cy="364.2"/>
<circle cx="161.2" cy="365.8"/>
<circle cx="161.2" cy="367.2"/>
<circle cx="169.9" cy="366.6"/>
<circle cx="169.2" cy="369.0"/>
<circle cx="168.7" cy="371.0"/>
<circle cx="168.4" cy="372.0"/>
<circle cx="179.8" cy="321.0"/>
<circle cx="180.4" cy="322.5"/>
<circle cx="181.2" cy="323.7"/>
<circle cx="184.3" cy="321.0"/>
<circle cx="189.0" cy="321.0"/>
<circle cx="189.0" cy="322.5"/>
<circle cx="189.9" cy="323.7"/>
<circle cx="198.2" cy="321.0"/>
<circle cx="198.2" cy="322.5"/>
<circle cx="203.0" cy="321.0"/>
<circle cx="211.3" cy="324.1"/>
<circle cx="215.5" cy="324.9"/>
<circle cx="216.9" cy="324.9"/>
<circle cx="184.8" cy="327.0"/>
<circle cx="184.8" cy="330.0"/>
<circle cx="184.8" cy="333.9"/>
<circle cx="191.1" cy="333.9"/>
<circle cx="189.0" cy="336.5"/>
<circle cx="208.3" cy="331.7"/>
<circle cx="208.6" cy="336.0"/>
<circle cx="212.5" cy="336.5"/>
<circle cx="216.9" cy="336.5"/>
<circle cx="184.3" cy="340.4"/>
<circle cx="179.8" cy="342.8"/>
<circle cx="184.3" cy="345.5"/>
<circle cx="183.3" cy="355.9"/>
<circle cx="194.0" cy="356.5"/>
<circle cx="198.2" cy="356.5"/>
<circle cx="179.8" cy="359.1"/>
<circle cx="183.3" cy="360.6"/>
<circle cx="184.8" cy="359.5"/>
<circle cx="188.3" cy="361.0"/>
<circle cx="189.3" cy="359.8"/>
<circle cx="191.1" cy="360.0"/>
<circle cx="179.8" cy="366.0"/>
<circle cx="179.8" cy="367.4"/>
<circle cx="183.3" cy="364.8"/>
<circle cx="184.5" cy="365.8"/>
<circle cx="185.7" cy="366.6"/>
<circle cx="186.9" cy="366.0"/>
<circle cx="188.1" cy="365.4"/>
<circle cx="189.3" cy="366.6"/>
<circle cx="190.5" cy="367.8"/>
<circle cx="194.0" cy="366.6"/>
<circle cx="198.2" cy="366.0"/>
<circle cx="180.4" cy="369.6"/>
<circle cx="181.5" cy="370.2"/>
<circle cx="182.7" cy="369.3"/>
<circle cx="183.9" cy="370.2"/>
<circle cx="185.1" cy="369.0"/>
<circle cx="186.3" cy="368.4"/>
<circle cx="187.5" cy="369.6"/>
<circle cx="188.7" cy="370.5"/>
<circle cx="189.9" cy="369.0"/>
<circle cx="191.1" cy="368.4"/>
<circle cx="194.0" cy="369.8"/>
<circle cx="198.2" cy="370.2"/>
<circle cx="181.5" cy="373.7"/>
<circle cx="182.7" cy="373.7"/>
<circle cx="185.1" cy="372.9"/>
<circle cx="190.5" cy="373.4"/>
<circle cx="191.1" cy="374.3"/>
<circle cx="186.9" cy="372.0"/>
<circle cx="188.1" cy="371.4"/>
<circle cx="208.1" cy="364.2"/>
<circle cx="208.3" cy="365.8"/>
<circle cx="208.1" cy="369.6"/>
<circle cx="210.1" cy="370.2"/>
<circle cx="212.5" cy="367.0"/>
<circle cx="221.4" cy="365.0"/>
<circle cx="221.4" cy="366.6"/>
<circle cx="231.0" cy="364.8"/>
<circle cx="231.0" cy="366.6"/>
<circle cx="242.0" cy="324.1"/>
<circle cx="243.4" cy="321.0"/>
<circle cx="244.1" cy="324.1"/>
<circle cx="246.7" cy="322.9"/>
<circle cx="247.7" cy="321.7"/>
<circle cx="248.9" cy="321.0"/>
<circle cx="250.0" cy="322.5"/>
<circle cx="251.2" cy="321.7"/>
<circle cx="252.4" cy="323.4"/>
<circle cx="253.9" cy="321.0"/>
<circle cx="255.0" cy="322.5"/>
<circle cx="256.8" cy="321.0"/>
<circle cx="258.0" cy="321.7"/>
<circle cx="259.2" cy="322.5"/>
<circle cx="267.2" cy="322.9"/>
<circle cx="267.2" cy="324.9"/>
<circle cx="267.9" cy="327.0"/>
<circle cx="273.9" cy="322.9"/>
<circle cx="279.1" cy="324.9"/>
<circle cx="256.2" cy="327.0"/>
<circle cx="259.8" cy="330.0"/>
<circle cx="269.9" cy="331.7"/>
<circle cx="240.8" cy="336.0"/>
<circle cx="245.3" cy="336.0"/>
<circle cx="249.7" cy="333.9"/>
<circle cx="251.2" cy="333.9"/>
<circle cx="255.0" cy="333.9"/>
<circle cx="261.0" cy="336.5"/>
<circle cx="249.7" cy="340.4"/>
<circle cx="249.7" cy="342.0"/>
<circle cx="246.7" cy="342.8"/>
<circle cx="247.9" cy="343.1"/>
<circle cx="245.5" cy="345.5"/>
<circle cx="246.7" cy="345.5"/>
<circle cx="247.9" cy="345.5"/>
<circle cx="249.1" cy="345.5"/>
<circle cx="250.3" cy="345.5"/>
<circle cx="253.6" cy="355.9"/>
<circle cx="264.0" cy="356.5"/>
<circle cx="265.8" cy="356.5"/>
<circle cx="245.5" cy="359.8"/>
<circle cx="247.3" cy="360.6"/>
<circle cx="249.1" cy="360.3"/>
<circle cx="250.3" cy="359.8"/>
<circle cx="251.5" cy="360.6"/>
<circle cx="254.5" cy="360.0"/>
<circle cx="255.0" cy="361.5"/>
<circle cx="258.0" cy="359.1"/>
<circle cx="275.3" cy="359.8"/>
<circle cx="278.3" cy="361.5"/>
<circle cx="292.2" cy="360.6"/>
<circle cx="243.1" cy="367.2"/>
<circle cx="244.3" cy="368.4"/>
<circle cx="245.5" cy="366.6"/>
<circle cx="246.7" cy="365.8"/>
<circle cx="247.9" cy="364.8"/>
<circle cx="249.1" cy="365.4"/>
<circle cx="250.3" cy="364.8"/>
<circle cx="251.5" cy="366.0"/>
<circle cx="252.7" cy="366.6"/>
<circle cx="253.9" cy="365.8"/>
<circle cx="255.0" cy="367.0"/>
<circle cx="256.2" cy="366.0"/>
<circle cx="258.0" cy="365.8"/>
<circle cx="259.8" cy="366.6"/>
<circle cx="260.4" cy="365.4"/>
<circle cx="243.1" cy="370.2"/>
<circle cx="244.6" cy="370.5"/>
<circle cx="246.1" cy="369.8"/>
<circle cx="247.3" cy="369.0"/>
<circle cx="248.5" cy="369.6"/>
<circle cx="249.7" cy="368.4"/>
<circle cx="250.9" cy="369.3"/>
<circle cx="252.1" cy="369.0"/>
<circle cx="253.3" cy="368.4"/>
<circle cx="254.5" cy="370.2"/>
<circle cx="256.0" cy="370.8"/>
<circle cx="257.4" cy="369.6"/>
<circle cx="259.8" cy="370.5"/>
<circle cx="245.5" cy="373.7"/>
<circle cx="250.0" cy="371.4"/>
<circle cx="252.7" cy="372.9"/>
<circle cx="257.2" cy="371.4"/>
<circle cx="259.2" cy="374.1"/>
<circle cx="265.5" cy="368.4"/>
<circle cx="267.9" cy="367.4"/>
<circle cx="267.9" cy="369.0"/>
<circle cx="273.5" cy="366.6"/>
<circle cx="278.3" cy="370.2"/>
<circle cx="281.8" cy="367.4"/>
<circle cx="309.9" cy="327.0"/>
<circle cx="314.6" cy="327.3"/>
<circle cx="317.0" cy="324.1"/>
<circle cx="333.7" cy="322.9"/>
<circle cx="336.3" cy="321.0"/>
<circle cx="338.7" cy="321.7"/>
<circle cx="341.3" cy="322.2"/>
<circle cx="349.1" cy="324.9"/>
<circle cx="353.5" cy="321.0"/>
<circle cx="325.6" cy="330.0"/>
<circle cx="325.6" cy="333.9"/>
<circle cx="325.3" cy="336.5"/>
<circle cx="330.1" cy="336.0"/>
<circle cx="337.2" cy="331.7"/>
<circle cx="317.5" cy="340.4"/>
<circle cx="319.0" cy="342.8"/>
<circle cx="321.4" cy="345.5"/>
<circle cx="317.0" cy="356.5"/>
<circle cx="320.6" cy="355.9"/>
<circle cx="314.9" cy="359.8"/>
<circle cx="317.5" cy="361.2"/>
<circle cx="319.0" cy="360.3"/>
<circle cx="320.2" cy="361.0"/>
<circle cx="313.7" cy="366.0"/>
<circle cx="314.9" cy="366.6"/>
<circle cx="316.0" cy="365.4"/>
<circle cx="317.2" cy="364.8"/>
<circle cx="318.4" cy="364.6"/>
<circle cx="319.6" cy="364.8"/>
<circle cx="320.8" cy="365.0"/>
<circle cx="323.8" cy="367.0"/>
<circle cx="308.3" cy="364.8"/>
<circle cx="309.5" cy="366.0"/>
<circle cx="310.7" cy="367.4"/>
<circle cx="311.9" cy="368.4"/>
<circle cx="313.1" cy="367.8"/>
<circle cx="314.6" cy="367.2"/>
<circle cx="302.4" cy="371.0"/>
<circle cx="303.5" cy="370.2"/>
<circle cx="304.4" cy="369.3"/>
<circle cx="305.6" cy="368.4"/>
<circle cx="306.8" cy="368.1"/>
<circle cx="307.7" cy="369.0"/>
<circle cx="308.9" cy="369.6"/>
<circle cx="304.1" cy="372.0"/>
<circle cx="305.3" cy="372.9"/>
<circle cx="306.5" cy="373.7"/>
<circle cx="308.7" cy="374.1"/>
<circle cx="303.0" cy="371.4"/>
<circle cx="301.8" cy="371.4"/>
<circle cx="476.1" cy="362.0"/>
<circle cx="476.4" cy="361.0"/>
<circle cx="476.6" cy="360.0"/>
<circle cx="462.7" cy="361.6"/>
<circle cx="462.7" cy="360.4"/>
<circle cx="452.5" cy="366.5"/>
<circle cx="445.2" cy="366.5"/>
<circle cx="442.7" cy="364.9"/>
<circle cx="441.3" cy="364.9"/>
<circle cx="438.9" cy="368.1"/>
<circle cx="438.2" cy="364.9"/>
<circle cx="442.4" cy="360.0"/>
<circle cx="440.9" cy="360.0"/>
<circle cx="435.5" cy="360.0"/>
<circle cx="433.9" cy="360.0"/>
<circle cx="432.4" cy="359.2"/>
<circle cx="428.7" cy="360.4"/>
<circle cx="428.7" cy="356.7"/>
<circle cx="427.3" cy="356.7"/>
<circle cx="434.3" cy="345.3"/>
<circle cx="432.4" cy="345.3"/>
<circle cx="430.5" cy="345.3"/>
<circle cx="427.0" cy="345.3"/>
<circle cx="428.9" cy="343.2"/>
<circle cx="438.2" cy="340.4"/>
<circle cx="434.3" cy="340.4"/>
<circle cx="430.8" cy="340.4"/>
<circle cx="431.3" cy="336.7"/>
<circle cx="429.9" cy="335.9"/>
<circle cx="428.5" cy="335.0"/>
<circle cx="427.3" cy="336.5"/>
<circle cx="425.8" cy="335.9"/>
<circle cx="431.0" cy="334.1"/>
<circle cx="428.1" cy="332.8"/>
<circle cx="427.3" cy="331.0"/>
<circle cx="428.1" cy="329.8"/>
<circle cx="434.5" cy="327.3"/>
<circle cx="432.4" cy="326.9"/>
<circle cx="430.8" cy="326.9"/>
<circle cx="428.1" cy="325.5"/>
<circle cx="427.3" cy="324.2"/>
<circle cx="426.4" cy="323.0"/>
<circle cx="427.8" cy="321.8"/>
<circle cx="427.0" cy="320.6"/>
<circle cx="425.5" cy="323.6"/>
<circle cx="425.5" cy="321.8"/>
<circle cx="436.0" cy="370.2"/>
<circle cx="435.5" cy="369.2"/>
<circle cx="433.5" cy="372.7"/>
<circle cx="433.9" cy="371.6"/>
<circle cx="433.3" cy="369.9"/>
<circle cx="433.5" cy="369.2"/>
<circle cx="433.8" cy="367.5"/>
<circle cx="434.1" cy="366.7"/>
<circle cx="432.9" cy="373.9"/>
<circle cx="432.1" cy="372.6"/>
<circle cx="432.9" cy="371.1"/>
<circle cx="432.0" cy="370.1"/>
<circle cx="432.2" cy="367.9"/>
<circle cx="432.8" cy="367.4"/>
<circle cx="432.5" cy="366.2"/>
<circle cx="432.5" cy="365.1"/>
<circle cx="430.2" cy="374.2"/>
<circle cx="430.7" cy="372.0"/>
<circle cx="430.2" cy="371.8"/>
<circle cx="431.0" cy="370.5"/>
<circle cx="431.0" cy="369.6"/>
<circle cx="430.8" cy="367.8"/>
<circle cx="430.8" cy="366.9"/>
<circle cx="431.1" cy="366.0"/>
<circle cx="430.9" cy="364.6"/>
<circle cx="429.9" cy="374.5"/>
<circle cx="429.6" cy="372.9"/>
<circle cx="429.3" cy="371.3"/>
<circle cx="429.1" cy="369.9"/>
<circle cx="428.8" cy="368.7"/>
<circle cx="429.5" cy="367.9"/>
<circle cx="429.7" cy="365.9"/>
<circle cx="429.1" cy="365.0"/>
<circle cx="428.9" cy="364.7"/>
<circle cx="427.6" cy="372.7"/>
<circle cx="427.4" cy="371.7"/>
<circle cx="427.8" cy="371.3"/>
<circle cx="427.4" cy="369.6"/>
<circle cx="427.4" cy="368.0"/>
<circle cx="427.3" cy="367.0"/>
<circle cx="427.5" cy="365.7"/>
<circle cx="428.4" cy="365.0"/>
<circle cx="426.6" cy="372.5"/>
<circle cx="426.0" cy="370.7"/>
<circle cx="426.2" cy="368.3"/>
<circle cx="426.2" cy="366.4"/>
<circle cx="537.2" cy="371.1"/>
<circle cx="536.5" cy="370.6"/>
<circle cx="530.2" cy="360.0"/>
<circle cx="525.5" cy="361.3"/>
<circle cx="520.9" cy="356.1"/>
<circle cx="520.2" cy="360.4"/>
<circle cx="518.8" cy="360.4"/>
<circle cx="522.9" cy="369.6"/>
<circle cx="522.5" cy="367.1"/>
<circle cx="517.6" cy="371.4"/>
<circle cx="517.4" cy="369.3"/>
<circle cx="518.2" cy="367.1"/>
<circle cx="514.7" cy="371.4"/>
<circle cx="514.2" cy="369.6"/>
<circle cx="515.1" cy="367.1"/>
<circle cx="513.6" cy="365.9"/>
<circle cx="515.3" cy="361.3"/>
<circle cx="513.6" cy="360.4"/>
<circle cx="512.1" cy="359.8"/>
<circle cx="507.4" cy="360.0"/>
<circle cx="509.5" cy="369.6"/>
<circle cx="508.9" cy="368.1"/>
<circle cx="508.4" cy="367.1"/>
<circle cx="507.2" cy="369.8"/>
<circle cx="506.0" cy="367.7"/>
<circle cx="505.8" cy="364.7"/>
<circle cx="504.3" cy="370.8"/>
<circle cx="503.7" cy="369.6"/>
<circle cx="502.8" cy="368.1"/>
<circle cx="502.0" cy="367.1"/>
<circle cx="501.4" cy="371.4"/>
<circle cx="500.8" cy="369.8"/>
<circle cx="500.0" cy="368.4"/>
<circle cx="499.3" cy="367.1"/>
<circle cx="498.5" cy="370.8"/>
<circle cx="497.7" cy="369.3"/>
<circle cx="496.8" cy="367.7"/>
<circle cx="496.2" cy="365.9"/>
<circle cx="502.0" cy="360.0"/>
<circle cx="499.3" cy="360.0"/>
<circle cx="497.7" cy="360.0"/>
<circle cx="490.4" cy="356.7"/>
<circle cx="488.9" cy="356.7"/>
<circle cx="515.6" cy="342.9"/>
<circle cx="497.3" cy="345.3"/>
<circle cx="495.0" cy="345.3"/>
<circle cx="493.3" cy="345.3"/>
<circle cx="491.9" cy="345.3"/>
<circle cx="492.7" cy="343.2"/>
<circle cx="493.3" cy="341.4"/>
<circle cx="493.8" cy="339.9"/>
<circle cx="499.3" cy="337.1"/>
<circle cx="497.3" cy="336.5"/>
<circle cx="496.2" cy="335.3"/>
<circle cx="495.0" cy="333.8"/>
<circle cx="491.5" cy="336.3"/>
<circle cx="489.2" cy="336.3"/>
<circle cx="488.0" cy="336.5"/>
<circle cx="487.5" cy="331.8"/>
<circle cx="486.3" cy="331.8"/>
<circle cx="501.4" cy="329.8"/>
<circle cx="522.5" cy="326.9"/>
<circle cx="517.1" cy="322.8"/>
<circle cx="515.6" cy="322.8"/>
<circle cx="512.1" cy="327.3"/>
<circle cx="507.4" cy="326.9"/>
<circle cx="506.6" cy="322.8"/>
<circle cx="502.6" cy="322.8"/>
<circle cx="500.8" cy="322.8"/>
<circle cx="498.8" cy="322.8"/>
<circle cx="497.0" cy="322.8"/>
<circle cx="495.0" cy="322.8"/>
<circle cx="493.3" cy="322.8"/>
<circle cx="490.9" cy="324.9"/>
<circle cx="489.2" cy="324.9"/>
<circle cx="487.7" cy="324.9"/>
<circle cx="491.9" cy="322.8"/>
<circle cx="490.4" cy="322.8"/>
<circle cx="488.9" cy="322.8"/>
<circle cx="491.5" cy="321.8"/>
<circle cx="495.3" cy="371.6"/>
<circle cx="494.9" cy="369.0"/>
<circle cx="494.7" cy="368.1"/>
<circle cx="495.3" cy="366.2"/>
<circle cx="493.2" cy="373.9"/>
<circle cx="493.3" cy="370.9"/>
<circle cx="494.1" cy="369.0"/>
<circle cx="493.5" cy="368.1"/>
<circle cx="492.9" cy="365.3"/>
<circle cx="493.8" cy="364.8"/>
<circle cx="491.9" cy="374.0"/>
<circle cx="492.3" cy="371.5"/>
<circle cx="491.6" cy="369.8"/>
<circle cx="491.5" cy="367.9"/>
<circle cx="492.1" cy="366.4"/>
<circle cx="492.1" cy="364.9"/>
<circle cx="490.9" cy="373.5"/>
<circle cx="490.0" cy="372.4"/>
<circle cx="490.9" cy="370.5"/>
<circle cx="490.3" cy="369.0"/>
<circle cx="489.8" cy="366.8"/>
<circle cx="489.7" cy="364.2"/>
<circle cx="489.4" cy="373.6"/>
<circle cx="488.9" cy="372.0"/>
<circle cx="488.9" cy="369.3"/>
<circle cx="489.0" cy="368.1"/>
<circle cx="488.6" cy="365.7"/>
<circle cx="487.0" cy="371.7"/>
<circle cx="487.9" cy="370.0"/>
<circle cx="487.7" cy="367.9"/>
<circle cx="84.4" cy="383.0"/>
<circle cx="85.1" cy="396.8"/>
<circle cx="58.9" cy="407.2"/>
<circle cx="58.9" cy="414.3"/>
<circle cx="58.9" cy="418.7"/>
<circle cx="58.9" cy="421.8"/>
<circle cx="63.9" cy="417.0"/>
<circle cx="74.0" cy="417.5"/>
<circle cx="74.6" cy="420.6"/>
<circle cx="76.4" cy="419.1"/>
<circle cx="63.9" cy="422.0"/>
<circle cx="63.3" cy="423.8"/>
<circle cx="63.9" cy="425.0"/>
<circle cx="64.9" cy="425.9"/>
<circle cx="74.0" cy="424.7"/>
<circle cx="57.4" cy="426.8"/>
<circle cx="58.9" cy="427.0"/>
<circle cx="59.7" cy="428.0"/>
<circle cx="60.9" cy="428.6"/>
<circle cx="62.5" cy="426.8"/>
<circle cx="63.3" cy="427.4"/>
<circle cx="64.5" cy="428.0"/>
<circle cx="65.7" cy="426.8"/>
<circle cx="66.9" cy="427.4"/>
<circle cx="68.7" cy="425.9"/>
<circle cx="69.6" cy="426.8"/>
<circle cx="71.3" cy="428.0"/>
<circle cx="72.0" cy="429.2"/>
<circle cx="76.4" cy="429.2"/>
<circle cx="85.1" cy="429.2"/>
<circle cx="56.8" cy="430.4"/>
<circle cx="58.0" cy="431.0"/>
<circle cx="58.9" cy="431.6"/>
<circle cx="60.1" cy="431.0"/>
<circle cx="61.3" cy="430.4"/>
<circle cx="62.5" cy="431.3"/>
<circle cx="63.7" cy="431.8"/>
<circle cx="64.9" cy="431.0"/>
<circle cx="66.0" cy="430.4"/>
<circle cx="67.2" cy="431.3"/>
<circle cx="68.4" cy="432.2"/>
<circle cx="69.6" cy="431.0"/>
<circle cx="70.8" cy="430.4"/>
<circle cx="72.0" cy="431.3"/>
<circle cx="80.3" cy="431.3"/>
<circle cx="85.3" cy="431.3"/>
<circle cx="56.8" cy="433.0"/>
<circle cx="58.0" cy="433.7"/>
<circle cx="59.1" cy="433.4"/>
<circle cx="60.3" cy="432.8"/>
<circle cx="61.5" cy="433.7"/>
<circle cx="62.7" cy="434.0"/>
<circle cx="63.9" cy="433.0"/>
<circle cx="65.1" cy="433.7"/>
<circle cx="66.3" cy="434.9"/>
<circle cx="67.5" cy="434.0"/>
<circle cx="68.7" cy="433.4"/>
<circle cx="69.9" cy="433.0"/>
<circle cx="71.6" cy="434.9"/>
<circle cx="72.8" cy="434.9"/>
<circle cx="74.0" cy="434.5"/>
<circle cx="76.4" cy="433.0"/>
<circle cx="77.2" cy="434.0"/>
<circle cx="80.3" cy="434.9"/>
<circle cx="86.5" cy="433.4"/>
<circle cx="86.5" cy="434.5"/>
<circle cx="103.2" cy="425.9"/>
<circle cx="104.6" cy="430.4"/>
<circle cx="105.0" cy="433.4"/>
<circle cx="108.5" cy="433.7"/>
<circle cx="119.9" cy="383.0"/>
<circle cx="119.9" cy="396.8"/>
<circle cx="133.8" cy="407.2"/>
<circle cx="133.8" cy="414.7"/>
<circle cx="133.8" cy="418.7"/>
<circle cx="133.8" cy="420.6"/>
<circle cx="133.8" cy="422.3"/>
<circle cx="133.8" cy="424.2"/>
<circle cx="133.8" cy="425.9"/>
<circle cx="133.8" cy="427.8"/>
<circle cx="133.8" cy="429.4"/>
<circle cx="133.8" cy="431.3"/>
<circle cx="133.8" cy="433.0"/>
<circle cx="133.8" cy="434.9"/>
<circle cx="127.0" cy="421.8"/>
<circle cx="127.0" cy="424.2"/>
<circle cx="127.0" cy="425.9"/>
<circle cx="127.0" cy="427.8"/>
<circle cx="127.0" cy="429.4"/>
<circle cx="127.0" cy="431.3"/>
<circle cx="127.0" cy="433.0"/>
<circle cx="127.0" cy="434.9"/>
<circle cx="128.2" cy="426.8"/>
<circle cx="129.7" cy="428.6"/>
<circle cx="130.9" cy="430.4"/>
<circle cx="130.9" cy="433.0"/>
<circle cx="120.4" cy="429.0"/>
<circle cx="121.6" cy="430.4"/>
<circle cx="119.9" cy="432.2"/>
<circle cx="121.1" cy="433.0"/>
<circle cx="122.5" cy="434.0"/>
<circle cx="120.4" cy="434.0"/>
<circle cx="122.5" cy="431.3"/>
<circle cx="138.0" cy="425.4"/>
<circle cx="138.0" cy="427.8"/>
<circle cx="138.0" cy="429.4"/>
<circle cx="138.0" cy="431.3"/>
<circle cx="138.0" cy="433.0"/>
<circle cx="141.0" cy="425.4"/>
<circle cx="141.0" cy="427.8"/>
<circle cx="141.0" cy="429.8"/>
<circle cx="141.0" cy="431.3"/>
<circle cx="141.0" cy="433.0"/>
<circle cx="141.0" cy="434.5"/>
<circle cx="144.9" cy="427.0"/>
<circle cx="147.8" cy="417.5"/>
<circle cx="147.8" cy="419.1"/>
<circle cx="147.8" cy="420.6"/>
<circle cx="147.8" cy="429.4"/>
<circle cx="147.8" cy="432.2"/>
<circle cx="147.8" cy="433.7"/>
<circle cx="161.2" cy="416.7"/>
<circle cx="161.2" cy="425.4"/>
<circle cx="161.2" cy="427.8"/>
<circle cx="161.2" cy="430.4"/>
<circle cx="161.2" cy="432.5"/>
<circle cx="161.2" cy="434.0"/>
<circle cx="168.7" cy="424.7"/>
<circle cx="169.0" cy="426.2"/>
<circle cx="169.5" cy="429.2"/>
<circle cx="169.2" cy="431.6"/>
<circle cx="169.9" cy="433.7"/>
<circle cx="231.1" cy="425.6"/>
<circle cx="231.1" cy="417.3"/>
<circle cx="221.9" cy="418.8"/>
<circle cx="221.9" cy="414.9"/>
<circle cx="221.9" cy="407.8"/>
<circle cx="189.2" cy="397.8"/>
<circle cx="189.6" cy="383.8"/>
<circle cx="217.0" cy="435.4"/>
<circle cx="216.6" cy="434.4"/>
<circle cx="216.8" cy="433.1"/>
<circle cx="215.7" cy="434.9"/>
<circle cx="215.9" cy="432.6"/>
<circle cx="212.7" cy="435.4"/>
<circle cx="211.8" cy="434.4"/>
<circle cx="211.4" cy="433.1"/>
<circle cx="211.8" cy="431.7"/>
<circle cx="212.7" cy="428.0"/>
<circle cx="208.4" cy="435.4"/>
<circle cx="208.4" cy="434.0"/>
<circle cx="208.4" cy="432.6"/>
<circle cx="208.6" cy="431.2"/>
<circle cx="208.4" cy="429.9"/>
<circle cx="208.4" cy="428.5"/>
<circle cx="208.4" cy="426.7"/>
<circle cx="208.4" cy="422.1"/>
<circle cx="203.2" cy="435.6"/>
<circle cx="198.6" cy="435.4"/>
<circle cx="198.6" cy="434.0"/>
<circle cx="198.6" cy="432.2"/>
<circle cx="194.5" cy="435.4"/>
<circle cx="194.8" cy="434.0"/>
<circle cx="194.3" cy="432.6"/>
<circle cx="194.5" cy="431.2"/>
<circle cx="194.8" cy="429.9"/>
<circle cx="194.3" cy="428.5"/>
<circle cx="194.5" cy="427.1"/>
<circle cx="194.3" cy="425.8"/>
<circle cx="194.5" cy="424.4"/>
<circle cx="194.3" cy="423.5"/>
<circle cx="190.4" cy="435.8"/>
<circle cx="191.1" cy="434.4"/>
<circle cx="189.9" cy="433.5"/>
<circle cx="190.6" cy="432.2"/>
<circle cx="190.8" cy="430.3"/>
<circle cx="190.2" cy="429.0"/>
<circle cx="191.1" cy="427.6"/>
<circle cx="191.3" cy="425.8"/>
<circle cx="189.8" cy="424.8"/>
<circle cx="191.1" cy="418.0"/>
<circle cx="187.3" cy="435.4"/>
<circle cx="187.0" cy="434.0"/>
<circle cx="187.6" cy="432.6"/>
<circle cx="187.2" cy="431.2"/>
<circle cx="187.3" cy="429.9"/>
<circle cx="187.6" cy="428.5"/>
<circle cx="184.4" cy="435.8"/>
<circle cx="184.7" cy="434.4"/>
<circle cx="184.1" cy="433.1"/>
<circle cx="184.6" cy="431.7"/>
<circle cx="184.7" cy="430.3"/>
<circle cx="184.4" cy="429.0"/>
<circle cx="184.1" cy="427.6"/>
<circle cx="184.6" cy="426.2"/>
<circle cx="184.7" cy="424.8"/>
<circle cx="184.4" cy="422.6"/>
<circle cx="184.7" cy="421.2"/>
<circle cx="184.1" cy="419.8"/>
<circle cx="184.4" cy="418.4"/>
<circle cx="184.4" cy="417.1"/>
<circle cx="181.8" cy="435.8"/>
<circle cx="181.3" cy="434.4"/>
<circle cx="181.8" cy="433.1"/>
<circle cx="181.5" cy="431.2"/>
<circle cx="181.3" cy="429.4"/>
<circle cx="181.8" cy="427.6"/>
<circle cx="181.5" cy="425.8"/>
<circle cx="181.3" cy="425.0"/>
<circle cx="179.5" cy="435.8"/>
<circle cx="179.8" cy="434.4"/>
<circle cx="179.5" cy="433.1"/>
<circle cx="179.8" cy="431.2"/>
<circle cx="179.5" cy="429.4"/>
<circle cx="179.8" cy="427.6"/>
<circle cx="179.5" cy="425.8"/>
<circle cx="179.5" cy="424.4"/>
<circle cx="275.3" cy="383.0"/>
<circle cx="278.3" cy="383.0"/>
<circle cx="249.7" cy="396.5"/>
<circle cx="251.2" cy="396.8"/>
<circle cx="255.0" cy="396.8"/>
<circle cx="250.9" cy="407.2"/>
<circle cx="250.9" cy="414.7"/>
<circle cx="245.8" cy="417.5"/>
<circle cx="250.9" cy="418.7"/>
<circle cx="258.4" cy="417.0"/>
<circle cx="260.4" cy="417.3"/>
<circle cx="254.5" cy="419.1"/>
<circle cx="255.0" cy="420.6"/>
<circle cx="250.0" cy="421.8"/>
<circle cx="251.2" cy="422.3"/>
<circle cx="243.4" cy="425.4"/>
<circle cx="250.0" cy="425.4"/>
<circle cx="258.0" cy="424.7"/>
<circle cx="261.0" cy="425.4"/>
<circle cx="267.5" cy="426.2"/>
<circle cx="267.5" cy="427.8"/>
<circle cx="278.3" cy="423.8"/>
<circle cx="278.3" cy="425.6"/>
<circle cx="278.3" cy="427.4"/>
<circle cx="278.3" cy="429.2"/>
<circle cx="278.3" cy="431.0"/>
<circle cx="278.3" cy="432.8"/>
<circle cx="273.9" cy="429.2"/>
<circle cx="273.9" cy="432.8"/>
<circle cx="281.8" cy="432.2"/>
<circle cx="292.2" cy="431.3"/>
<circle cx="263.6" cy="432.2"/>
<circle cx="265.2" cy="432.5"/>
<circle cx="266.7" cy="433.0"/>
<circle cx="268.1" cy="433.4"/>
<circle cx="269.6" cy="433.0"/>
<circle cx="240.8" cy="426.2"/>
<circle cx="242.8" cy="426.4"/>
<circle cx="247.7" cy="426.2"/>
<circle cx="249.0" cy="426.4"/>
<circle cx="251.0" cy="426.6"/>
<circle cx="253.2" cy="427.3"/>
<circle cx="257.6" cy="426.3"/>
<circle cx="259.5" cy="426.6"/>
<circle cx="240.6" cy="428.1"/>
<circle cx="243.0" cy="429.2"/>
<circle cx="244.3" cy="428.6"/>
<circle cx="245.6" cy="428.1"/>
<circle cx="247.7" cy="428.3"/>
<circle cx="250.1" cy="428.2"/>
<circle cx="250.9" cy="429.2"/>
<circle cx="253.3" cy="428.1"/>
<circle cx="255.1" cy="428.0"/>
<circle cx="256.9" cy="429.2"/>
<circle cx="259.1" cy="428.9"/>
<circle cx="260.1" cy="428.4"/>
<circle cx="240.3" cy="430.7"/>
<circle cx="242.6" cy="430.7"/>
<circle cx="244.1" cy="430.0"/>
<circle cx="246.5" cy="431.0"/>
<circle cx="248.4" cy="430.8"/>
<circle cx="250.1" cy="430.7"/>
<circle cx="251.1" cy="430.4"/>
<circle cx="253.1" cy="429.8"/>
<circle cx="254.4" cy="430.1"/>
<circle cx="256.5" cy="430.6"/>
<circle cx="259.2" cy="430.3"/>
<circle cx="261.0" cy="431.0"/>
<circle cx="241.4" cy="432.0"/>
<circle cx="242.2" cy="431.8"/>
<circle cx="243.9" cy="431.8"/>
<circle cx="246.3" cy="432.7"/>
<circle cx="248.4" cy="432.1"/>
<circle cx="249.9" cy="432.6"/>
<circle cx="250.9" cy="432.4"/>
<circle cx="253.8" cy="432.5"/>
<circle cx="255.4" cy="432.1"/>
<circle cx="256.4" cy="432.5"/>
<circle cx="258.4" cy="432.6"/>
<circle cx="261.0" cy="432.0"/>
<circle cx="241.2" cy="434.5"/>
<circle cx="243.4" cy="433.5"/>
<circle cx="244.4" cy="433.5"/>
<circle cx="247.2" cy="434.4"/>
<circle cx="248.0" cy="434.4"/>
<circle cx="250.9" cy="434.2"/>
<circle cx="252.5" cy="434.0"/>
<circle cx="254.6" cy="433.3"/>
<circle cx="258.0" cy="434.1"/>
<circle cx="259.8" cy="434.5"/>
<circle cx="241.9" cy="436.2"/>
<circle cx="244.8" cy="435.4"/>
<circle cx="247.0" cy="435.5"/>
<circle cx="251.1" cy="435.9"/>
<circle cx="255.9" cy="435.6"/>
<circle cx="314.6" cy="383.0"/>
<circle cx="316.3" cy="383.0"/>
<circle cx="314.6" cy="396.8"/>
<circle cx="316.3" cy="396.8"/>
<circle cx="316.0" cy="407.2"/>
<circle cx="316.0" cy="414.7"/>
<circle cx="308.3" cy="417.0"/>
<circle cx="314.9" cy="417.5"/>
<circle cx="316.0" cy="418.7"/>
<circle cx="303.9" cy="421.1"/>
<circle cx="316.3" cy="421.8"/>
<circle cx="302.4" cy="425.4"/>
<circle cx="308.3" cy="423.8"/>
<circle cx="314.9" cy="424.4"/>
<circle cx="305.4" cy="426.8"/>
<circle cx="307.5" cy="426.2"/>
<circle cx="309.0" cy="426.7"/>
<circle cx="314.8" cy="426.8"/>
<circle cx="316.6" cy="426.3"/>
<circle cx="318.5" cy="425.6"/>
<circle cx="320.7" cy="425.8"/>
<circle cx="321.4" cy="426.6"/>
<circle cx="304.3" cy="427.7"/>
<circle cx="306.8" cy="427.8"/>
<circle cx="308.1" cy="427.8"/>
<circle cx="310.2" cy="428.1"/>
<circle cx="314.3" cy="427.8"/>
<circle cx="316.3" cy="427.5"/>
<circle cx="318.8" cy="427.8"/>
<circle cx="320.3" cy="428.1"/>
<circle cx="323.1" cy="427.7"/>
<circle cx="324.8" cy="427.8"/>
<circle cx="303.6" cy="429.7"/>
<circle cx="305.3" cy="429.5"/>
<circle cx="307.1" cy="430.0"/>
<circle cx="309.2" cy="429.9"/>
<circle cx="311.3" cy="429.1"/>
<circle cx="314.9" cy="430.0"/>
<circle cx="317.1" cy="429.0"/>
<circle cx="317.9" cy="429.4"/>
<circle cx="320.2" cy="429.1"/>
<circle cx="324.4" cy="429.7"/>
<circle cx="330.5" cy="429.9"/>
<circle cx="302.5" cy="431.6"/>
<circle cx="304.9" cy="430.9"/>
<circle cx="307.0" cy="431.9"/>
<circle cx="307.9" cy="431.9"/>
<circle cx="310.0" cy="431.3"/>
<circle cx="312.5" cy="431.8"/>
<circle cx="314.4" cy="431.2"/>
<circle cx="316.7" cy="431.1"/>
<circle cx="318.0" cy="431.1"/>
<circle cx="321.1" cy="430.7"/>
<circle cx="325.6" cy="431.3"/>
<circle cx="329.5" cy="431.1"/>
<circle cx="301.9" cy="433.0"/>
<circle cx="303.0" cy="433.6"/>
<circle cx="305.7" cy="433.6"/>
<circle cx="306.6" cy="432.7"/>
<circle cx="308.3" cy="433.4"/>
<circle cx="310.4" cy="432.5"/>
<circle cx="312.4" cy="433.5"/>
<circle cx="315.3" cy="432.7"/>
<circle cx="316.2" cy="433.5"/>
<circle cx="318.5" cy="433.3"/>
<circle cx="320.3" cy="432.4"/>
<circle cx="325.6" cy="432.9"/>
<circle cx="332.7" cy="433.6"/>
<circle cx="335.3" cy="433.4"/>
<circle cx="336.3" cy="433.5"/>
<circle cx="338.1" cy="433.5"/>
<circle cx="341.0" cy="432.8"/>
<circle cx="348.9" cy="433.6"/>
<circle cx="302.6" cy="434.1"/>
<circle cx="306.0" cy="434.2"/>
<circle cx="309.6" cy="434.1"/>
<circle cx="314.3" cy="434.2"/>
<circle cx="317.0" cy="434.3"/>
<circle cx="325.7" cy="434.3"/>
<circle cx="333.9" cy="434.1"/>
<circle cx="337.3" cy="433.9"/>
<circle cx="340.7" cy="433.9"/>
<circle cx="349.7" cy="434.6"/>
<circle cx="353.5" cy="434.5"/>
<circle cx="374.9" cy="383.0"/>
<circle cx="375.9" cy="382.8"/>
<circle cx="376.8" cy="382.5"/>
<circle cx="375.3" cy="396.8"/>
<circle cx="376.5" cy="396.8"/>
<circle cx="370.5" cy="407.2"/>
<circle cx="370.5" cy="414.7"/>
<circle cx="372.0" cy="417.3"/>
<circle cx="372.0" cy="418.7"/>
<circle cx="369.0" cy="421.1"/>
<circle cx="372.0" cy="421.8"/>
<circle cx="376.8" cy="417.5"/>
<circle cx="376.8" cy="419.1"/>
<circle cx="376.8" cy="424.7"/>
<circle cx="376.8" cy="426.2"/>
<circle cx="377.6" cy="427.8"/>
<circle cx="376.5" cy="431.6"/>
<circle cx="380.0" cy="431.6"/>
<circle cx="380.0" cy="433.0"/>
<circle cx="391.1" cy="425.9"/>
<circle cx="391.1" cy="427.8"/>
<circle cx="391.1" cy="429.8"/>
<circle cx="391.1" cy="433.4"/>
<circle cx="393.1" cy="431.3"/>
<circle cx="395.9" cy="421.8"/>
<circle cx="395.9" cy="425.9"/>
<circle cx="395.9" cy="429.4"/>
<circle cx="399.4" cy="429.0"/>
<circle cx="400.3" cy="430.4"/>
<circle cx="401.1" cy="431.8"/>
<circle cx="399.7" cy="433.0"/>
<circle cx="400.3" cy="434.5"/>
<circle cx="402.0" cy="429.2"/>
<circle cx="403.2" cy="432.2"/>
<circle cx="405.0" cy="433.0"/>
<circle cx="406.2" cy="432.2"/>
<circle cx="408.6" cy="425.6"/>
<circle cx="409.0" cy="427.8"/>
<circle cx="409.0" cy="429.4"/>
<circle cx="410.4" cy="432.2"/>
<circle cx="411.6" cy="433.0"/>
<circle cx="412.8" cy="434.0"/>
<circle cx="414.0" cy="432.5"/>
<circle cx="415.1" cy="433.4"/>
<circle cx="412.2" cy="434.9"/>
<circle cx="414.0" cy="434.9"/>
<circle cx="366.9" cy="424.2"/>
<circle cx="367.9" cy="424.6"/>
<circle cx="364.5" cy="426.7"/>
<circle cx="365.6" cy="426.2"/>
<circle cx="367.2" cy="426.8"/>
<circle cx="367.9" cy="426.6"/>
<circle cx="369.6" cy="426.4"/>
<circle cx="370.4" cy="426.0"/>
<circle cx="363.4" cy="427.3"/>
<circle cx="364.6" cy="428.1"/>
<circle cx="366.0" cy="427.3"/>
<circle cx="367.0" cy="428.2"/>
<circle cx="369.2" cy="428.0"/>
<circle cx="369.6" cy="427.4"/>
<circle cx="370.8" cy="427.7"/>
<circle cx="371.8" cy="427.7"/>
<circle cx="363.0" cy="430.0"/>
<circle cx="365.2" cy="429.5"/>
<circle cx="365.4" cy="430.0"/>
<circle cx="366.7" cy="429.2"/>
<circle cx="367.5" cy="429.3"/>
<circle cx="369.3" cy="429.4"/>
<circle cx="370.1" cy="429.4"/>
<circle cx="371.0" cy="429.1"/>
<circle cx="372.3" cy="429.3"/>
<circle cx="362.8" cy="430.4"/>
<circle cx="364.3" cy="430.6"/>
<circle cx="365.9" cy="431.0"/>
<circle cx="367.3" cy="431.2"/>
<circle cx="368.4" cy="431.5"/>
<circle cx="369.2" cy="430.7"/>
<circle cx="371.1" cy="430.5"/>
<circle cx="372.0" cy="431.2"/>
<circle cx="372.3" cy="431.4"/>
<circle cx="364.5" cy="432.7"/>
<circle cx="365.4" cy="432.9"/>
<circle cx="365.9" cy="432.6"/>
<circle cx="367.5" cy="433.0"/>
<circle cx="369.1" cy="433.0"/>
<circle cx="370.0" cy="433.0"/>
<circle cx="371.3" cy="432.8"/>
<circle cx="371.9" cy="431.9"/>
<circle cx="364.7" cy="433.8"/>
<circle cx="366.4" cy="434.4"/>
<circle cx="368.8" cy="434.1"/>
<circle cx="370.7" cy="434.2"/>
<circle cx="537.6" cy="430.7"/>
<circle cx="536.0" cy="430.5"/>
<circle cx="536.5" cy="425.9"/>
<circle cx="530.2" cy="383.4"/>
<circle cx="525.2" cy="383.8"/>
<circle cx="522.5" cy="433.4"/>
<circle cx="522.5" cy="426.8"/>
<circle cx="522.5" cy="425.6"/>
<circle cx="520.0" cy="431.7"/>
<circle cx="519.4" cy="430.1"/>
<circle cx="517.6" cy="428.3"/>
<circle cx="517.1" cy="432.9"/>
<circle cx="514.7" cy="427.1"/>
<circle cx="514.4" cy="425.3"/>
<circle cx="515.1" cy="434.6"/>
<circle cx="513.6" cy="432.0"/>
<circle cx="512.1" cy="428.9"/>
<circle cx="509.3" cy="425.9"/>
<circle cx="509.5" cy="432.6"/>
<circle cx="508.4" cy="430.7"/>
<circle cx="507.8" cy="428.3"/>
<circle cx="517.6" cy="421.6"/>
<circle cx="516.3" cy="419.8"/>
<circle cx="514.7" cy="418.8"/>
<circle cx="513.6" cy="417.1"/>
<circle cx="507.2" cy="417.9"/>
<circle cx="505.8" cy="417.6"/>
<circle cx="515.1" cy="397.6"/>
<circle cx="513.6" cy="397.2"/>
<circle cx="511.6" cy="397.6"/>
<circle cx="505.1" cy="433.2"/>
<circle cx="504.6" cy="431.4"/>
<circle cx="503.5" cy="429.5"/>
<circle cx="502.8" cy="427.7"/>
<circle cx="502.3" cy="425.9"/>
<circle cx="500.8" cy="425.3"/>
<circle cx="493.0" cy="419.2"/>
<circle cx="494.7" cy="414.9"/>
<circle cx="495.6" cy="407.8"/>
<circle cx="501.6" cy="434.9"/>
<circle cx="501.8" cy="432.9"/>
<circle cx="501.7" cy="431.7"/>
<circle cx="500.9" cy="430.0"/>
<circle cx="501.6" cy="427.6"/>
<circle cx="499.0" cy="435.1"/>
<circle cx="500.0" cy="433.2"/>
<circle cx="499.5" cy="430.9"/>
<circle cx="500.2" cy="428.9"/>
<circle cx="499.2" cy="427.7"/>
<circle cx="499.1" cy="425.4"/>
<circle cx="498.2" cy="435.6"/>
<circle cx="498.3" cy="433.7"/>
<circle cx="497.8" cy="430.7"/>
<circle cx="498.1" cy="428.9"/>
<circle cx="498.0" cy="427.2"/>
<circle cx="497.6" cy="425.0"/>
<circle cx="496.7" cy="434.4"/>
<circle cx="496.0" cy="433.1"/>
<circle cx="496.3" cy="431.7"/>
<circle cx="496.5" cy="430.0"/>
<circle cx="496.0" cy="428.0"/>
<circle cx="496.5" cy="425.7"/>
<circle cx="494.6" cy="435.7"/>
<circle cx="494.8" cy="432.9"/>
<circle cx="494.8" cy="431.6"/>
<circle cx="494.4" cy="429.1"/>
<circle cx="494.9" cy="428.3"/>
<circle cx="494.4" cy="426.0"/>
<circle cx="495.0" cy="423.9"/>
<circle cx="494.2" cy="422.7"/>
<circle cx="493.0" cy="435.1"/>
<circle cx="492.1" cy="433.4"/>
<circle cx="492.6" cy="431.6"/>
<circle cx="492.8" cy="429.7"/>
<circle cx="492.1" cy="427.2"/>
<circle cx="491.3" cy="435.2"/>
<circle cx="491.3" cy="432.9"/>
<circle cx="490.4" cy="432.0"/>
<circle cx="490.5" cy="429.6"/>
<circle cx="488.7" cy="435.1"/>
<circle cx="489.6" cy="433.2"/>
<circle cx="489.1" cy="432.0"/>
<circle cx="488.7" cy="429.3"/>
<circle cx="487.5" cy="435.6"/>
<circle cx="487.7" cy="433.4"/>
<circle cx="488.0" cy="431.8"/>
<circle cx="487.2" cy="429.5"/>
<circle cx="486.3" cy="434.9"/>
<circle cx="485.7" cy="432.2"/>
<circle cx="108.8" cy="468.0"/>
<circle cx="105.3" cy="460.1"/>
<circle cx="105.3" cy="446.9"/>
<circle cx="104.6" cy="446.0"/>
<circle cx="105.3" cy="445.2"/>
<circle cx="85.8" cy="473.7"/>
<circle cx="85.4" cy="472.3"/>
<circle cx="85.0" cy="471.0"/>
<circle cx="85.6" cy="469.6"/>
<circle cx="85.8" cy="468.4"/>
<circle cx="86.2" cy="467.1"/>
<circle cx="85.6" cy="465.9"/>
<circle cx="85.4" cy="464.3"/>
<circle cx="85.4" cy="462.7"/>
<circle cx="85.0" cy="461.3"/>
<circle cx="84.7" cy="457.4"/>
<circle cx="84.4" cy="452.7"/>
<circle cx="80.7" cy="483.5"/>
<circle cx="80.3" cy="467.1"/>
<circle cx="78.0" cy="484.5"/>
<circle cx="77.6" cy="483.2"/>
<circle cx="76.2" cy="481.4"/>
<circle cx="76.0" cy="480.2"/>
<circle cx="76.5" cy="479.0"/>
<circle cx="76.8" cy="477.8"/>
<circle cx="76.5" cy="475.9"/>
<circle cx="76.5" cy="473.2"/>
<circle cx="76.2" cy="470.4"/>
<circle cx="76.5" cy="468.6"/>
<circle cx="76.2" cy="467.1"/>
<circle cx="73.9" cy="488.1"/>
<circle cx="73.9" cy="486.3"/>
<circle cx="73.9" cy="484.5"/>
<circle cx="74.5" cy="475.7"/>
<circle cx="74.5" cy="467.1"/>
<circle cx="74.5" cy="465.5"/>
<circle cx="72.1" cy="491.8"/>
<circle cx="72.5" cy="490.0"/>
<circle cx="71.5" cy="489.3"/>
<circle cx="70.9" cy="487.9"/>
<circle cx="71.5" cy="479.0"/>
<circle cx="71.8" cy="477.1"/>
<circle cx="71.3" cy="475.3"/>
<circle cx="71.5" cy="473.7"/>
<circle cx="71.3" cy="469.2"/>
<circle cx="71.3" cy="466.2"/>
<circle cx="71.3" cy="460.1"/>
<circle cx="69.8" cy="490.0"/>
<circle cx="69.4" cy="488.1"/>
<circle cx="69.2" cy="486.3"/>
<circle cx="68.9" cy="484.5"/>
<circle cx="69.2" cy="482.0"/>
<circle cx="69.4" cy="480.2"/>
<circle cx="68.9" cy="476.5"/>
<circle cx="68.9" cy="474.7"/>
<circle cx="69.2" cy="472.9"/>
<circle cx="69.4" cy="471.0"/>
<circle cx="69.2" cy="469.6"/>
<circle cx="69.4" cy="460.3"/>
<circle cx="68.2" cy="460.1"/>
<circle cx="66.6" cy="496.7"/>
<circle cx="66.3" cy="494.8"/>
<circle cx="66.6" cy="493.0"/>
<circle cx="66.8" cy="491.2"/>
<circle cx="66.3" cy="489.3"/>
<circle cx="66.6" cy="487.5"/>
<circle cx="66.8" cy="485.7"/>
<circle cx="66.6" cy="483.9"/>
<circle cx="66.8" cy="482.0"/>
<circle cx="65.1" cy="496.7"/>
<circle cx="64.7" cy="494.8"/>
<circle cx="64.5" cy="493.0"/>
<circle cx="64.7" cy="491.2"/>
<circle cx="64.5" cy="489.3"/>
<circle cx="64.7" cy="487.5"/>
<circle cx="64.7" cy="485.7"/>
<circle cx="64.3" cy="483.2"/>
<circle cx="63.9" cy="481.4"/>
<circle cx="63.9" cy="479.6"/>
<circle cx="63.9" cy="477.8"/>
<circle cx="63.9" cy="475.9"/>
<circle cx="63.9" cy="474.1"/>
<circle cx="63.9" cy="469.6"/>
<circle cx="62.7" cy="496.1"/>
<circle cx="62.4" cy="494.2"/>
<circle cx="62.1" cy="492.4"/>
<circle cx="62.4" cy="490.6"/>
<circle cx="62.1" cy="488.7"/>
<circle cx="62.4" cy="486.9"/>
<circle cx="61.6" cy="485.1"/>
<circle cx="59.8" cy="497.3"/>
<circle cx="59.6" cy="495.4"/>
<circle cx="59.2" cy="493.6"/>
<circle cx="58.9" cy="491.8"/>
<circle cx="59.2" cy="490.0"/>
<circle cx="58.6" cy="488.1"/>
<circle cx="60.4" cy="486.3"/>
<circle cx="57.5" cy="497.9"/>
<circle cx="57.2" cy="496.1"/>
<circle cx="56.9" cy="494.2"/>
<circle cx="57.2" cy="492.4"/>
<circle cx="56.9" cy="490.6"/>
<circle cx="56.3" cy="497.9"/>
<circle cx="56.1" cy="496.1"/>
<circle cx="169.0" cy="445.0"/>
<circle cx="169.0" cy="446.2"/>
<circle cx="119.9" cy="452.1"/>
<circle cx="119.9" cy="456.9"/>
<circle cx="119.9" cy="467.6"/>
<circle cx="119.9" cy="469.2"/>
<circle cx="119.9" cy="471.0"/>
<circle cx="141.0" cy="460.0"/>
<circle cx="147.8" cy="463.6"/>
<circle cx="147.8" cy="465.2"/>
<circle cx="147.8" cy="467.1"/>
<circle cx="147.8" cy="473.3"/>
<circle cx="147.8" cy="475.5"/>
<circle cx="147.8" cy="483.1"/>
<circle cx="147.8" cy="485.0"/>
<circle cx="147.8" cy="487.0"/>
<circle cx="147.8" cy="492.4"/>
<circle cx="141.0" cy="469.8"/>
<circle cx="141.0" cy="471.5"/>
<circle cx="141.0" cy="473.3"/>
<circle cx="141.0" cy="475.1"/>
<circle cx="141.0" cy="476.9"/>
<circle cx="141.0" cy="478.7"/>
<circle cx="141.0" cy="480.5"/>
<circle cx="141.0" cy="482.3"/>
<circle cx="141.0" cy="484.0"/>
<circle cx="141.0" cy="485.8"/>
<circle cx="141.0" cy="488.8"/>
<circle cx="144.9" cy="488.8"/>
<circle cx="161.2" cy="461.7"/>
<circle cx="161.2" cy="463.6"/>
<circle cx="161.2" cy="468.6"/>
<circle cx="161.2" cy="473.6"/>
<circle cx="161.2" cy="475.5"/>
<circle cx="161.2" cy="477.1"/>
<circle cx="161.2" cy="479.0"/>
<circle cx="161.2" cy="480.7"/>
<circle cx="161.2" cy="482.6"/>
<circle cx="161.2" cy="486.7"/>
<circle cx="169.2" cy="459.6"/>
<circle cx="169.2" cy="465.0"/>
<circle cx="169.9" cy="467.6"/>
<circle cx="169.0" cy="469.5"/>
<circle cx="169.5" cy="474.5"/>
<circle cx="168.7" cy="476.9"/>
<circle cx="169.2" cy="478.7"/>
<circle cx="169.0" cy="480.5"/>
<circle cx="133.8" cy="480.5"/>
<circle cx="133.8" cy="482.3"/>
<circle cx="133.8" cy="484.3"/>
<circle cx="133.8" cy="486.2"/>
<circle cx="133.8" cy="487.9"/>
<circle cx="133.8" cy="489.8"/>
<circle cx="133.8" cy="491.4"/>
<circle cx="133.8" cy="493.3"/>
<circle cx="133.8" cy="495.0"/>
<circle cx="138.0" cy="489.0"/>
<circle cx="138.0" cy="491.0"/>
<circle cx="138.0" cy="492.6"/>
<circle cx="138.0" cy="494.2"/>
<circle cx="124.0" cy="486.7"/>
<circle cx="124.9" cy="488.2"/>
<circle cx="127.0" cy="485.2"/>
<circle cx="128.2" cy="486.7"/>
<circle cx="129.7" cy="487.9"/>
<circle cx="130.6" cy="489.4"/>
<circle cx="130.9" cy="491.2"/>
<circle cx="127.0" cy="489.4"/>
<circle cx="128.2" cy="490.6"/>
<circle cx="129.7" cy="492.1"/>
<circle cx="127.0" cy="493.3"/>
<circle cx="128.2" cy="494.2"/>
<circle cx="127.0" cy="495.0"/>
<circle cx="128.2" cy="496.2"/>
<circle cx="120.4" cy="493.6"/>
<circle cx="121.6" cy="494.5"/>
<circle cx="122.8" cy="495.7"/>
<circle cx="119.5" cy="496.0"/>
<circle cx="118.7" cy="497.1"/>
<circle cx="117.8" cy="497.7"/>
<circle cx="120.4" cy="496.9"/>
<circle cx="184.8" cy="444.5"/>
<circle cx="184.8" cy="446.2"/>
<circle cx="189.5" cy="445.4"/>
<circle cx="189.5" cy="452.1"/>
<circle cx="189.0" cy="456.9"/>
<circle cx="184.8" cy="459.6"/>
<circle cx="183.6" cy="462.0"/>
<circle cx="184.3" cy="463.6"/>
<circle cx="188.1" cy="460.0"/>
<circle cx="183.6" cy="465.0"/>
<circle cx="184.8" cy="466.4"/>
<circle cx="186.0" cy="467.4"/>
<circle cx="186.9" cy="465.6"/>
<circle cx="188.1" cy="467.1"/>
<circle cx="189.0" cy="468.6"/>
<circle cx="189.5" cy="470.4"/>
<circle cx="191.4" cy="468.3"/>
<circle cx="184.3" cy="470.4"/>
<circle cx="184.8" cy="472.4"/>
<circle cx="183.6" cy="474.5"/>
<circle cx="184.8" cy="475.5"/>
<circle cx="188.1" cy="473.9"/>
<circle cx="190.7" cy="475.5"/>
<circle cx="189.3" cy="477.5"/>
<circle cx="188.3" cy="479.3"/>
<circle cx="193.5" cy="479.3"/>
<circle cx="183.6" cy="480.5"/>
<circle cx="184.8" cy="481.9"/>
<circle cx="183.6" cy="483.5"/>
<circle cx="184.5" cy="485.0"/>
<circle cx="188.3" cy="484.0"/>
<circle cx="189.0" cy="485.5"/>
<circle cx="190.2" cy="486.7"/>
<circle cx="191.1" cy="487.6"/>
<circle cx="203.0" cy="496.5"/>
<circle cx="208.1" cy="488.8"/>
<circle cx="208.1" cy="490.6"/>
<circle cx="208.1" cy="493.0"/>
<circle cx="208.1" cy="495.0"/>
<circle cx="208.1" cy="496.9"/>
<circle cx="210.7" cy="492.4"/>
<circle cx="210.7" cy="494.2"/>
<circle cx="212.1" cy="479.3"/>
<circle cx="212.1" cy="485.0"/>
<circle cx="215.5" cy="495.4"/>
<circle cx="216.1" cy="496.5"/>
<circle cx="216.7" cy="487.0"/>
<circle cx="221.7" cy="487.6"/>
<circle cx="221.7" cy="489.0"/>
<circle cx="231.0" cy="476.9"/>
<circle cx="231.0" cy="480.5"/>
<circle cx="179.8" cy="463.2"/>
<circle cx="180.0" cy="465.5"/>
<circle cx="179.8" cy="467.2"/>
<circle cx="179.9" cy="468.6"/>
<circle cx="179.9" cy="470.5"/>
<circle cx="179.5" cy="472.3"/>
<circle cx="179.9" cy="474.1"/>
<circle cx="179.9" cy="476.4"/>
<circle cx="179.8" cy="477.8"/>
<circle cx="179.7" cy="479.8"/>
<circle cx="180.0" cy="481.5"/>
<circle cx="179.9" cy="482.9"/>
<circle cx="179.5" cy="484.8"/>
<circle cx="179.9" cy="486.6"/>
<circle cx="179.8" cy="488.2"/>
<circle cx="179.4" cy="490.2"/>
<circle cx="179.9" cy="492.3"/>
<circle cx="179.9" cy="493.8"/>
<circle cx="179.8" cy="495.7"/>
<circle cx="180.9" cy="486.5"/>
<circle cx="183.3" cy="486.6"/>
<circle cx="185.1" cy="487.6"/>
<circle cx="185.7" cy="487.0"/>
<circle cx="188.5" cy="487.6"/>
<circle cx="189.8" cy="486.7"/>
<circle cx="180.6" cy="489.4"/>
<circle cx="182.4" cy="488.9"/>
<circle cx="184.1" cy="488.8"/>
<circle cx="186.9" cy="488.3"/>
<circle cx="188.5" cy="488.8"/>
<circle cx="190.4" cy="489.1"/>
<circle cx="193.7" cy="489.3"/>
<circle cx="180.9" cy="490.0"/>
<circle cx="182.1" cy="490.6"/>
<circle cx="184.5" cy="490.3"/>
<circle cx="185.8" cy="490.4"/>
<circle cx="187.9" cy="491.0"/>
<circle cx="189.2" cy="490.9"/>
<circle cx="194.5" cy="490.1"/>
<circle cx="198.8" cy="490.9"/>
<circle cx="181.5" cy="492.1"/>
<circle cx="182.6" cy="492.2"/>
<circle cx="185.2" cy="492.5"/>
<circle cx="186.1" cy="492.3"/>
<circle cx="187.8" cy="491.8"/>
<circle cx="189.4" cy="492.8"/>
<circle cx="193.8" cy="493.0"/>
<circle cx="197.9" cy="492.1"/>
<circle cx="181.0" cy="493.8"/>
<circle cx="182.6" cy="494.8"/>
<circle cx="185.0" cy="494.6"/>
<circle cx="186.5" cy="494.7"/>
<circle cx="188.7" cy="494.2"/>
<circle cx="190.2" cy="493.6"/>
<circle cx="192.0" cy="494.1"/>
<circle cx="194.4" cy="494.4"/>
<circle cx="197.9" cy="493.6"/>
<circle cx="182.1" cy="495.2"/>
<circle cx="183.3" cy="495.5"/>
<circle cx="184.9" cy="496.0"/>
<circle cx="187.5" cy="495.4"/>
<circle cx="188.9" cy="495.5"/>
<circle cx="190.6" cy="495.6"/>
<circle cx="193.6" cy="495.3"/>
<circle cx="197.8" cy="496.2"/>
<circle cx="247.0" cy="444.5"/>
<circle cx="247.7" cy="446.2"/>
<circle cx="250.9" cy="445.7"/>
<circle cx="275.3" cy="452.1"/>
<circle cx="278.3" cy="456.9"/>
<circle cx="292.2" cy="462.4"/>
<circle cx="247.0" cy="460.0"/>
<circle cx="250.0" cy="460.0"/>
<circle cx="253.6" cy="461.7"/>
<circle cx="267.9" cy="460.0"/>
<circle cx="247.9" cy="463.6"/>
<circle cx="249.3" cy="465.0"/>
<circle cx="247.0" cy="467.1"/>
<circle cx="250.9" cy="467.6"/>
<circle cx="254.5" cy="465.0"/>
<circle cx="255.6" cy="466.8"/>
<circle cx="255.0" cy="469.2"/>
<circle cx="257.2" cy="468.0"/>
<circle cx="260.4" cy="469.2"/>
<circle cx="250.9" cy="470.4"/>
<circle cx="250.0" cy="472.4"/>
<circle cx="254.5" cy="471.9"/>
<circle cx="261.0" cy="473.3"/>
<circle cx="259.8" cy="475.1"/>
<circle cx="245.8" cy="475.5"/>
<circle cx="250.3" cy="475.5"/>
<circle cx="257.7" cy="476.0"/>
<circle cx="258.6" cy="477.5"/>
<circle cx="267.9" cy="469.8"/>
<circle cx="267.9" cy="472.7"/>
<circle cx="273.5" cy="463.2"/>
<circle cx="273.5" cy="465.2"/>
<circle cx="273.5" cy="472.7"/>
<circle cx="273.5" cy="476.0"/>
<circle cx="267.9" cy="479.3"/>
<circle cx="267.9" cy="481.1"/>
<circle cx="267.9" cy="483.1"/>
<circle cx="281.8" cy="481.1"/>
<circle cx="249.3" cy="478.1"/>
<circle cx="251.5" cy="479.9"/>
<circle cx="253.9" cy="478.3"/>
<circle cx="255.6" cy="479.9"/>
<circle cx="257.4" cy="481.1"/>
<circle cx="259.2" cy="479.3"/>
<circle cx="260.4" cy="481.7"/>
<circle cx="259.8" cy="483.5"/>
<circle cx="248.5" cy="482.3"/>
<circle cx="250.3" cy="483.8"/>
<circle cx="252.1" cy="485.0"/>
<circle cx="253.9" cy="483.1"/>
<circle cx="255.6" cy="484.0"/>
<circle cx="257.4" cy="485.2"/>
<circle cx="259.2" cy="486.4"/>
<circle cx="261.0" cy="485.8"/>
<circle cx="260.4" cy="488.2"/>
<circle cx="243.4" cy="487.4"/>
<circle cx="278.3" cy="488.8"/>
<circle cx="278.3" cy="490.6"/>
<circle cx="278.3" cy="492.4"/>
<circle cx="278.9" cy="495.4"/>
<circle cx="278.9" cy="496.9"/>
<circle cx="269.9" cy="496.9"/>
<circle cx="246.1" cy="488.4"/>
<circle cx="248.4" cy="489.5"/>
<circle cx="249.6" cy="488.3"/>
<circle cx="251.1" cy="488.3"/>
<circle cx="253.1" cy="488.3"/>
<circle cx="254.7" cy="488.5"/>
<circle cx="256.9" cy="489.3"/>
<circle cx="258.9" cy="488.7"/>
<circle cx="241.8" cy="490.6"/>
<circle cx="243.6" cy="490.4"/>
<circle cx="245.0" cy="490.3"/>
<circle cx="247.9" cy="490.1"/>
<circle cx="249.1" cy="490.8"/>
<circle cx="251.4" cy="490.2"/>
<circle cx="252.4" cy="490.3"/>
<circle cx="254.3" cy="490.5"/>
<circle cx="256.8" cy="491.1"/>
<circle cx="241.3" cy="491.8"/>
<circle cx="241.9" cy="492.7"/>
<circle cx="244.9" cy="492.3"/>
<circle cx="246.2" cy="491.7"/>
<circle cx="247.8" cy="492.9"/>
<circle cx="250.1" cy="492.8"/>
<circle cx="252.1" cy="492.1"/>
<circle cx="252.7" cy="491.9"/>
<circle cx="255.1" cy="492.6"/>
<circle cx="257.4" cy="492.7"/>
<circle cx="258.8" cy="492.7"/>
<circle cx="240.7" cy="494.2"/>
<circle cx="241.9" cy="494.5"/>
<circle cx="244.0" cy="494.7"/>
<circle cx="246.3" cy="493.9"/>
<circle cx="247.4" cy="493.8"/>
<circle cx="249.9" cy="494.4"/>
<circle cx="251.0" cy="493.6"/>
<circle cx="253.9" cy="494.3"/>
<circle cx="256.7" cy="493.8"/>
<circle cx="258.8" cy="493.5"/>
<circle cx="264.3" cy="494.1"/>
<circle cx="267.0" cy="494.4"/>
<circle cx="241.9" cy="495.7"/>
<circle cx="242.8" cy="495.4"/>
<circle cx="246.1" cy="496.0"/>
<circle cx="247.7" cy="495.1"/>
<circle cx="250.3" cy="495.9"/>
<circle cx="253.8" cy="495.4"/>
<circle cx="258.2" cy="496.3"/>
<circle cx="266.0" cy="495.1"/>
<circle cx="267.9" cy="495.6"/>
<circle cx="270.2" cy="495.3"/>
<circle cx="303.2" cy="445.4"/>
<circle cx="304.4" cy="446.2"/>
<circle cx="314.9" cy="452.1"/>
<circle cx="317.5" cy="456.9"/>
<circle cx="323.8" cy="460.0"/>
<circle cx="320.8" cy="462.0"/>
<circle cx="320.2" cy="463.8"/>
<circle cx="303.9" cy="460.0"/>
<circle cx="309.9" cy="460.0"/>
<circle cx="304.4" cy="465.2"/>
<circle cx="305.9" cy="465.2"/>
<circle cx="309.5" cy="463.6"/>
<circle cx="302.0" cy="468.0"/>
<circle cx="306.5" cy="468.6"/>
<circle cx="308.7" cy="469.5"/>
<circle cx="309.9" cy="469.2"/>
<circle cx="314.6" cy="467.1"/>
<circle cx="316.0" cy="467.6"/>
<circle cx="319.0" cy="467.1"/>
<circle cx="318.2" cy="469.2"/>
<circle cx="314.6" cy="471.2"/>
<circle cx="317.2" cy="470.7"/>
<circle cx="323.8" cy="473.9"/>
<circle cx="314.9" cy="475.5"/>
<circle cx="333.9" cy="465.6"/>
<circle cx="333.9" cy="467.6"/>
<circle cx="333.9" cy="476.0"/>
<circle cx="333.9" cy="480.7"/>
<circle cx="333.9" cy="482.6"/>
<circle cx="333.9" cy="484.6"/>
<circle cx="333.9" cy="486.2"/>
<circle cx="306.5" cy="475.1"/>
<circle cx="308.0" cy="476.3"/>
<circle cx="308.9" cy="477.9"/>
<circle cx="303.9" cy="479.9"/>
<circle cx="306.3" cy="478.7"/>
<circle cx="308.9" cy="480.5"/>
<circle cx="309.9" cy="482.3"/>
<circle cx="308.3" cy="483.8"/>
<circle cx="306.5" cy="485.5"/>
<circle cx="308.9" cy="485.8"/>
<circle cx="310.3" cy="487.4"/>
<circle cx="314.9" cy="481.1"/>
<circle cx="314.9" cy="483.1"/>
<circle cx="314.9" cy="485.2"/>
<circle cx="319.0" cy="485.0"/>
<circle cx="321.4" cy="485.8"/>
<circle cx="325.6" cy="481.7"/>
<circle cx="325.6" cy="483.5"/>
<circle cx="325.6" cy="485.2"/>
<circle cx="325.6" cy="487.0"/>
<circle cx="325.6" cy="488.6"/>
<circle cx="330.1" cy="493.0"/>
<circle cx="330.1" cy="495.0"/>
<circle cx="336.3" cy="493.0"/>
<circle cx="338.1" cy="491.4"/>
<circle cx="339.3" cy="490.0"/>
<circle cx="341.0" cy="488.8"/>
<circle cx="341.6" cy="490.6"/>
<circle cx="337.5" cy="495.0"/>
<circle cx="338.4" cy="495.7"/>
<circle cx="337.5" cy="496.9"/>
<circle cx="349.1" cy="495.0"/>
<circle cx="349.4" cy="496.5"/>
<circle cx="353.0" cy="493.0"/>
<circle cx="353.5" cy="494.8"/>
<circle cx="353.2" cy="496.2"/>
<circle cx="307.5" cy="489.4"/>
<circle cx="308.9" cy="488.7"/>
<circle cx="316.1" cy="488.8"/>
<circle cx="317.7" cy="488.7"/>
<circle cx="318.7" cy="489.4"/>
<circle cx="320.5" cy="489.6"/>
<circle cx="305.9" cy="490.2"/>
<circle cx="307.4" cy="490.5"/>
<circle cx="309.7" cy="491.2"/>
<circle cx="310.8" cy="490.5"/>
<circle cx="314.5" cy="491.2"/>
<circle cx="316.2" cy="490.0"/>
<circle cx="317.9" cy="490.5"/>
<circle cx="321.3" cy="491.1"/>
<circle cx="306.8" cy="492.8"/>
<circle cx="308.9" cy="491.9"/>
<circle cx="309.7" cy="492.7"/>
<circle cx="312.2" cy="491.5"/>
<circle cx="314.5" cy="492.0"/>
<circle cx="315.9" cy="491.9"/>
<circle cx="317.4" cy="491.5"/>
<circle cx="319.3" cy="491.9"/>
<circle cx="307.7" cy="493.3"/>
<circle cx="309.5" cy="493.4"/>
<circle cx="310.5" cy="494.2"/>
<circle cx="312.9" cy="493.7"/>
<circle cx="314.3" cy="493.8"/>
<circle cx="316.5" cy="494.4"/>
<circle cx="318.0" cy="493.6"/>
<circle cx="308.2" cy="494.7"/>
<circle cx="309.4" cy="495.8"/>
<circle cx="312.2" cy="494.8"/>
<circle cx="314.2" cy="494.8"/>
<circle cx="317.2" cy="495.0"/>
<circle cx="308.6" cy="497.4"/>
<circle cx="366.1" cy="445.0"/>
<circle cx="366.6" cy="445.7"/>
<circle cx="376.8" cy="452.1"/>
<circle cx="375.6" cy="456.9"/>
<circle cx="380.6" cy="461.7"/>
<circle cx="376.5" cy="462.4"/>
<circle cx="376.5" cy="463.8"/>
<circle cx="367.5" cy="459.6"/>
<circle cx="369.9" cy="460.0"/>
<circle cx="365.7" cy="465.0"/>
<circle cx="367.8" cy="465.2"/>
<circle cx="369.9" cy="464.4"/>
<circle cx="365.7" cy="468.0"/>
<circle cx="367.5" cy="468.6"/>
<circle cx="369.9" cy="467.6"/>
<circle cx="371.1" cy="469.2"/>
<circle cx="375.6" cy="467.4"/>
<circle cx="376.5" cy="469.2"/>
<circle cx="377.0" cy="470.7"/>
<circle cx="376.8" cy="475.5"/>
<circle cx="367.5" cy="473.3"/>
<circle cx="369.0" cy="473.9"/>
<circle cx="369.9" cy="474.5"/>
<circle cx="367.3" cy="475.7"/>
<circle cx="369.3" cy="476.9"/>
<circle cx="372.3" cy="477.1"/>
<circle cx="366.3" cy="478.7"/>
<circle cx="367.5" cy="479.3"/>
<circle cx="369.0" cy="480.2"/>
<circle cx="369.9" cy="481.1"/>
<circle cx="365.7" cy="481.7"/>
<circle cx="367.3" cy="482.3"/>
<circle cx="368.7" cy="483.1"/>
<circle cx="369.9" cy="483.8"/>
<circle cx="366.3" cy="484.6"/>
<circle cx="367.8" cy="485.5"/>
<circle cx="369.3" cy="486.4"/>
<circle cx="371.1" cy="487.0"/>
<circle cx="376.8" cy="481.1"/>
<circle cx="376.8" cy="483.8"/>
<circle cx="376.8" cy="485.5"/>
<circle cx="380.0" cy="493.0"/>
<circle cx="380.0" cy="494.5"/>
<circle cx="393.5" cy="467.1"/>
<circle cx="391.1" cy="485.8"/>
<circle cx="391.1" cy="488.2"/>
<circle cx="391.1" cy="490.0"/>
<circle cx="391.1" cy="491.4"/>
<circle cx="393.1" cy="490.6"/>
<circle cx="394.9" cy="490.0"/>
<circle cx="396.3" cy="489.4"/>
<circle cx="399.1" cy="483.8"/>
<circle cx="399.7" cy="485.8"/>
<circle cx="400.9" cy="487.0"/>
<circle cx="402.3" cy="488.2"/>
<circle cx="399.9" cy="491.8"/>
<circle cx="399.9" cy="494.2"/>
<circle cx="399.7" cy="495.4"/>
<circle cx="404.2" cy="496.0"/>
<circle cx="404.2" cy="497.1"/>
<circle cx="406.2" cy="481.7"/>
<circle cx="409.0" cy="460.0"/>
<circle cx="413.0" cy="465.6"/>
<circle cx="413.0" cy="467.1"/>
<circle cx="408.6" cy="470.7"/>
<circle cx="409.0" cy="475.5"/>
<circle cx="413.0" cy="476.3"/>
<circle cx="413.0" cy="480.5"/>
<circle cx="413.0" cy="482.3"/>
<circle cx="413.0" cy="484.3"/>
<circle cx="413.0" cy="486.2"/>
<circle cx="413.0" cy="488.2"/>
<circle cx="413.0" cy="490.0"/>
<circle cx="411.0" cy="492.4"/>
<circle cx="411.0" cy="494.2"/>
<circle cx="411.0" cy="495.7"/>
<circle cx="413.0" cy="491.4"/>
<circle cx="413.0" cy="493.0"/>
<circle cx="413.0" cy="494.5"/>
<circle cx="414.0" cy="491.8"/>
<circle cx="365.5" cy="487.9"/>
<circle cx="368.1" cy="488.4"/>
<circle cx="369.0" cy="488.5"/>
<circle cx="370.9" cy="487.9"/>
<circle cx="363.3" cy="490.1"/>
<circle cx="366.3" cy="489.9"/>
<circle cx="368.1" cy="489.1"/>
<circle cx="369.0" cy="489.7"/>
<circle cx="371.7" cy="490.4"/>
<circle cx="372.1" cy="489.4"/>
<circle cx="363.3" cy="491.4"/>
<circle cx="365.7" cy="491.0"/>
<circle cx="367.3" cy="491.7"/>
<circle cx="369.1" cy="491.8"/>
<circle cx="370.6" cy="491.2"/>
<circle cx="372.0" cy="491.2"/>
<circle cx="363.7" cy="492.4"/>
<circle cx="364.7" cy="493.3"/>
<circle cx="366.6" cy="492.4"/>
<circle cx="368.1" cy="493.0"/>
<circle cx="370.3" cy="493.6"/>
<circle cx="372.8" cy="493.6"/>
<circle cx="363.6" cy="494.0"/>
<circle cx="365.2" cy="494.5"/>
<circle cx="367.8" cy="494.5"/>
<circle cx="369.0" cy="494.4"/>
<circle cx="371.3" cy="494.8"/>
<circle cx="365.5" cy="496.4"/>
<circle cx="367.1" cy="495.5"/>
<circle cx="369.2" cy="495.7"/>
<circle cx="429.5" cy="444.5"/>
<circle cx="429.8" cy="446.2"/>
<circle cx="434.3" cy="445.7"/>
<circle cx="475.7" cy="452.1"/>
<circle cx="475.4" cy="457.3"/>
<circle cx="426.9" cy="460.0"/>
<circle cx="433.3" cy="460.0"/>
<circle cx="434.5" cy="460.0"/>
<circle cx="428.6" cy="462.6"/>
<circle cx="430.1" cy="463.2"/>
<circle cx="431.9" cy="465.0"/>
<circle cx="427.4" cy="465.6"/>
<circle cx="433.1" cy="468.0"/>
<circle cx="434.9" cy="468.3"/>
<circle cx="425.7" cy="467.6"/>
<circle cx="428.3" cy="469.2"/>
<circle cx="431.3" cy="470.7"/>
<circle cx="434.3" cy="473.6"/>
<circle cx="427.7" cy="473.3"/>
<circle cx="429.5" cy="474.5"/>
<circle cx="431.9" cy="475.1"/>
<circle cx="438.5" cy="465.0"/>
<circle cx="440.2" cy="466.4"/>
<circle cx="441.2" cy="468.0"/>
<circle cx="442.9" cy="469.2"/>
<circle cx="442.0" cy="475.7"/>
<circle cx="442.4" cy="477.1"/>
<circle cx="461.9" cy="467.6"/>
<circle cx="462.3" cy="469.2"/>
<circle cx="461.9" cy="471.2"/>
<circle cx="427.1" cy="477.9"/>
<circle cx="428.9" cy="478.3"/>
<circle cx="430.7" cy="479.5"/>
<circle cx="432.5" cy="480.2"/>
<circle cx="434.3" cy="480.7"/>
<circle cx="434.9" cy="482.3"/>
<circle cx="440.8" cy="490.2"/>
<circle cx="445.0" cy="488.6"/>
<circle cx="451.9" cy="487.6"/>
<circle cx="425.4" cy="481.5"/>
<circle cx="427.5" cy="481.3"/>
<circle cx="428.6" cy="481.3"/>
<circle cx="430.3" cy="482.2"/>
<circle cx="432.6" cy="481.4"/>
<circle cx="425.2" cy="484.1"/>
<circle cx="427.2" cy="483.1"/>
<circle cx="429.3" cy="483.7"/>
<circle cx="431.4" cy="482.9"/>
<circle cx="432.5" cy="483.9"/>
<circle cx="434.7" cy="484.0"/>
<circle cx="424.8" cy="485.0"/>
<circle cx="426.6" cy="484.8"/>
<circle cx="429.5" cy="485.3"/>
<circle cx="431.3" cy="485.1"/>
<circle cx="433.0" cy="485.2"/>
<circle cx="435.2" cy="485.6"/>
<circle cx="425.9" cy="486.5"/>
<circle cx="427.3" cy="487.2"/>
<circle cx="428.6" cy="486.9"/>
<circle cx="430.2" cy="486.6"/>
<circle cx="432.2" cy="487.2"/>
<circle cx="434.5" cy="486.6"/>
<circle cx="424.7" cy="488.6"/>
<circle cx="427.4" cy="488.4"/>
<circle cx="428.7" cy="488.4"/>
<circle cx="431.1" cy="488.9"/>
<circle cx="431.9" cy="488.3"/>
<circle cx="434.1" cy="488.9"/>
<circle cx="436.3" cy="488.3"/>
<circle cx="437.4" cy="489.1"/>
<circle cx="425.2" cy="490.3"/>
<circle cx="426.9" cy="491.2"/>
<circle cx="428.7" cy="490.7"/>
<circle cx="430.5" cy="490.5"/>
<circle cx="433.0" cy="491.2"/>
<circle cx="425.2" cy="492.0"/>
<circle cx="427.4" cy="492.0"/>
<circle cx="428.3" cy="492.9"/>
<circle cx="430.6" cy="492.8"/>
<circle cx="425.2" cy="494.7"/>
<circle cx="427.1" cy="493.7"/>
<circle cx="428.3" cy="494.2"/>
<circle cx="430.9" cy="494.7"/>
<circle cx="424.8" cy="495.9"/>
<circle cx="427.0" cy="495.7"/>
<circle cx="428.5" cy="495.4"/>
<circle cx="430.7" cy="496.3"/>
<circle cx="425.4" cy="497.1"/>
<circle cx="428.1" cy="497.8"/>
</g>
<path d="M54.50 9.30V67.30H110.50" fill="none" stroke="#262626" stroke-width="1.1"/>
<line x1="50.90" y1="57.40" x2="54.50" y2="57.40" stroke="#262626" stroke-width="1.1"/>
<line x1="50.90" y1="40.90" x2="54.50" y2="40.90" stroke="#262626" stroke-width="1.1"/>
<line x1="50.90" y1="24.40" x2="54.50" y2="24.40" stroke="#262626" stroke-width="1.1"/>
<line x1="64.10" y1="67.30" x2="64.10" y2="70.90" stroke="#262626" stroke-width="1.1"/>
<line x1="80.35" y1="67.30" x2="80.35" y2="70.90" stroke="#262626" stroke-width="1.1"/>
<line x1="96.60" y1="67.30" x2="96.60" y2="70.90" stroke="#262626" stroke-width="1.1"/>
<path d="M115.60 9.30V67.30H171.60" fill="none" stroke="#262626" stroke-width="1.1"/>
<line x1="112.00" y1="57.40" x2="115.60" y2="57.40" stroke="#262626" stroke-width="1.1"/>
<line x1="112.00" y1="40.90" x2="115.60" y2="40.90" stroke="#262626" stroke-width="1.1"/>
<line x1="112.00" y1="24.40" x2="115.60" y2="24.40" stroke="#262626" stroke-width="1.1"/>
<line x1="133.60" y1="67.30" x2="133.60" y2="70.90" stroke="#262626" stroke-width="1.1"/>
<line x1="161.80" y1="67.30" x2="161.80" y2="70.90" stroke="#262626" stroke-width="1.1"/>
<path d="M177.00 9.30V67.30H233.00" fill="none" stroke="#262626" stroke-width="1.1"/>
<line x1="173.40" y1="57.40" x2="177.00" y2="57.40" stroke="#262626" stroke-width="1.1"/>
<line x1="173.40" y1="40.90" x2="177.00" y2="40.90" stroke="#262626" stroke-width="1.1"/>
<line x1="173.40" y1="24.40" x2="177.00" y2="24.40" stroke="#262626" stroke-width="1.1"/>
<line x1="179.50" y1="67.30" x2="179.50" y2="70.90" stroke="#262626" stroke-width="1.1"/>
<line x1="202.95" y1="67.30" x2="202.95" y2="70.90" stroke="#262626" stroke-width="1.1"/>
<line x1="226.40" y1="67.30" x2="226.40" y2="70.90" stroke="#262626" stroke-width="1.1"/>
<path d="M238.50 9.30V67.30H294.50" fill="none" stroke="#262626" stroke-width="1.1"/>
<line x1="234.90" y1="57.40" x2="238.50" y2="57.40" stroke="#262626" stroke-width="1.1"/>
<line x1="234.90" y1="40.90" x2="238.50" y2="40.90" stroke="#262626" stroke-width="1.1"/>
<line x1="234.90" y1="24.40" x2="238.50" y2="24.40" stroke="#262626" stroke-width="1.1"/>
<line x1="259.40" y1="67.30" x2="259.40" y2="70.90" stroke="#262626" stroke-width="1.1"/>
<line x1="290.90" y1="67.30" x2="290.90" y2="70.90" stroke="#262626" stroke-width="1.1"/>
<path d="M299.50 9.30V67.30H355.50" fill="none" stroke="#262626" stroke-width="1.1"/>
<line x1="295.90" y1="57.40" x2="299.50" y2="57.40" stroke="#262626" stroke-width="1.1"/>
<line x1="295.90" y1="40.90" x2="299.50" y2="40.90" stroke="#262626" stroke-width="1.1"/>
<line x1="295.90" y1="24.40" x2="299.50" y2="24.40" stroke="#262626" stroke-width="1.1"/>
<line x1="314.70" y1="67.30" x2="314.70" y2="70.90" stroke="#262626" stroke-width="1.1"/>
<line x1="335.70" y1="67.30" x2="335.70" y2="70.90" stroke="#262626" stroke-width="1.1"/>
<path d="M360.60 9.30V67.30H416.60" fill="none" stroke="#262626" stroke-width="1.1"/>
<line x1="357.00" y1="57.40" x2="360.60" y2="57.40" stroke="#262626" stroke-width="1.1"/>
<line x1="357.00" y1="40.90" x2="360.60" y2="40.90" stroke="#262626" stroke-width="1.1"/>
<line x1="357.00" y1="24.40" x2="360.60" y2="24.40" stroke="#262626" stroke-width="1.1"/>
<line x1="371.30" y1="67.30" x2="371.30" y2="70.90" stroke="#262626" stroke-width="1.1"/>
<line x1="393.50" y1="67.30" x2="393.50" y2="70.90" stroke="#262626" stroke-width="1.1"/>
<line x1="415.70" y1="67.30" x2="415.70" y2="70.90" stroke="#262626" stroke-width="1.1"/>
<path d="M422.00 9.30V67.30H478.00" fill="none" stroke="#262626" stroke-width="1.1"/>
<line x1="418.40" y1="57.40" x2="422.00" y2="57.40" stroke="#262626" stroke-width="1.1"/>
<line x1="418.40" y1="40.90" x2="422.00" y2="40.90" stroke="#262626" stroke-width="1.1"/>
<line x1="418.40" y1="24.40" x2="422.00" y2="24.40" stroke="#262626" stroke-width="1.1"/>
<line x1="424.00" y1="67.30" x2="424.00" y2="70.90" stroke="#262626" stroke-width="1.1"/>
<line x1="469.50" y1="67.30" x2="469.50" y2="70.90" stroke="#262626" stroke-width="1.1"/>
<path d="M483.50 9.30V67.30H539.50" fill="none" stroke="#262626" stroke-width="1.1"/>
<line x1="479.90" y1="57.40" x2="483.50" y2="57.40" stroke="#262626" stroke-width="1.1"/>
<line x1="479.90" y1="40.90" x2="483.50" y2="40.90" stroke="#262626" stroke-width="1.1"/>
<line x1="479.90" y1="24.40" x2="483.50" y2="24.40" stroke="#262626" stroke-width="1.1"/>
<line x1="484.10" y1="67.30" x2="484.10" y2="70.90" stroke="#262626" stroke-width="1.1"/>
<line x1="527.50" y1="67.30" x2="527.50" y2="70.90" stroke="#262626" stroke-width="1.1"/>
<path d="M54.50 71.20V129.20H110.50" fill="none" stroke="#262626" stroke-width="1.1"/>
<line x1="50.90" y1="110.50" x2="54.50" y2="110.50" stroke="#262626" stroke-width="1.1"/>
<line x1="50.90" y1="81.90" x2="54.50" y2="81.90" stroke="#262626" stroke-width="1.1"/>
<line x1="64.10" y1="129.20" x2="64.10" y2="132.80" stroke="#262626" stroke-width="1.1"/>
<line x1="80.35" y1="129.20" x2="80.35" y2="132.80" stroke="#262626" stroke-width="1.1"/>
<line x1="96.60" y1="129.20" x2="96.60" y2="132.80" stroke="#262626" stroke-width="1.1"/>
<path d="M115.60 71.20V129.20H171.60" fill="none" stroke="#262626" stroke-width="1.1"/>
<line x1="112.00" y1="110.50" x2="115.60" y2="110.50" stroke="#262626" stroke-width="1.1"/>
<line x1="112.00" y1="81.90" x2="115.60" y2="81.90" stroke="#262626" stroke-width="1.1"/>
<line x1="133.60" y1="129.20" x2="133.60" y2="132.80" stroke="#262626" stroke-width="1.1"/>
<line x1="161.80" y1="129.20" x2="161.80" y2="132.80" stroke="#262626" stroke-width="1.1"/>
<path d="M177.00 71.20V129.20H233.00" fill="none" stroke="#262626" stroke-width="1.1"/>
<line x1="173.40" y1="110.50" x2="177.00" y2="110.50" stroke="#262626" stroke-width="1.1"/>
<line x1="173.40" y1="81.90" x2="177.00" y2="81.90" stroke="#262626" stroke-width="1.1"/>
<line x1="179.50" y1="129.20" x2="179.50" y2="132.80" stroke="#262626" stroke-width="1.1"/>
<line x1="202.95" y1="129.20" x2="202.95" y2="132.80" stroke="#262626" stroke-width="1.1"/>
<line x1="226.40" y1="129.20" x2="226.40" y2="132.80" stroke="#262626" stroke-width="1.1"/>
<path d="M238.50 71.20V129.20H294.50" fill="none" stroke="#262626" stroke-width="1.1"/>
<line x1="234.90" y1="110.50" x2="238.50" y2="110.50" stroke="#262626" stroke-width="1.1"/>
<line x1="234.90" y1="81.90" x2="238.50" y2="81.90" stroke="#262626" stroke-width="1.1"/>
<line x1="259.40" y1="129.20" x2="259.40" y2="132.80" stroke="#262626" stroke-width="1.1"/>
<line x1="290.90" y1="129.20" x2="290.90" y2="132.80" stroke="#262626" stroke-width="1.1"/>
<path d="M299.50 71.20V129.20H355.50" fill="none" stroke="#262626" stroke-width="1.1"/>
<line x1="295.90" y1="110.50" x2="299.50" y2="110.50" stroke="#262626" stroke-width="1.1"/>
<line x1="295.90" y1="81.90" x2="299.50" y2="81.90" stroke="#262626" stroke-width="1.1"/>
<line x1="314.70" y1="129.20" x2="314.70" y2="132.80" stroke="#262626" stroke-width="1.1"/>
<line x1="335.70" y1="129.20" x2="335.70" y2="132.80" stroke="#262626" stroke-width="1.1"/>
<path d="M360.60 71.20V129.20H416.60" fill="none" stroke="#262626" stroke-width="1.1"/>
<line x1="357.00" y1="110.50" x2="360.60" y2="110.50" stroke="#262626" stroke-width="1.1"/>
<line x1="357.00" y1="81.90" x2="360.60" y2="81.90" stroke="#262626" stroke-width="1.1"/>
<line x1="371.30" y1="129.20" x2="371.30" y2="132.80" stroke="#262626" stroke-width="1.1"/>
<line x1="393.50" y1="129.20" x2="393.50" y2="132.80" stroke="#262626" stroke-width="1.1"/>
<line x1="415.70" y1="129.20" x2="415.70" y2="132.80" stroke="#262626" stroke-width="1.1"/>
<path d="M422.00 71.20V129.20H478.00" fill="none" stroke="#262626" stroke-width="1.1"/>
<line x1="418.40" y1="110.50" x2="422.00" y2="110.50" stroke="#262626" stroke-width="1.1"/>
<line x1="418.40" y1="81.90" x2="422.00" y2="81.90" stroke="#262626" stroke-width="1.1"/>
<line x1="424.00" y1="129.20" x2="424.00" y2="132.80" stroke="#262626" stroke-width="1.1"/>
<line x1="469.50" y1="129.20" x2="469.50" y2="132.80" stroke="#262626" stroke-width="1.1"/>
<path d="M483.50 71.20V129.20H539.50" fill="none" stroke="#262626" stroke-width="1.1"/>
<line x1="479.90" y1="110.50" x2="483.50" y2="110.50" stroke="#262626" stroke-width="1.1"/>
<line x1="479.90" y1="81.90" x2="483.50" y2="81.90" stroke="#262626" stroke-width="1.1"/>
<line x1="484.10" y1="129.20" x2="484.10" y2="132.80" stroke="#262626" stroke-width="1.1"/>
<line x1="527.50" y1="129.20" x2="527.50" y2="132.80" stroke="#262626" stroke-width="1.1"/>
<path d="M54.50 133.00V191.00H110.50" fill="none" stroke="#262626" stroke-width="1.1"/>
<line x1="50.90" y1="174.10" x2="54.50" y2="174.10" stroke="#262626" stroke-width="1.1"/>
<line x1="50.90" y1="154.75" x2="54.50" y2="154.75" stroke="#262626" stroke-width="1.1"/>
<line x1="50.90" y1="135.40" x2="54.50" y2="135.40" stroke="#262626" stroke-width="1.1"/>
<line x1="64.10" y1="191.00" x2="64.10" y2="194.60" stroke="#262626" stroke-width="1.1"/>
<line x1="80.35" y1="191.00" x2="80.35" y2="194.60" stroke="#262626" stroke-width="1.1"/>
<line x1="96.60" y1="191.00" x2="96.60" y2="194.60" stroke="#262626" stroke-width="1.1"/>
<path d="M115.60 133.00V191.00H171.60" fill="none" stroke="#262626" stroke-width="1.1"/>
<line x1="112.00" y1="174.10" x2="115.60" y2="174.10" stroke="#262626" stroke-width="1.1"/>
<line x1="112.00" y1="154.75" x2="115.60" y2="154.75" stroke="#262626" stroke-width="1.1"/>
<line x1="112.00" y1="135.40" x2="115.60" y2="135.40" stroke="#262626" stroke-width="1.1"/>
<line x1="133.60" y1="191.00" x2="133.60" y2="194.60" stroke="#262626" stroke-width="1.1"/>
<line x1="161.80" y1="191.00" x2="161.80" y2="194.60" stroke="#262626" stroke-width="1.1"/>
<path d="M177.00 133.00V191.00H233.00" fill="none" stroke="#262626" stroke-width="1.1"/>
<line x1="173.40" y1="174.10" x2="177.00" y2="174.10" stroke="#262626" stroke-width="1.1"/>
<line x1="173.40" y1="154.75" x2="177.00" y2="154.75" stroke="#262626" stroke-width="1.1"/>
<line x1="173.40" y1="135.40" x2="177.00" y2="135.40" stroke="#262626" stroke-width="1.1"/>
<line x1="179.50" y1="191.00" x2="179.50" y2="194.60" stroke="#262626" stroke-width="1.1"/>
<line x1="202.95" y1="191.00" x2="202.95" y2="194.60" stroke="#262626" stroke-width="1.1"/>
<line x1="226.40" y1="191.00" x2="226.40" y2="194.60" stroke="#262626" stroke-width="1.1"/>
<path d="M238.50 133.00V191.00H294.50" fill="none" stroke="#262626" stroke-width="1.1"/>
<line x1="234.90" y1="174.10" x2="238.50" y2="174.10" stroke="#262626" stroke-width="1.1"/>
<line x1="234.90" y1="154.75" x2="238.50" y2="154.75" stroke="#262626" stroke-width="1.1"/>
<line x1="234.90" y1="135.40" x2="238.50" y2="135.40" stroke="#262626" stroke-width="1.1"/>
<line x1="259.40" y1="191.00" x2="259.40" y2="194.60" stroke="#262626" stroke-width="1.1"/>
<line x1="290.90" y1="191.00" x2="290.90" y2="194.60" stroke="#262626" stroke-width="1.1"/>
<path d="M299.50 133.00V191.00H355.50" fill="none" stroke="#262626" stroke-width="1.1"/>
<line x1="295.90" y1="174.10" x2="299.50" y2="174.10" stroke="#262626" stroke-width="1.1"/>
<line x1="295.90" y1="154.75" x2="299.50" y2="154.75" stroke="#262626" stroke-width="1.1"/>
<line x1="295.90" y1="135.40" x2="299.50" y2="135.40" stroke="#262626" stroke-width="1.1"/>
<line x1="314.70" y1="191.00" x2="314.70" y2="194.60" stroke="#262626" stroke-width="1.1"/>
<line x1="335.70" y1="191.00" x2="335.70" y2="194.60" stroke="#262626" stroke-width="1.1"/>
<path d="M360.60 133.00V191.00H416.60" fill="none" stroke="#262626" stroke-width="1.1"/>
<line x1="357.00" y1="174.10" x2="360.60" y2="174.10" stroke="#262626" stroke-width="1.1"/>
<line x1="357.00" y1="154.75" x2="360.60" y2="154.75" stroke="#262626" stroke-width="1.1"/>
<line x1="357.00" y1="135.40" x2="360.60" y2="135.40" stroke="#262626" stroke-width="1.1"/>
<line x1="371.30" y1="191.00" x2="371.30" y2="194.60" stroke="#262626" stroke-width="1.1"/>
<line x1="393.50" y1="191.00" x2="393.50" y2="194.60" stroke="#262626" stroke-width="1.1"/>
<line x1="415.70" y1="191.00" x2="415.70" y2="194.60" stroke="#262626" stroke-width="1.1"/>
<path d="M422.00 133.00V191.00H478.00" fill="none" stroke="#262626" stroke-width="1.1"/>
<line x1="418.40" y1="174.10" x2="422.00" y2="174.10" stroke="#262626" stroke-width="1.1"/>
<line x1="418.40" y1="154.75" x2="422.00" y2="154.75" stroke="#262626" stroke-width="1.1"/>
<line x1="418.40" y1="135.40" x2="422.00" y2="135.40" stroke="#262626" stroke-width="1.1"/>
<line x1="424.00" y1="191.00" x2="424.00" y2="194.60" stroke="#262626" stroke-width="1.1"/>
<line x1="469.50" y1="191.00" x2="469.50" y2="194.60" stroke="#262626" stroke-width="1.1"/>
<path d="M483.50 133.00V191.00H539.50" fill="none" stroke="#262626" stroke-width="1.1"/>
<line x1="479.90" y1="174.10" x2="483.50" y2="174.10" stroke="#262626" stroke-width="1.1"/>
<line x1="479.90" y1="154.75" x2="483.50" y2="154.75" stroke="#262626" stroke-width="1.1"/>
<line x1="479.90" y1="135.40" x2="483.50" y2="135.40" stroke="#262626" stroke-width="1.1"/>
<line x1="484.10" y1="191.00" x2="484.10" y2="194.60" stroke="#262626" stroke-width="1.1"/>
<line x1="527.50" y1="191.00" x2="527.50" y2="194.60" stroke="#262626" stroke-width="1.1"/>
<path d="M54.50 195.00V253.00H110.50" fill="none" stroke="#262626" stroke-width="1.1"/>
<line x1="50.90" y1="246.40" x2="54.50" y2="246.40" stroke="#262626" stroke-width="1.1"/>
<line x1="50.90" y1="230.50" x2="54.50" y2="230.50" stroke="#262626" stroke-width="1.1"/>
<line x1="50.90" y1="214.60" x2="54.50" y2="214.60" stroke="#262626" stroke-width="1.1"/>
<line x1="50.90" y1="198.70" x2="54.50" y2="198.70" stroke="#262626" stroke-width="1.1"/>
<line x1="64.10" y1="253.00" x2="64.10" y2="256.60" stroke="#262626" stroke-width="1.1"/>
<line x1="80.35" y1="253.00" x2="80.35" y2="256.60" stroke="#262626" stroke-width="1.1"/>
<line x1="96.60" y1="253.00" x2="96.60" y2="256.60" stroke="#262626" stroke-width="1.1"/>
<path d="M115.60 195.00V253.00H171.60" fill="none" stroke="#262626" stroke-width="1.1"/>
<line x1="112.00" y1="246.40" x2="115.60" y2="246.40" stroke="#262626" stroke-width="1.1"/>
<line x1="112.00" y1="230.50" x2="115.60" y2="230.50" stroke="#262626" stroke-width="1.1"/>
<line x1="112.00" y1="214.60" x2="115.60" y2="214.60" stroke="#262626" stroke-width="1.1"/>
<line x1="112.00" y1="198.70" x2="115.60" y2="198.70" stroke="#262626" stroke-width="1.1"/>
<line x1="133.60" y1="253.00" x2="133.60" y2="256.60" stroke="#262626" stroke-width="1.1"/>
<line x1="161.80" y1="253.00" x2="161.80" y2="256.60" stroke="#262626" stroke-width="1.1"/>
<path d="M177.00 195.00V253.00H233.00" fill="none" stroke="#262626" stroke-width="1.1"/>
<line x1="173.40" y1="246.40" x2="177.00" y2="246.40" stroke="#262626" stroke-width="1.1"/>
<line x1="173.40" y1="230.50" x2="177.00" y2="230.50" stroke="#262626" stroke-width="1.1"/>
<line x1="173.40" y1="214.60" x2="177.00" y2="214.60" stroke="#262626" stroke-width="1.1"/>
<line x1="173.40" y1="198.70" x2="177.00" y2="198.70" stroke="#262626" stroke-width="1.1"/>
<line x1="179.50" y1="253.00" x2="179.50" y2="256.60" stroke="#262626" stroke-width="1.1"/>
<line x1="202.95" y1="253.00" x2="202.95" y2="256.60" stroke="#262626" stroke-width="1.1"/>
<line x1="226.40" y1="253.00" x2="226.40" y2="256.60" stroke="#262626" stroke-width="1.1"/>
<path d="M238.50 195.00V253.00H294.50" fill="none" stroke="#262626" stroke-width="1.1"/>
<line x1="234.90" y1="246.40" x2="238.50" y2="246.40" stroke="#262626" stroke-width="1.1"/>
<line x1="234.90" y1="230.50" x2="238.50" y2="230.50" stroke="#262626" stroke-width="1.1"/>
<line x1="234.90" y1="214.60" x2="238.50" y2="214.60" stroke="#262626" stroke-width="1.1"/>
<line x1="234.90" y1="198.70" x2="238.50" y2="198.70" stroke="#262626" stroke-width="1.1"/>
<line x1="259.40" y1="253.00" x2="259.40" y2="256.60" stroke="#262626" stroke-width="1.1"/>
<line x1="290.90" y1="253.00" x2="290.90" y2="256.60" stroke="#262626" stroke-width="1.1"/>
<path d="M299.50 195.00V253.00H355.50" fill="none" stroke="#262626" stroke-width="1.1"/>
<line x1="295.90" y1="246.40" x2="299.50" y2="246.40" stroke="#262626" stroke-width="1.1"/>
<line x1="295.90" y1="230.50" x2="299.50" y2="230.50" stroke="#262626" stroke-width="1.1"/>
<line x1="295.90" y1="214.60" x2="299.50" y2="214.60" stroke="#262626" stroke-width="1.1"/>
<line x1="295.90" y1="198.70" x2="299.50" y2="198.70" stroke="#262626" stroke-width="1.1"/>
<line x1="314.70" y1="253.00" x2="314.70" y2="256.60" stroke="#262626" stroke-width="1.1"/>
<line x1="335.70" y1="253.00" x2="335.70" y2="256.60" stroke="#262626" stroke-width="1.1"/>
<path d="M360.60 195.00V253.00H416.60" fill="none" stroke="#262626" stroke-width="1.1"/>
<line x1="357.00" y1="246.40" x2="360.60" y2="246.40" stroke="#262626" stroke-width="1.1"/>
<line x1="357.00" y1="230.50" x2="360.60" y2="230.50" stroke="#262626" stroke-width="1.1"/>
<line x1="357.00" y1="214.60" x2="360.60" y2="214.60" stroke="#262626" stroke-width="1.1"/>
<line x1="357.00" y1="198.70" x2="360.60" y2="198.70" stroke="#262626" stroke-width="1.1"/>
<line x1="371.30" y1="253.00" x2="371.30" y2="256.60" stroke="#262626" stroke-width="1.1"/>
<line x1="393.50" y1="253.00" x2="393.50" y2="256.60" stroke="#262626" stroke-width="1.1"/>
<line x1="415.70" y1="253.00" x2="415.70" y2="256.60" stroke="#262626" stroke-width="1.1"/>
<path d="M422.00 195.00V253.00H478.00" fill="none" stroke="#262626" stroke-width="1.1"/>
<line x1="418.40" y1="246.40" x2="422.00" y2="246.40" stroke="#262626" stroke-width="1.1"/>
<line x1="418.40" y1="230.50" x2="422.00" y2="230.50" stroke="#262626" stroke-width="1.1"/>
<line x1="418.40" y1="214.60" x2="422.00" y2="214.60" stroke="#262626" stroke-width="1.1"/>
<line x1="418.40" y1="198.70" x2="422.00" y2="198.70" stroke="#262626" stroke-width="1.1"/>
<line x1="424.00" y1="253.00" x2="424.00" y2="256.60" stroke="#262626" stroke-width="1.1"/>
<line x1="469.50" y1="253.00" x2="469.50" y2="256.60" stroke="#262626" stroke-width="1.1"/>
<path d="M483.50 195.00V253.00H539.50" fill="none" stroke="#262626" stroke-width="1.1"/>
<line x1="479.90" y1="246.40" x2="483.50" y2="246.40" stroke="#262626" stroke-width="1.1"/>
<line x1="479.90" y1="230.50" x2="483.50" y2="230.50" stroke="#262626" stroke-width="1.1"/>
<line x1="479.90" y1="214.60" x2="483.50" y2="214.60" stroke="#262626" stroke-width="1.1"/>
<line x1="479.90" y1="198.70" x2="483.50" y2="198.70" stroke="#262626" stroke-width="1.1"/>
<line x1="484.10" y1="253.00" x2="484.10" y2="256.60" stroke="#262626" stroke-width="1.1"/>
<line x1="527.50" y1="253.00" x2="527.50" y2="256.60" stroke="#262626" stroke-width="1.1"/>
<path d="M54.50 256.60V314.60H110.50" fill="none" stroke="#262626" stroke-width="1.1"/>
<line x1="50.90" y1="298.90" x2="54.50" y2="298.90" stroke="#262626" stroke-width="1.1"/>
<line x1="50.90" y1="277.50" x2="54.50" y2="277.50" stroke="#262626" stroke-width="1.1"/>
<line x1="64.10" y1="314.60" x2="64.10" y2="318.20" stroke="#262626" stroke-width="1.1"/>
<line x1="80.35" y1="314.60" x2="80.35" y2="318.20" stroke="#262626" stroke-width="1.1"/>
<line x1="96.60" y1="314.60" x2="96.60" y2="318.20" stroke="#262626" stroke-width="1.1"/>
<path d="M115.60 256.60V314.60H171.60" fill="none" stroke="#262626" stroke-width="1.1"/>
<line x1="112.00" y1="298.90" x2="115.60" y2="298.90" stroke="#262626" stroke-width="1.1"/>
<line x1="112.00" y1="277.50" x2="115.60" y2="277.50" stroke="#262626" stroke-width="1.1"/>
<line x1="133.60" y1="314.60" x2="133.60" y2="318.20" stroke="#262626" stroke-width="1.1"/>
<line x1="161.80" y1="314.60" x2="161.80" y2="318.20" stroke="#262626" stroke-width="1.1"/>
<path d="M177.00 256.60V314.60H233.00" fill="none" stroke="#262626" stroke-width="1.1"/>
<line x1="173.40" y1="298.90" x2="177.00" y2="298.90" stroke="#262626" stroke-width="1.1"/>
<line x1="173.40" y1="277.50" x2="177.00" y2="277.50" stroke="#262626" stroke-width="1.1"/>
<line x1="179.50" y1="314.60" x2="179.50" y2="318.20" stroke="#262626" stroke-width="1.1"/>
<line x1="202.95" y1="314.60" x2="202.95" y2="318.20" stroke="#262626" stroke-width="1.1"/>
<line x1="226.40" y1="314.60" x2="226.40" y2="318.20" stroke="#262626" stroke-width="1.1"/>
<path d="M238.50 256.60V314.60H294.50" fill="none" stroke="#262626" stroke-width="1.1"/>
<line x1="234.90" y1="298.90" x2="238.50" y2="298.90" stroke="#262626" stroke-width="1.1"/>
<line x1="234.90" y1="277.50" x2="238.50" y2="277.50" stroke="#262626" stroke-width="1.1"/>
<line x1="259.40" y1="314.60" x2="259.40" y2="318.20" stroke="#262626" stroke-width="1.1"/>
<line x1="290.90" y1="314.60" x2="290.90" y2="318.20" stroke="#262626" stroke-width="1.1"/>
<path d="M299.50 256.60V314.60H355.50" fill="none" stroke="#262626" stroke-width="1.1"/>
<line x1="295.90" y1="298.90" x2="299.50" y2="298.90" stroke="#262626" stroke-width="1.1"/>
<line x1="295.90" y1="277.50" x2="299.50" y2="277.50" stroke="#262626" stroke-width="1.1"/>
<line x1="314.70" y1="314.60" x2="314.70" y2="318.20" stroke="#262626" stroke-width="1.1"/>
<line x1="335.70" y1="314.60" x2="335.70" y2="318.20" stroke="#262626" stroke-width="1.1"/>
<path d="M360.60 256.60V314.60H416.60" fill="none" stroke="#262626" stroke-width="1.1"/>
<line x1="357.00" y1="298.90" x2="360.60" y2="298.90" stroke="#262626" stroke-width="1.1"/>
<line x1="357.00" y1="277.50" x2="360.60" y2="277.50" stroke="#262626" stroke-width="1.1"/>
<line x1="371.30" y1="314.60" x2="371.30" y2="318.20" stroke="#262626" stroke-width="1.1"/>
<line x1="393.50" y1="314.60" x2="393.50" y2="318.20" stroke="#262626" stroke-width="1.1"/>
<line x1="415.70" y1="314.60" x2="415.70" y2="318.20" stroke="#262626" stroke-width="1.1"/>
<path d="M422.00 256.60V314.60H478.00" fill="none" stroke="#262626" stroke-width="1.1"/>
<line x1="418.40" y1="298.90" x2="422.00" y2="298.90" stroke="#262626" stroke-width="1.1"/>
<line x1="418.40" y1="277.50" x2="422.00" y2="277.50" stroke="#262626" stroke-width="1.1"/>
<line x1="424.00" y1="314.60" x2="424.00" y2="318.20" stroke="#262626" stroke-width="1.1"/>
<line x1="469.50" y1="314.60" x2="469.50" y2="318.20" stroke="#262626" stroke-width="1.1"/>
<path d="M483.50 256.60V314.60H539.50" fill="none" stroke="#262626" stroke-width="1.1"/>
<line x1="479.90" y1="298.90" x2="483.50" y2="298.90" stroke="#262626" stroke-width="1.1"/>
<line x1="479.90" y1="277.50" x2="483.50" y2="277.50" stroke="#262626" stroke-width="1.1"/>
<line x1="484.10" y1="314.60" x2="484.10" y2="318.20" stroke="#262626" stroke-width="1.1"/>
<line x1="527.50" y1="314.60" x2="527.50" y2="318.20" stroke="#262626" stroke-width="1.1"/>
<path d="M54.50 318.50V376.50H110.50" fill="none" stroke="#262626" stroke-width="1.1"/>
<line x1="50.90" y1="365.70" x2="54.50" y2="365.70" stroke="#262626" stroke-width="1.1"/>
<line x1="50.90" y1="342.85" x2="54.50" y2="342.85" stroke="#262626" stroke-width="1.1"/>
<line x1="50.90" y1="320.00" x2="54.50" y2="320.00" stroke="#262626" stroke-width="1.1"/>
<line x1="64.10" y1="376.50" x2="64.10" y2="380.10" stroke="#262626" stroke-width="1.1"/>
<line x1="80.35" y1="376.50" x2="80.35" y2="380.10" stroke="#262626" stroke-width="1.1"/>
<line x1="96.60" y1="376.50" x2="96.60" y2="380.10" stroke="#262626" stroke-width="1.1"/>
<path d="M115.60 318.50V376.50H171.60" fill="none" stroke="#262626" stroke-width="1.1"/>
<line x1="112.00" y1="365.70" x2="115.60" y2="365.70" stroke="#262626" stroke-width="1.1"/>
<line x1="112.00" y1="342.85" x2="115.60" y2="342.85" stroke="#262626" stroke-width="1.1"/>
<line x1="112.00" y1="320.00" x2="115.60" y2="320.00" stroke="#262626" stroke-width="1.1"/>
<line x1="133.60" y1="376.50" x2="133.60" y2="380.10" stroke="#262626" stroke-width="1.1"/>
<line x1="161.80" y1="376.50" x2="161.80" y2="380.10" stroke="#262626" stroke-width="1.1"/>
<path d="M177.00 318.50V376.50H233.00" fill="none" stroke="#262626" stroke-width="1.1"/>
<line x1="173.40" y1="365.70" x2="177.00" y2="365.70" stroke="#262626" stroke-width="1.1"/>
<line x1="173.40" y1="342.85" x2="177.00" y2="342.85" stroke="#262626" stroke-width="1.1"/>
<line x1="173.40" y1="320.00" x2="177.00" y2="320.00" stroke="#262626" stroke-width="1.1"/>
<line x1="179.50" y1="376.50" x2="179.50" y2="380.10" stroke="#262626" stroke-width="1.1"/>
<line x1="202.95" y1="376.50" x2="202.95" y2="380.10" stroke="#262626" stroke-width="1.1"/>
<line x1="226.40" y1="376.50" x2="226.40" y2="380.10" stroke="#262626" stroke-width="1.1"/>
<path d="M238.50 318.50V376.50H294.50" fill="none" stroke="#262626" stroke-width="1.1"/>
<line x1="234.90" y1="365.70" x2="238.50" y2="365.70" stroke="#262626" stroke-width="1.1"/>
<line x1="234.90" y1="342.85" x2="238.50" y2="342.85" stroke="#262626" stroke-width="1.1"/>
<line x1="234.90" y1="320.00" x2="238.50" y2="320.00" stroke="#262626" stroke-width="1.1"/>
<line x1="259.40" y1="376.50" x2="259.40" y2="380.10" stroke="#262626" stroke-width="1.1"/>
<line x1="290.90" y1="376.50" x2="290.90" y2="380.10" stroke="#262626" stroke-width="1.1"/>
<path d="M299.50 318.50V376.50H355.50" fill="none" stroke="#262626" stroke-width="1.1"/>
<line x1="295.90" y1="365.70" x2="299.50" y2="365.70" stroke="#262626" stroke-width="1.1"/>
<line x1="295.90" y1="342.85" x2="299.50" y2="342.85" stroke="#262626" stroke-width="1.1"/>
<line x1="295.90" y1="320.00" x2="299.50" y2="320.00" stroke="#262626" stroke-width="1.1"/>
<line x1="314.70" y1="376.50" x2="314.70" y2="380.10" stroke="#262626" stroke-width="1.1"/>
<line x1="335.70" y1="376.50" x2="335.70" y2="380.10" stroke="#262626" stroke-width="1.1"/>
<path d="M360.60 318.50V376.50H416.60" fill="none" stroke="#262626" stroke-width="1.1"/>
<line x1="357.00" y1="365.70" x2="360.60" y2="365.70" stroke="#262626" stroke-width="1.1"/>
<line x1="357.00" y1="342.85" x2="360.60" y2="342.85" stroke="#262626" stroke-width="1.1"/>
<line x1="357.00" y1="320.00" x2="360.60" y2="320.00" stroke="#262626" stroke-width="1.1"/>
<line x1="371.30" y1="376.50" x2="371.30" y2="380.10" stroke="#262626" stroke-width="1.1"/>
<line x1="393.50" y1="376.50" x2="393.50" y2="380.10" stroke="#262626" stroke-width="1.1"/>
<line x1="415.70" y1="376.50" x2="415.70" y2="380.10" stroke="#262626" stroke-width="1.1"/>
<path d="M422.00 318.50V376.50H478.00" fill="none" stroke="#262626" stroke-width="1.1"/>
<line x1="418.40" y1="365.70" x2="422.00" y2="365.70" stroke="#262626" stroke-width="1.1"/>
<line x1="418.40" y1="342.85" x2="422.00" y2="342.85" stroke="#262626" stroke-width="1.1"/>
<line x1="418.40" y1="320.00" x2="422.00" y2="320.00" stroke="#262626" stroke-width="1.1"/>
<line x1="424.00" y1="376.50" x2="424.00" y2="380.10" stroke="#262626" stroke-width="1.1"/>
<line x1="469.50" y1="376.50" x2="469.50" y2="380.10" stroke="#262626" stroke-width="1.1"/>
<path d="M483.50 318.50V376.50H539.50" fill="none" stroke="#262626" stroke-width="1.1"/>
<line x1="479.90" y1="365.70" x2="483.50" y2="365.70" stroke="#262626" stroke-width="1.1"/>
<line x1="479.90" y1="342.85" x2="483.50" y2="342.85" stroke="#262626" stroke-width="1.1"/>
<line x1="479.90" y1="320.00" x2="483.50" y2="320.00" stroke="#262626" stroke-width="1.1"/>
<line x1="484.10" y1="376.50" x2="484.10" y2="380.10" stroke="#262626" stroke-width="1.1"/>
<line x1="527.50" y1="376.50" x2="527.50" y2="380.10" stroke="#262626" stroke-width="1.1"/>
<path d="M54.50 380.20V438.20H110.50" fill="none" stroke="#262626" stroke-width="1.1"/>
<line x1="50.90" y1="436.40" x2="54.50" y2="436.40" stroke="#262626" stroke-width="1.1"/>
<line x1="50.90" y1="413.10" x2="54.50" y2="413.10" stroke="#262626" stroke-width="1.1"/>
<line x1="50.90" y1="389.80" x2="54.50" y2="389.80" stroke="#262626" stroke-width="1.1"/>
<line x1="64.10" y1="438.20" x2="64.10" y2="441.80" stroke="#262626" stroke-width="1.1"/>
<line x1="80.35" y1="438.20" x2="80.35" y2="441.80" stroke="#262626" stroke-width="1.1"/>
<line x1="96.60" y1="438.20" x2="96.60" y2="441.80" stroke="#262626" stroke-width="1.1"/>
<path d="M115.60 380.20V438.20H171.60" fill="none" stroke="#262626" stroke-width="1.1"/>
<line x1="112.00" y1="436.40" x2="115.60" y2="436.40" stroke="#262626" stroke-width="1.1"/>
<line x1="112.00" y1="413.10" x2="115.60" y2="413.10" stroke="#262626" stroke-width="1.1"/>
<line x1="112.00" y1="389.80" x2="115.60" y2="389.80" stroke="#262626" stroke-width="1.1"/>
<line x1="133.60" y1="438.20" x2="133.60" y2="441.80" stroke="#262626" stroke-width="1.1"/>
<line x1="161.80" y1="438.20" x2="161.80" y2="441.80" stroke="#262626" stroke-width="1.1"/>
<path d="M177.00 380.20V438.20H233.00" fill="none" stroke="#262626" stroke-width="1.1"/>
<line x1="173.40" y1="436.40" x2="177.00" y2="436.40" stroke="#262626" stroke-width="1.1"/>
<line x1="173.40" y1="413.10" x2="177.00" y2="413.10" stroke="#262626" stroke-width="1.1"/>
<line x1="173.40" y1="389.80" x2="177.00" y2="389.80" stroke="#262626" stroke-width="1.1"/>
<line x1="179.50" y1="438.20" x2="179.50" y2="441.80" stroke="#262626" stroke-width="1.1"/>
<line x1="202.95" y1="438.20" x2="202.95" y2="441.80" stroke="#262626" stroke-width="1.1"/>
<line x1="226.40" y1="438.20" x2="226.40" y2="441.80" stroke="#262626" stroke-width="1.1"/>
<path d="M238.50 380.20V438.20H294.50" fill="none" stroke="#262626" stroke-width="1.1"/>
<line x1="234.90" y1="436.40" x2="238.50" y2="436.40" stroke="#262626" stroke-width="1.1"/>
<line x1="234.90" y1="413.10" x2="238.50" y2="413.10" stroke="#262626" stroke-width="1.1"/>
<line x1="234.90" y1="389.80" x2="238.50" y2="389.80" stroke="#262626" stroke-width="1.1"/>
<line x1="259.40" y1="438.20" x2="259.40" y2="441.80" stroke="#262626" stroke-width="1.1"/>
<line x1="290.90" y1="438.20" x2="290.90" y2="441.80" stroke="#262626" stroke-width="1.1"/>
<path d="M299.50 380.20V438.20H355.50" fill="none" stroke="#262626" stroke-width="1.1"/>
<line x1="295.90" y1="436.40" x2="299.50" y2="436.40" stroke="#262626" stroke-width="1.1"/>
<line x1="295.90" y1="413.10" x2="299.50" y2="413.10" stroke="#262626" stroke-width="1.1"/>
<line x1="295.90" y1="389.80" x2="299.50" y2="389.80" stroke="#262626" stroke-width="1.1"/>
<line x1="314.70" y1="438.20" x2="314.70" y2="441.80" stroke="#262626" stroke-width="1.1"/>
<line x1="335.70" y1="438.20" x2="335.70" y2="441.80" stroke="#262626" stroke-width="1.1"/>
<path d="M360.60 380.20V438.20H416.60" fill="none" stroke="#262626" stroke-width="1.1"/>
<line x1="357.00" y1="436.40" x2="360.60" y2="436.40" stroke="#262626" stroke-width="1.1"/>
<line x1="357.00" y1="413.10" x2="360.60" y2="413.10" stroke="#262626" stroke-width="1.1"/>
<line x1="357.00" y1="389.80" x2="360.60" y2="389.80" stroke="#262626" stroke-width="1.1"/>
<line x1="371.30" y1="438.20" x2="371.30" y2="441.80" stroke="#262626" stroke-width="1.1"/>
<line x1="393.50" y1="438.20" x2="393.50" y2="441.80" stroke="#262626" stroke-width="1.1"/>
<line x1="415.70" y1="438.20" x2="415.70" y2="441.80" stroke="#262626" stroke-width="1.1"/>
<path d="M422.00 380.20V438.20H478.00" fill="none" stroke="#262626" stroke-width="1.1"/>
<line x1="418.40" y1="436.40" x2="422.00" y2="436.40" stroke="#262626" stroke-width="1.1"/>
<line x1="418.40" y1="413.10" x2="422.00" y2="413.10" stroke="#262626" stroke-width="1.1"/>
<line x1="418.40" y1="389.80" x2="422.00" y2="389.80" stroke="#262626" stroke-width="1.1"/>
<line x1="424.00" y1="438.20" x2="424.00" y2="441.80" stroke="#262626" stroke-width="1.1"/>
<line x1="469.50" y1="438.20" x2="469.50" y2="441.80" stroke="#262626" stroke-width="1.1"/>
<path d="M483.50 380.20V438.20H539.50" fill="none" stroke="#262626" stroke-width="1.1"/>
<line x1="479.90" y1="436.40" x2="483.50" y2="436.40" stroke="#262626" stroke-width="1.1"/>
<line x1="479.90" y1="413.10" x2="483.50" y2="413.10" stroke="#262626" stroke-width="1.1"/>
<line x1="479.90" y1="389.80" x2="483.50" y2="389.80" stroke="#262626" stroke-width="1.1"/>
<line x1="484.10" y1="438.20" x2="484.10" y2="441.80" stroke="#262626" stroke-width="1.1"/>
<line x1="527.50" y1="438.20" x2="527.50" y2="441.80" stroke="#262626" stroke-width="1.1"/>
<path d="M54.50 441.40V499.40H110.50" fill="none" stroke="#262626" stroke-width="1.1"/>
<line x1="50.90" y1="499.40" x2="54.50" y2="499.40" stroke="#262626" stroke-width="1.1"/>
<line x1="50.90" y1="477.15" x2="54.50" y2="477.15" stroke="#262626" stroke-width="1.1"/>
<line x1="50.90" y1="454.90" x2="54.50" y2="454.90" stroke="#262626" stroke-width="1.1"/>
<line x1="64.10" y1="499.40" x2="64.10" y2="503.00" stroke="#262626" stroke-width="1.1"/>
<line x1="80.35" y1="499.40" x2="80.35" y2="503.00" stroke="#262626" stroke-width="1.1"/>
<line x1="96.60" y1="499.40" x2="96.60" y2="503.00" stroke="#262626" stroke-width="1.1"/>
<path d="M115.60 441.40V499.40H171.60" fill="none" stroke="#262626" stroke-width="1.1"/>
<line x1="112.00" y1="499.40" x2="115.60" y2="499.40" stroke="#262626" stroke-width="1.1"/>
<line x1="112.00" y1="477.15" x2="115.60" y2="477.15" stroke="#262626" stroke-width="1.1"/>
<line x1="112.00" y1="454.90" x2="115.60" y2="454.90" stroke="#262626" stroke-width="1.1"/>
<line x1="133.60" y1="499.40" x2="133.60" y2="503.00" stroke="#262626" stroke-width="1.1"/>
<line x1="161.80" y1="499.40" x2="161.80" y2="503.00" stroke="#262626" stroke-width="1.1"/>
<path d="M177.00 441.40V499.40H233.00" fill="none" stroke="#262626" stroke-width="1.1"/>
<line x1="173.40" y1="499.40" x2="177.00" y2="499.40" stroke="#262626" stroke-width="1.1"/>
<line x1="173.40" y1="477.15" x2="177.00" y2="477.15" stroke="#262626" stroke-width="1.1"/>
<line x1="173.40" y1="454.90" x2="177.00" y2="454.90" stroke="#262626" stroke-width="1.1"/>
<line x1="179.50" y1="499.40" x2="179.50" y2="503.00" stroke="#262626" stroke-width="1.1"/>
<line x1="202.95" y1="499.40" x2="202.95" y2="503.00" stroke="#262626" stroke-width="1.1"/>
<line x1="226.40" y1="499.40" x2="226.40" y2="503.00" stroke="#262626" stroke-width="1.1"/>
<path d="M238.50 441.40V499.40H294.50" fill="none" stroke="#262626" stroke-width="1.1"/>
<line x1="234.90" y1="499.40" x2="238.50" y2="499.40" stroke="#262626" stroke-width="1.1"/>
<line x1="234.90" y1="477.15" x2="238.50" y2="477.15" stroke="#262626" stroke-width="1.1"/>
<line x1="234.90" y1="454.90" x2="238.50" y2="454.90" stroke="#262626" stroke-width="1.1"/>
<line x1="259.40" y1="499.40" x2="259.40" y2="503.00" stroke="#262626" stroke-width="1.1"/>
<line x1="290.90" y1="499.40" x2="290.90" y2="503.00" stroke="#262626" stroke-width="1.1"/>
<path d="M299.50 441.40V499.40H355.50" fill="none" stroke="#262626" stroke-width="1.1"/>
<line x1="295.90" y1="499.40" x2="299.50" y2="499.40" stroke="#262626" stroke-width="1.1"/>
<line x1="295.90" y1="477.15" x2="299.50" y2="477.15" stroke="#262626" stroke-width="1.1"/>
<line x1="295.90" y1="454.90" x2="299.50" y2="454.90" stroke="#262626" stroke-width="1.1"/>
<line x1="314.70" y1="499.40" x2="314.70" y2="503.00" stroke="#262626" stroke-width="1.1"/>
<line x1="335.70" y1="499.40" x2="335.70" y2="503.00" stroke="#262626" stroke-width="1.1"/>
<path d="M360.60 441.40V499.40H416.60" fill="none" stroke="#262626" stroke-width="1.1"/>
<line x1="357.00" y1="499.40" x2="360.60" y2="499.40" stroke="#262626" stroke-width="1.1"/>
<line x1="357.00" y1="477.15" x2="360.60" y2="477.15" stroke="#262626" stroke-width="1.1"/>
<line x1="357.00" y1="454.90" x2="360.60" y2="454.90" stroke="#262626" stroke-width="1.1"/>
<line x1="371.30" y1="499.40" x2="371.30" y2="503.00" stroke="#262626" stroke-width="1.1"/>
<line x1="393.50" y1="499.40" x2="393.50" y2="503.00" stroke="#262626" stroke-width="1.1"/>
<line x1="415.70" y1="499.40" x2="415.70" y2="503.00" stroke="#262626" stroke-width="1.1"/>
<path d="M422.00 441.40V499.40H478.00" fill="none" stroke="#262626" stroke-width="1.1"/>
<line x1="418.40" y1="499.40" x2="422.00" y2="499.40" stroke="#262626" stroke-width="1.1"/>
<line x1="418.40" y1="477.15" x2="422.00" y2="477.15" stroke="#262626" stroke-width="1.1"/>
<line x1="418.40" y1="454.90" x2="422.00" y2="454.90" stroke="#262626" stroke-width="1.1"/>
<line x1="424.00" y1="499.40" x2="424.00" y2="503.00" stroke="#262626" stroke-width="1.1"/>
<line x1="469.50" y1="499.40" x2="469.50" y2="503.00" stroke="#262626" stroke-width="1.1"/>
<path d="M483.50 441.40V499.40H539.50" fill="none" stroke="#262626" stroke-width="1.1"/>
<line x1="479.90" y1="499.40" x2="483.50" y2="499.40" stroke="#262626" stroke-width="1.1"/>
<line x1="479.90" y1="477.15" x2="483.50" y2="477.15" stroke="#262626" stroke-width="1.1"/>
<line x1="479.90" y1="454.90" x2="483.50" y2="454.90" stroke="#262626" stroke-width="1.1"/>
<line x1="484.10" y1="499.40" x2="484.10" y2="503.00" stroke="#262626" stroke-width="1.1"/>
<line x1="527.50" y1="499.40" x2="527.50" y2="503.00" stroke="#262626" stroke-width="1.1"/>
<g font-family="'Liberation Serif', 'DejaVu Serif', serif" fill="#262626" stroke="#262626" stroke-width="0.1">
<text x="46.50" y="59.60" font-size="6.7" text-anchor="end">250</text>
<text x="46.50" y="43.10" font-size="6.7" text-anchor="end">500</text>
<text x="46.50" y="26.60" font-size="6.7" text-anchor="end">750</text>
<text x="46.50" y="112.70" font-size="6.7" text-anchor="end">200</text>
<text x="46.50" y="84.10" font-size="6.7" text-anchor="end">400</text>
<text x="46.50" y="176.30" font-size="6.7" text-anchor="end">4</text>
<text x="46.50" y="156.95" font-size="6.7" text-anchor="end">6</text>
<text x="46.50" y="137.60" font-size="6.7" text-anchor="end">8</text>
<text x="46.50" y="248.60" font-size="6.7" text-anchor="end">25</text>
<text x="46.50" y="232.70" font-size="6.7" text-anchor="end">50</text>
<text x="46.50" y="216.80" font-size="6.7" text-anchor="end">75</text>
<text x="46.50" y="200.90" font-size="6.7" text-anchor="end">100</text>
<text x="46.50" y="301.10" font-size="6.7" text-anchor="end">1000</text>
<text x="46.50" y="279.70" font-size="6.7" text-anchor="end">2000</text>
<text x="46.50" y="367.90" font-size="6.7" text-anchor="end">5,000</text>
<text x="46.50" y="345.05" font-size="6.7" text-anchor="end">10,000</text>
<text x="46.50" y="322.20" font-size="6.7" text-anchor="end">150,000</text>
<text x="46.50" y="438.60" font-size="6.7" text-anchor="end">0.00</text>
<text x="46.50" y="415.30" font-size="6.7" text-anchor="end">0.05</text>
<text x="46.50" y="392.00" font-size="6.7" text-anchor="end">0.10</text>
<text x="46.50" y="501.60" font-size="6.7" text-anchor="end">0</text>
<text x="46.50" y="479.35" font-size="6.7" text-anchor="end">100,000</text>
<text x="46.50" y="457.10" font-size="6.7" text-anchor="end">200,000</text>
<text x="64.10" y="512.9" font-size="6.7" text-anchor="middle">250</text>
<text x="80.35" y="512.9" font-size="6.7" text-anchor="middle">500</text>
<text x="96.60" y="512.9" font-size="6.7" text-anchor="middle">750</text>
<text x="133.60" y="512.9" font-size="6.7" text-anchor="middle">200</text>
<text x="161.80" y="512.9" font-size="6.7" text-anchor="middle">400</text>
<text x="179.50" y="512.9" font-size="6.7" text-anchor="middle">2.5</text>
<text x="202.95" y="512.9" font-size="6.7" text-anchor="middle">5.0</text>
<text x="226.40" y="512.9" font-size="6.7" text-anchor="middle">7.5</text>
<text x="259.40" y="512.9" font-size="6.7" text-anchor="middle">50</text>
<text x="290.90" y="512.9" font-size="6.7" text-anchor="middle">100</text>
<text x="314.70" y="512.9" font-size="6.7" text-anchor="middle">1000</text>
<text x="335.70" y="512.9" font-size="6.7" text-anchor="middle">2000</text>
<text x="364.90" y="512.9" font-size="6.7" text-anchor="middle">50,000</text>
<text x="386.80" y="512.9" font-size="6.7" text-anchor="middle">100,000</text>
<text x="410.80" y="512.9" font-size="6.7" text-anchor="middle">150,000</text>
<text x="430.40" y="512.9" font-size="6.7" text-anchor="middle">0.0</text>
<text x="469.50" y="513.6" font-size="6.7" text-anchor="middle">0.1</text>
<text x="484.10" y="512.9" font-size="6.7" text-anchor="middle">0</text>
<text x="529.10" y="512.9" font-size="6.7" text-anchor="middle">200,000</text>
<g transform="translate(80.2,526.7)"><text x="0" y="0" font-size="11" font-style="italic">d</text></g>
<g transform="translate(29.0,40.8) rotate(-90)"><text x="0" y="0" font-size="11" font-style="italic">d</text></g>
<g transform="translate(139.0,526.5)"><text x="0" y="0" font-size="11" font-style="italic">b</text><text x="5.1" y="1.6" font-size="8" font-style="italic">w</text></g>
<g transform="translate(29.2,105.1) rotate(-90)"><text x="0" y="0" font-size="11" font-style="italic">b</text><text x="5.1" y="1.6" font-size="8" font-style="italic">w</text></g>
<g transform="translate(199.1,526.4)"><text x="0" y="0" font-size="11">a/d</text></g>
<g transform="translate(37.1,169.0) rotate(-90)"><text x="0" y="0" font-size="11">a/d</text></g>
<g transform="translate(262.3,527.6)"><text x="0" y="0" font-size="11.5" font-style="italic">f</text><text x="3.0" y="-1.9" font-size="11" font-style="italic">′</text><text x="5.1" y="3.2" font-size="8" font-style="italic">c</text></g>
<g transform="translate(28.0,227.5) rotate(-90)"><text x="0" y="0" font-size="11.5" font-style="italic">f</text><text x="3.0" y="-1.9" font-size="11" font-style="italic">′</text><text x="5.1" y="3.2" font-size="8" font-style="italic">c</text></g>
<g transform="translate(322.3,527.0)"><text x="0" y="0" font-size="11.5" font-style="italic">f</text><text x="4.4" y="1.0" font-size="7.5" font-style="italic">fu</text></g>
<g transform="translate(25.5,290.8) rotate(-90)"><text x="0" y="0" font-size="11.5" font-style="italic">f</text><text x="4.4" y="1.0" font-size="7.5" font-style="italic">fu</text></g>
<g transform="translate(384.5,526.1)"><text x="0" y="0" font-size="11" font-style="italic">E</text><text x="5.3" y="1.6" font-size="8" font-style="italic">f</text></g>
<g transform="translate(18.1,351.5) rotate(-90)"><text x="0" y="0" font-size="11" font-style="italic">E</text><text x="5.3" y="1.6" font-size="8" font-style="italic">f</text></g>
<g transform="translate(445.2,525.5)"><text x="0" y="0" font-size="11" font-style="italic">ρ</text><text x="5.6" y="1.8" font-size="7.5" font-style="italic">fl</text></g>
<g transform="translate(26.6,414.2) rotate(-90)"><text x="0" y="0" font-size="11" font-style="italic">ρ</text><text x="5.6" y="1.8" font-size="7.5" font-style="italic">fl</text></g>
<g transform="translate(499.8,526.1)"><text x="0" y="0" font-size="11" font-style="italic">V</text><text x="6.2" y="1.5" font-size="8.5" font-style="italic">u,exp</text></g>
<g transform="translate(17.8,483.2) rotate(-90)"><text x="0" y="0" font-size="11" font-style="italic">V</text><text x="6.2" y="1.5" font-size="8.5" font-style="italic">u,exp</text></g>
</g>
</svg>
</body></html>
